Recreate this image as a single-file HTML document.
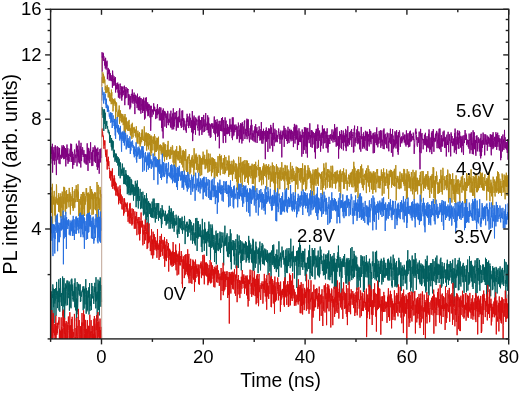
<!DOCTYPE html>
<html><head><meta charset="utf-8"><style>
html,body{margin:0;padding:0;background:#fff;width:520px;height:393px;overflow:hidden}
svg{display:block}
text{font-family:"Liberation Sans",Arial,sans-serif;font-size:18.5px;fill:#000}
.t{font-size:19.3px}
.yl{font-size:19.7px}
</style></head><body>
<svg width="520" height="393" viewBox="0 0 520 393">
<defs><filter id="b" x="0" y="0" width="1" height="1"><feGaussianBlur stdDeviation="0.5"/></filter><clipPath id="c"><rect x="50.6" y="9.3" width="458.1" height="329.6"/></clipPath></defs>
<g clip-path="url(#c)"><g filter="url(#b)" fill="none" stroke-width="1" stroke-linejoin="round">
<polyline points="50.6,146.3 50.8,163.5 51.0,149.2 51.2,152.8 51.4,154.0 51.6,149.9 51.8,146.6 52.0,158.9 52.2,156.9 52.4,143.8 52.6,172.6 52.8,161.3 53.0,149.8 53.2,160.8 53.4,151.6 53.6,154.1 53.8,159.9 54.0,147.1 54.2,158.4 54.4,164.6 54.6,164.0 54.8,152.6 55.0,160.8 55.2,145.3 55.4,153.5 55.6,157.5 55.8,146.7 56.0,154.0 56.2,167.2 56.4,175.1 56.6,159.8 56.8,160.2 57.0,148.7 57.2,147.4 57.4,146.3 57.6,158.2 57.8,159.7 58.0,150.4 58.2,147.3 58.4,156.2 58.6,156.6 58.8,153.6 59.0,163.6 59.2,153.9 59.4,154.1 59.6,147.9 59.8,155.4 60.0,164.2 60.2,154.9 60.4,154.9 60.6,157.4 60.8,156.3 61.0,158.1 61.2,158.1 61.4,158.7 61.6,149.6 61.8,156.5 62.0,145.4 62.2,156.3 62.4,147.1 62.6,154.0 62.8,157.7 63.0,151.9 63.2,155.1 63.4,145.2 63.6,149.3 63.8,159.2 64.0,147.7 64.2,158.9 64.4,146.5 64.6,149.0 64.8,148.0 65.0,154.5 65.2,158.1 65.4,148.1 65.6,153.3 65.8,166.4 66.0,152.5 66.2,149.5 66.4,157.1 66.6,153.1 66.8,150.2 67.0,144.5 67.2,160.1 67.4,150.9 67.6,154.5 67.8,148.2 68.0,163.8 68.2,159.6 68.4,161.4 68.6,153.8 68.8,157.6 69.0,160.7 69.2,161.7 69.4,156.6 69.6,154.1 69.8,152.2 70.0,149.9 70.2,148.7 70.4,156.9 70.6,152.9 70.8,143.6 71.0,153.5 71.2,162.0 71.4,152.7 71.6,144.2 71.8,153.7 72.0,159.9 72.2,155.8 72.4,151.8 72.6,168.3 72.8,168.7 73.0,153.8 73.2,160.1 73.4,157.1 73.6,159.9 73.8,165.0 74.0,160.2 74.2,155.1 74.4,150.5 74.6,149.5 74.8,154.3 75.0,162.7 75.2,156.5 75.4,154.8 75.6,156.2 75.8,154.7 76.0,158.2 76.2,147.8 76.4,143.7 76.6,151.8 76.8,147.7 77.0,166.3 77.2,153.5 77.4,152.9 77.6,145.7 77.8,156.4 78.0,150.6 78.2,162.4 78.4,160.3 78.6,149.7 78.8,157.2 79.0,140.6 79.2,150.3 79.4,163.4 79.6,159.9 79.8,155.6 80.0,154.3 80.2,146.3 80.4,146.6 80.6,156.0 80.8,167.5 81.0,142.8 81.2,158.8 81.4,158.6 81.6,161.1 81.8,149.2 82.0,151.2 82.2,154.8 82.4,148.3 82.6,147.3 82.8,149.1 83.0,154.0 83.2,157.0 83.4,154.3 83.6,155.0 83.8,150.3 84.0,150.1 84.2,162.4 84.4,154.1 84.6,153.9 84.8,161.0 85.0,163.3 85.2,163.6 85.4,157.2 85.6,154.2 85.8,156.4 86.0,155.7 86.2,164.6 86.4,156.4 86.6,158.8 86.8,154.3 87.0,164.4 87.2,143.3 87.4,157.0 87.6,159.7 87.8,147.6 88.0,170.9 88.2,153.5 88.4,153.4 88.6,148.1 88.8,160.6 89.0,156.0 89.2,150.8 89.4,156.0 89.6,159.2 89.8,163.1 90.0,155.9 90.2,148.7 90.4,151.0 90.6,142.3 90.8,150.0 91.0,159.5 91.2,157.6 91.4,153.8 91.6,152.3 91.8,166.1 92.0,156.4 92.2,160.8 92.4,157.1 92.6,150.4 92.8,165.8 93.0,147.2 93.2,147.4 93.4,151.8 93.6,150.0 93.8,151.0 94.0,150.8 94.2,161.4 94.4,154.8 94.6,156.8 94.8,145.5 95.0,149.3 95.2,162.1 95.4,147.4 95.6,162.9 95.8,148.3 96.0,156.5 96.2,149.4 96.4,155.8 96.6,149.1 96.8,152.8 97.0,166.8 97.2,152.1 97.4,169.9 97.6,151.6 97.8,147.6 98.0,155.0 98.2,151.9 98.4,167.5 98.6,160.5 98.8,162.9 99.0,158.8 99.2,173.7 99.4,160.0 99.6,158.1 99.8,149.4 100.0,149.0 100.2,155.7 100.4,161.5 100.6,162.4 100.8,148.8 101.0,158.1 101.2,155.8 101.4,147.9 101.6,157.9" stroke="#800080" />
<polyline points="101.8,52.2 102.0,60.8 102.2,71.6 102.4,55.9 102.6,59.7 102.8,52.5 103.0,55.5 103.2,61.0 103.4,53.4 103.6,56.7 103.8,56.1 104.0,56.6 104.2,59.5 104.4,61.4 104.6,65.5 104.8,64.3 105.0,59.2 105.2,68.5 105.4,68.3 105.6,57.8 105.8,66.9 106.0,68.3 106.2,69.6 106.4,68.4 106.6,61.8 106.8,66.2 107.0,60.7 107.2,67.9 107.4,79.2 107.6,73.0 107.8,74.4 108.0,69.1 108.2,67.9 108.4,68.3 108.6,73.7 108.8,70.6 109.0,71.9 109.2,80.6 109.4,69.6 109.6,71.3 109.8,75.0 110.0,77.4 110.2,77.9 110.4,73.3 110.6,79.9 110.8,78.7 111.0,81.1 111.2,75.2 111.4,81.0 111.6,81.1 111.8,77.5 112.0,79.5 112.2,78.3 112.4,87.7 112.6,70.6 112.8,75.6 113.0,74.9 113.2,80.1 113.4,79.1 113.6,80.4 113.8,85.8 114.0,76.2 114.2,79.3 114.4,82.1 114.6,78.3 114.8,85.2 115.0,85.2 115.2,80.8 115.4,77.2 115.6,92.5 115.8,86.7 116.0,86.7 116.2,85.2 116.4,85.0 116.6,89.3 116.8,85.4 117.0,82.9 117.2,89.3 117.4,86.4 117.6,82.9 117.8,82.6 118.0,92.6 118.2,89.9 118.4,97.6 118.6,84.9 118.8,84.2 119.0,89.6 119.2,95.0 119.4,91.0 119.6,90.4 119.8,98.6 120.0,85.4 120.2,83.6 120.4,85.8 120.6,87.8 120.8,91.2 121.0,94.8 121.2,91.7 121.4,97.9 121.6,86.5 121.8,100.6 122.0,86.8 122.2,96.6 122.4,86.7 122.6,92.6 122.8,91.3 123.0,93.8 123.2,95.2 123.4,90.6 123.6,91.4 123.8,93.1 124.0,86.5 124.2,89.0 124.4,85.7 124.6,92.6 124.8,105.2 125.0,96.6 125.2,89.2 125.4,90.1 125.6,98.4 125.8,91.4 126.0,87.0 126.2,89.4 126.4,89.5 126.6,89.7 126.8,97.8 127.1,94.9 127.3,88.4 127.5,92.4 127.7,90.1 127.9,90.0 128.1,89.0 128.3,105.2 128.5,94.3 128.7,98.8 128.9,100.6 129.1,94.4 129.3,99.1 129.5,99.3 129.7,97.8 129.9,109.3 130.1,98.5 130.3,96.1 130.5,100.7 130.7,107.5 130.9,102.9 131.1,95.6 131.3,94.0 131.5,93.8 131.7,95.1 131.9,100.2 132.1,102.8 132.3,89.4 132.5,98.5 132.7,93.8 132.9,102.3 133.1,103.7 133.3,95.5 133.5,97.0 133.7,94.9 133.9,101.4 134.1,92.6 134.3,94.6 134.5,96.5 134.7,106.5 134.9,114.1 135.1,100.1 135.3,94.7 135.5,100.6 135.7,96.4 135.9,102.8 136.1,95.6 136.3,98.9 136.5,100.8 136.7,103.6 136.9,100.7 137.1,108.1 137.3,101.9 137.5,93.7 137.7,106.4 137.9,100.2 138.1,98.6 138.3,110.2 138.5,97.4 138.7,102.4 138.9,98.8 139.1,109.8 139.3,100.6 139.5,103.7 139.7,96.4 139.9,110.7 140.1,97.9 140.3,107.8 140.5,109.1 140.7,110.0 140.9,113.7 141.1,98.1 141.3,105.6 141.5,104.3 141.7,105.9 141.9,109.9 142.1,104.5 142.3,100.2 142.5,103.7 142.7,113.0 142.9,99.0 143.1,104.9 143.3,100.1 143.5,110.8 143.7,97.6 143.9,103.3 144.1,104.4 144.3,105.8 144.5,119.5 144.7,114.3 144.9,100.7 145.1,118.5 145.3,100.3 145.5,97.9 145.7,99.4 145.9,107.3 146.1,109.3 146.3,97.3 146.5,109.1 146.7,105.6 146.9,110.9 147.1,105.3 147.3,112.3 147.5,110.6 147.7,102.3 147.9,116.2 148.1,109.2 148.3,112.2 148.5,115.5 148.7,103.9 148.9,108.2 149.1,104.9 149.3,104.5 149.5,110.6 149.7,111.1 149.9,117.1 150.1,117.6 150.3,109.6 150.5,105.8 150.7,130.8 150.9,123.1 151.1,109.6 151.3,105.8 151.5,108.3 151.7,112.0 151.9,117.1 152.1,116.2 152.3,113.2 152.5,109.7 152.7,112.0 152.9,109.6 153.1,111.7 153.3,110.9 153.5,114.4 153.7,103.3 153.9,110.0 154.1,110.4 154.3,106.6 154.5,111.2 154.7,107.1 154.9,109.0 155.1,110.9 155.3,111.2 155.5,109.8 155.7,119.1 155.9,113.9 156.1,114.7 156.3,114.3 156.5,109.9 156.7,109.0 156.9,118.2 157.1,111.7 157.3,105.6 157.5,104.2 157.7,115.1 157.9,110.3 158.1,113.7 158.3,111.4 158.5,112.2 158.7,113.5 158.9,108.6 159.1,114.6 159.3,120.4 159.5,118.8 159.7,107.0 159.9,108.7 160.1,108.9 160.3,114.0 160.5,120.3 160.7,117.3 160.9,107.6 161.1,116.1 161.3,120.5 161.5,113.7 161.7,127.9 161.9,112.9 162.1,123.2 162.3,131.4 162.5,110.4 162.7,114.9 162.9,119.9 163.1,138.4 163.3,108.5 163.5,120.0 163.7,118.4 163.9,114.7 164.1,112.7 164.3,114.3 164.5,115.4 164.7,110.9 164.9,126.6 165.1,111.7 165.3,115.0 165.5,113.9 165.7,115.1 165.9,117.8 166.1,113.5 166.3,116.2 166.5,128.0 166.7,123.7 166.9,116.0 167.1,122.8 167.3,113.7 167.5,118.9 167.7,110.9 167.9,112.2 168.1,113.5 168.3,125.2 168.5,119.2 168.7,121.0 168.9,118.8 169.1,120.1 169.3,120.4 169.5,122.5 169.7,119.0 169.9,113.6 170.1,114.2 170.3,125.5 170.5,126.8 170.7,121.5 170.9,110.7 171.1,128.1 171.3,120.3 171.5,118.2 171.7,118.7 171.9,116.7 172.1,129.6 172.3,129.1 172.5,113.5 172.7,117.8 172.9,120.6 173.1,126.6 173.3,108.3 173.5,124.4 173.7,129.3 173.9,117.3 174.1,118.9 174.3,126.6 174.5,121.3 174.7,112.7 174.9,113.5 175.1,114.1 175.3,112.5 175.5,119.3 175.7,116.7 175.9,119.7 176.1,123.6 176.3,130.7 176.5,120.8 176.7,111.0 176.9,128.1 177.1,119.1 177.3,126.7 177.5,117.4 177.7,121.5 177.9,119.2 178.1,119.8 178.3,127.7 178.5,116.6 178.7,121.0 178.9,121.3 179.1,118.1 179.3,110.3 179.5,122.2 179.7,108.3 179.9,113.1 180.1,118.0 180.3,122.8 180.5,125.5 180.7,125.3 180.9,124.0 181.1,118.7 181.3,127.9 181.5,119.3 181.7,127.4 181.9,110.7 182.1,116.0 182.3,117.9 182.5,120.9 182.7,110.4 182.9,125.8 183.1,126.9 183.3,125.7 183.5,118.4 183.7,130.1 183.9,118.4 184.1,126.6 184.3,121.0 184.5,121.3 184.7,120.6 184.9,121.3 185.1,128.1 185.3,130.3 185.5,130.3 185.7,126.9 185.9,125.5 186.1,124.2 186.3,132.7 186.5,119.3 186.7,118.4 186.9,122.0 187.1,113.8 187.3,120.5 187.5,121.5 187.7,116.6 187.9,118.8 188.1,125.9 188.3,120.7 188.5,122.4 188.7,128.1 188.9,118.8 189.1,116.3 189.3,121.8 189.5,124.5 189.7,113.6 189.9,125.9 190.1,120.5 190.3,120.0 190.5,117.8 190.7,121.2 190.9,128.0 191.1,125.3 191.3,127.1 191.5,120.4 191.7,132.3 191.9,130.2 192.1,122.3 192.3,111.0 192.5,122.9 192.7,141.1 192.9,122.3 193.1,117.4 193.3,133.4 193.5,119.4 193.7,125.5 193.9,127.2 194.1,115.6 194.3,123.5 194.5,130.0 194.7,121.1 194.9,126.7 195.1,122.8 195.3,129.1 195.5,134.7 195.7,117.4 195.9,121.5 196.1,125.3 196.3,119.7 196.5,118.8 196.7,121.2 196.9,121.7 197.1,119.7 197.3,125.1 197.5,128.0 197.7,127.6 197.9,127.3 198.1,130.6 198.3,116.6 198.5,122.7 198.7,124.5 198.9,126.5 199.1,115.6 199.3,135.5 199.5,118.9 199.7,125.0 199.9,127.9 200.1,130.2 200.3,120.0 200.5,120.8 200.7,125.8 200.9,127.1 201.1,129.2 201.3,123.4 201.5,120.1 201.7,117.2 201.9,134.9 202.1,117.1 202.3,128.0 202.5,125.5 202.7,128.5 202.9,129.7 203.1,132.3 203.3,123.7 203.5,126.3 203.7,114.9 203.9,124.4 204.1,119.4 204.3,123.3 204.5,131.8 204.7,124.8 204.9,130.9 205.1,123.2 205.3,126.6 205.5,122.1 205.7,113.0 205.9,120.6 206.1,123.0 206.3,125.3 206.5,124.5 206.7,123.8 206.9,130.2 207.1,128.2 207.3,122.4 207.5,129.8 207.7,115.3 207.9,123.1 208.1,123.9 208.3,132.8 208.5,121.9 208.7,117.5 208.9,125.8 209.1,135.6 209.3,123.7 209.5,124.4 209.7,123.8 209.9,125.3 210.1,133.1 210.3,137.8 210.5,127.8 210.7,124.5 210.9,137.1 211.1,125.7 211.3,125.6 211.5,123.3 211.7,123.5 211.9,126.7 212.1,123.8 212.3,127.8 212.5,125.9 212.7,128.7 212.9,123.4 213.1,124.4 213.3,127.0 213.5,126.0 213.7,126.2 213.9,132.9 214.1,120.2 214.3,116.5 214.5,130.1 214.7,124.5 214.9,134.3 215.1,125.4 215.3,119.9 215.5,140.5 215.7,128.3 215.9,123.6 216.1,122.1 216.3,129.4 216.5,122.5 216.7,128.4 216.9,133.4 217.1,119.3 217.3,124.3 217.5,129.1 217.7,137.0 217.9,132.0 218.1,123.9 218.3,135.7 218.5,124.5 218.7,125.6 218.9,128.7 219.1,120.9 219.3,148.3 219.5,134.1 219.7,127.9 219.9,123.6 220.1,120.8 220.3,128.9 220.5,131.0 220.7,124.7 220.9,125.8 221.1,130.2 221.3,126.6 221.5,118.0 221.7,131.0 221.9,128.5 222.1,131.5 222.3,123.1 222.5,117.2 222.7,120.8 222.9,129.0 223.1,141.0 223.3,143.1 223.5,129.1 223.7,120.1 223.9,125.6 224.1,130.1 224.3,130.0 224.5,128.1 224.7,136.0 224.9,122.8 225.1,117.4 225.3,123.0 225.5,121.7 225.7,142.7 225.9,126.7 226.1,120.6 226.3,131.5 226.5,134.0 226.7,128.2 226.9,129.0 227.1,134.3 227.3,131.1 227.5,124.3 227.7,131.6 227.9,133.8 228.1,130.2 228.3,133.5 228.5,131.7 228.7,126.9 228.9,127.5 229.1,132.0 229.3,125.3 229.5,135.6 229.7,136.1 229.9,118.8 230.1,128.1 230.3,124.5 230.5,125.1 230.7,129.4 230.9,127.7 231.1,132.0 231.3,130.6 231.5,130.9 231.7,124.6 231.9,126.9 232.1,138.2 232.3,117.5 232.5,140.1 232.7,125.9 232.9,136.4 233.1,117.3 233.3,126.8 233.5,134.3 233.7,130.0 233.9,135.5 234.1,124.6 234.3,126.2 234.5,125.7 234.7,132.3 234.9,132.1 235.1,128.7 235.3,127.9 235.5,127.8 235.7,130.0 235.9,124.5 236.1,129.2 236.3,128.8 236.5,126.7 236.7,126.5 236.9,139.2 237.1,126.4 237.3,132.2 237.5,138.5 237.7,134.3 237.9,129.9 238.1,136.1 238.3,122.6 238.5,123.5 238.7,127.7 238.9,128.7 239.1,129.5 239.3,142.5 239.5,141.1 239.7,129.9 239.9,131.6 240.1,125.3 240.3,132.1 240.5,123.3 240.7,139.2 240.9,127.4 241.1,133.6 241.3,123.6 241.5,139.2 241.7,134.1 241.9,143.5 242.1,130.8 242.3,122.3 242.5,126.3 242.7,124.0 242.9,140.8 243.1,127.2 243.3,126.5 243.5,134.2 243.7,132.2 243.9,133.7 244.1,127.9 244.3,121.1 244.5,123.8 244.7,120.4 244.9,139.0 245.1,136.5 245.3,128.8 245.5,134.7 245.7,135.1 245.9,134.8 246.1,134.2 246.3,136.5 246.5,131.6 246.7,120.6 246.9,118.7 247.1,139.2 247.3,134.8 247.5,119.6 247.7,132.3 247.9,126.6 248.1,128.3 248.3,119.4 248.5,136.1 248.7,130.9 248.9,136.5 249.1,138.3 249.3,139.7 249.5,142.3 249.7,133.3 249.9,132.9 250.1,128.1 250.3,134.8 250.5,130.3 250.7,125.5 250.9,139.4 251.1,136.1 251.3,119.6 251.5,122.6 251.7,130.6 251.9,124.9 252.1,139.8 252.3,133.0 252.5,135.5 252.7,137.9 252.9,140.7 253.1,130.5 253.3,136.0 253.5,133.7 253.7,137.2 253.9,135.6 254.1,141.6 254.3,135.6 254.5,129.6 254.7,133.1 254.9,126.3 255.1,134.3 255.3,142.4 255.5,129.1 255.7,124.1 255.9,132.1 256.1,129.7 256.3,132.6 256.5,129.3 256.7,133.1 256.9,127.2 257.1,143.0 257.3,131.4 257.5,135.9 257.7,137.6 257.9,132.0 258.1,135.6 258.3,131.5 258.5,130.4 258.7,131.7 258.9,136.0 259.1,126.3 259.3,128.1 259.5,128.7 259.7,129.9 259.9,140.6 260.1,133.0 260.3,131.4 260.5,134.0 260.7,140.0 260.9,129.1 261.1,139.7 261.3,122.1 261.5,128.4 261.7,143.0 261.9,143.6 262.1,134.5 262.3,130.9 262.5,138.5 262.7,131.0 262.9,143.7 263.1,141.1 263.3,138.3 263.5,128.8 263.7,139.7 263.9,132.1 264.1,132.2 264.3,131.1 264.5,132.9 264.7,136.6 264.9,138.9 265.1,139.0 265.3,159.2 265.5,131.7 265.7,141.2 265.9,130.0 266.1,132.6 266.3,127.5 266.5,141.6 266.7,135.4 266.9,134.6 267.1,133.1 267.3,139.7 267.5,131.0 267.7,136.3 267.9,151.9 268.1,133.1 268.3,130.4 268.5,128.4 268.7,139.1 268.9,134.4 269.1,129.8 269.3,129.4 269.5,134.2 269.7,128.6 269.9,148.6 270.1,133.0 270.3,133.1 270.5,133.6 270.7,124.9 270.9,126.5 271.1,132.1 271.3,134.0 271.5,127.5 271.7,145.6 271.9,137.0 272.1,142.7 272.3,141.9 272.5,132.9 272.7,151.6 272.9,135.0 273.1,124.7 273.3,122.9 273.5,134.3 273.7,139.9 273.9,134.7 274.1,146.1 274.3,132.6 274.5,137.9 274.7,139.0 274.9,128.7 275.1,136.3 275.3,136.6 275.5,141.5 275.7,142.3 275.9,140.8 276.1,130.2 276.3,139.1 276.5,141.4 276.7,134.7 276.9,139.2 277.1,139.4 277.3,142.2 277.5,135.0 277.7,137.5 277.9,135.7 278.1,134.9 278.3,131.1 278.5,132.6 278.7,128.5 278.9,133.4 279.1,138.9 279.3,138.4 279.5,139.3 279.8,133.9 280.0,143.8 280.2,132.0 280.4,139.4 280.6,137.2 280.8,130.5 281.0,130.7 281.2,139.4 281.4,134.9 281.6,136.3 281.8,157.4 282.0,138.2 282.2,135.4 282.4,139.4 282.6,131.4 282.8,133.7 283.0,137.5 283.2,130.3 283.4,134.6 283.6,133.7 283.8,135.5 284.0,125.8 284.2,146.9 284.4,134.4 284.6,138.3 284.8,129.3 285.0,128.0 285.2,135.1 285.4,133.1 285.6,139.0 285.8,129.9 286.0,129.6 286.2,137.0 286.4,139.4 286.6,140.9 286.8,134.8 287.0,136.6 287.2,130.6 287.4,143.7 287.6,142.5 287.8,142.2 288.0,126.8 288.2,140.7 288.4,131.0 288.6,138.2 288.8,137.8 289.0,143.1 289.2,134.0 289.4,133.2 289.6,129.6 289.8,128.8 290.0,138.8 290.2,130.2 290.4,139.4 290.6,133.0 290.8,132.0 291.0,141.3 291.2,140.6 291.4,129.8 291.6,134.2 291.8,135.2 292.0,139.4 292.2,131.1 292.4,132.8 292.6,134.6 292.8,139.6 293.0,140.9 293.2,132.2 293.4,147.1 293.6,137.9 293.8,130.9 294.0,127.2 294.2,132.5 294.4,123.9 294.6,136.4 294.8,138.8 295.0,143.6 295.2,138.4 295.4,126.6 295.6,133.7 295.8,139.7 296.0,124.7 296.2,130.8 296.4,139.3 296.6,135.7 296.8,125.4 297.0,132.6 297.2,135.6 297.4,149.8 297.6,133.0 297.8,130.5 298.0,137.0 298.2,137.5 298.4,139.1 298.6,145.1 298.8,135.2 299.0,128.3 299.2,135.8 299.4,135.7 299.6,141.8 299.8,140.9 300.0,131.5 300.2,140.5 300.4,142.1 300.6,134.6 300.8,141.7 301.0,136.7 301.2,136.8 301.4,134.9 301.6,140.8 301.8,156.7 302.0,137.1 302.2,129.5 302.4,134.4 302.6,132.5 302.8,137.8 303.0,135.0 303.2,154.0 303.4,140.5 303.6,148.5 303.8,131.9 304.0,134.6 304.2,150.1 304.4,127.3 304.6,136.8 304.8,127.8 305.0,146.2 305.2,128.5 305.4,134.2 305.6,134.9 305.8,127.3 306.0,153.6 306.2,135.0 306.4,147.1 306.6,132.1 306.8,128.3 307.0,137.3 307.2,137.2 307.4,157.5 307.6,130.3 307.8,127.9 308.0,132.1 308.2,137.9 308.4,139.6 308.6,131.9 308.8,134.1 309.0,139.5 309.2,143.2 309.4,132.7 309.6,136.9 309.8,123.3 310.0,130.8 310.2,138.8 310.4,136.1 310.6,135.1 310.8,147.0 311.0,134.5 311.2,130.2 311.4,137.5 311.6,137.5 311.8,130.0 312.0,142.7 312.2,147.8 312.4,132.9 312.6,131.4 312.8,135.8 313.0,144.5 313.2,133.1 313.4,132.2 313.6,133.0 313.8,137.8 314.0,137.7 314.2,135.4 314.4,144.2 314.6,152.2 314.8,133.1 315.0,143.1 315.2,138.1 315.4,158.6 315.6,131.6 315.8,134.5 316.0,137.1 316.2,128.9 316.4,135.3 316.6,141.0 316.8,128.9 317.0,137.3 317.2,148.7 317.4,133.2 317.6,131.6 317.8,124.5 318.0,135.9 318.2,128.1 318.4,140.1 318.6,147.7 318.8,140.1 319.0,132.2 319.2,140.8 319.4,134.0 319.6,130.5 319.8,133.8 320.0,138.1 320.2,134.6 320.4,140.0 320.6,151.7 320.8,140.6 321.0,141.5 321.2,133.0 321.4,145.6 321.6,138.9 321.8,143.3 322.0,132.4 322.2,138.2 322.4,125.4 322.6,134.7 322.8,132.1 323.0,131.3 323.2,148.6 323.4,128.8 323.6,135.9 323.8,136.0 324.0,140.1 324.2,143.3 324.4,128.5 324.6,133.7 324.8,132.9 325.0,141.2 325.2,142.8 325.4,134.5 325.6,133.8 325.8,131.3 326.0,139.1 326.2,148.1 326.4,139.2 326.6,132.9 326.8,132.2 327.0,132.9 327.2,128.3 327.4,148.7 327.6,137.3 327.8,135.0 328.0,152.6 328.2,138.3 328.4,146.8 328.6,138.6 328.8,144.1 329.0,137.4 329.2,134.8 329.4,139.5 329.6,141.5 329.8,144.0 330.0,138.2 330.2,135.5 330.4,134.8 330.6,138.9 330.8,134.2 331.0,135.1 331.2,140.4 331.4,140.7 331.6,140.2 331.8,132.9 332.0,129.4 332.2,138.7 332.4,137.8 332.6,134.9 332.8,138.3 333.0,142.5 333.2,135.9 333.4,139.6 333.6,131.7 333.8,135.8 334.0,132.5 334.2,129.5 334.4,139.8 334.6,124.1 334.8,136.8 335.0,142.1 335.2,139.6 335.4,129.1 335.6,138.6 335.8,127.9 336.0,132.3 336.2,146.7 336.4,138.2 336.6,144.9 336.8,131.2 337.0,126.9 337.2,133.0 337.4,145.7 337.6,143.1 337.8,144.2 338.0,136.4 338.2,136.7 338.4,136.1 338.6,158.6 338.8,137.8 339.0,149.3 339.2,136.3 339.4,146.5 339.6,131.4 339.8,134.5 340.0,139.6 340.2,134.1 340.4,135.0 340.6,136.5 340.8,134.3 341.0,147.9 341.2,144.8 341.4,130.0 341.6,149.1 341.8,137.3 342.0,137.3 342.2,136.5 342.4,143.1 342.6,142.0 342.8,134.6 343.0,137.9 343.2,130.6 343.4,150.4 343.6,132.8 343.8,132.7 344.0,133.6 344.2,138.5 344.4,142.4 344.6,135.6 344.8,137.8 345.0,135.7 345.2,146.2 345.4,139.1 345.6,128.9 345.8,147.6 346.0,139.8 346.2,151.1 346.4,134.3 346.6,134.9 346.8,136.8 347.0,130.3 347.2,135.7 347.4,146.1 347.6,142.3 347.8,126.2 348.0,146.4 348.2,140.1 348.4,143.1 348.6,138.1 348.8,139.1 349.0,138.3 349.2,138.2 349.4,132.2 349.6,144.7 349.8,139.3 350.0,140.3 350.2,140.1 350.4,136.2 350.6,137.6 350.8,130.8 351.0,139.6 351.2,139.7 351.4,136.6 351.6,129.1 351.8,146.9 352.0,137.0 352.2,137.9 352.4,136.2 352.6,134.6 352.8,135.7 353.0,132.0 353.2,134.7 353.4,152.5 353.6,145.9 353.8,152.1 354.0,134.6 354.2,128.5 354.4,130.8 354.6,125.6 354.8,145.3 355.0,146.3 355.2,138.8 355.4,140.5 355.6,140.5 355.8,137.5 356.0,142.9 356.2,132.6 356.4,135.7 356.6,137.4 356.8,129.4 357.0,132.7 357.2,141.0 357.4,140.4 357.6,126.3 357.8,144.2 358.0,140.5 358.2,143.2 358.4,137.9 358.6,142.0 358.8,131.3 359.0,137.1 359.2,132.5 359.4,135.4 359.6,146.1 359.8,149.4 360.0,138.6 360.2,135.8 360.4,143.4 360.6,141.3 360.8,151.7 361.0,142.4 361.2,126.9 361.4,138.8 361.6,136.5 361.8,133.9 362.0,139.3 362.2,138.8 362.4,136.4 362.6,148.6 362.8,140.8 363.0,141.0 363.2,139.5 363.4,146.6 363.6,132.4 363.8,146.5 364.0,137.1 364.2,148.6 364.4,148.1 364.6,141.7 364.8,135.9 365.0,140.3 365.2,140.8 365.4,130.8 365.6,136.7 365.8,134.6 366.0,147.8 366.2,150.3 366.4,134.5 366.6,135.6 366.8,131.6 367.0,140.3 367.2,143.9 367.4,151.0 367.6,131.8 367.8,144.7 368.0,137.8 368.2,134.6 368.4,136.7 368.6,134.4 368.8,141.5 369.0,138.7 369.2,146.5 369.4,135.7 369.6,129.2 369.8,133.3 370.0,140.9 370.2,130.9 370.4,134.5 370.6,142.1 370.8,131.4 371.0,144.2 371.2,140.9 371.4,135.5 371.6,138.5 371.8,135.9 372.0,136.5 372.2,136.9 372.4,138.9 372.6,138.3 372.8,134.6 373.0,133.4 373.2,153.3 373.4,132.8 373.6,138.0 373.8,146.8 374.0,145.3 374.2,134.8 374.4,152.9 374.6,151.0 374.8,137.1 375.0,132.2 375.2,142.9 375.4,137.9 375.6,137.2 375.8,134.4 376.0,135.5 376.2,140.0 376.4,144.8 376.6,128.6 376.8,127.4 377.0,145.3 377.2,134.3 377.4,143.4 377.6,139.7 377.8,147.3 378.0,144.9 378.2,137.4 378.4,138.1 378.6,141.0 378.8,143.8 379.0,135.5 379.2,131.1 379.4,139.7 379.6,138.9 379.8,138.2 380.0,133.6 380.2,143.0 380.4,130.2 380.6,136.4 380.8,147.8 381.0,133.1 381.2,141.8 381.4,142.0 381.6,141.9 381.8,130.5 382.0,145.8 382.2,140.1 382.4,142.3 382.6,141.2 382.8,139.6 383.0,147.4 383.2,149.0 383.4,129.8 383.6,134.9 383.8,138.3 384.0,128.5 384.2,149.2 384.4,135.0 384.6,142.9 384.8,140.7 385.0,138.1 385.2,133.8 385.4,137.3 385.6,139.9 385.8,144.4 386.0,138.2 386.2,137.1 386.4,137.9 386.6,148.1 386.8,141.2 387.0,135.6 387.2,132.6 387.4,137.1 387.6,134.3 387.8,137.0 388.0,148.5 388.2,143.9 388.4,140.9 388.6,142.0 388.8,151.3 389.0,133.2 389.2,142.3 389.4,138.3 389.6,140.4 389.8,140.0 390.0,137.7 390.2,142.9 390.4,128.7 390.6,141.3 390.8,143.9 391.0,134.2 391.2,134.1 391.4,152.8 391.6,134.5 391.8,137.4 392.0,135.2 392.2,136.1 392.4,135.8 392.6,129.0 392.8,156.7 393.0,135.5 393.2,142.0 393.4,139.1 393.6,148.6 393.8,144.0 394.0,147.0 394.2,147.3 394.4,145.0 394.6,139.8 394.8,145.5 395.0,131.3 395.2,145.4 395.4,144.1 395.6,141.5 395.8,132.5 396.0,148.5 396.2,135.8 396.4,143.6 396.6,130.2 396.8,138.6 397.0,136.0 397.2,135.3 397.4,135.9 397.6,151.9 397.8,139.5 398.0,141.8 398.2,154.7 398.4,132.1 398.6,150.0 398.8,137.6 399.0,136.1 399.2,137.3 399.4,130.4 399.6,131.6 399.8,133.5 400.0,136.5 400.2,144.3 400.4,146.8 400.6,137.6 400.8,142.1 401.0,142.5 401.2,138.4 401.4,141.2 401.6,136.4 401.8,143.3 402.0,138.4 402.2,140.0 402.4,141.3 402.6,140.7 402.8,135.7 403.0,132.5 403.2,139.4 403.4,136.5 403.6,136.7 403.8,139.2 404.0,135.8 404.2,142.6 404.4,142.3 404.6,134.8 404.8,142.1 405.0,134.5 405.2,144.4 405.4,143.7 405.6,139.8 405.8,145.6 406.0,146.5 406.2,142.6 406.4,130.4 406.6,140.7 406.8,141.1 407.0,145.0 407.2,134.4 407.4,144.3 407.6,142.0 407.8,142.4 408.0,133.1 408.2,135.0 408.4,147.3 408.6,145.2 408.8,139.4 409.0,147.0 409.2,141.5 409.4,137.5 409.6,131.6 409.8,146.5 410.0,139.1 410.2,141.3 410.4,130.7 410.6,136.8 410.8,141.7 411.0,138.5 411.2,135.7 411.4,133.8 411.6,141.2 411.8,137.8 412.0,137.9 412.2,138.2 412.4,136.2 412.6,138.0 412.8,136.4 413.0,140.1 413.2,132.6 413.4,133.9 413.6,140.1 413.8,139.0 414.0,140.9 414.2,153.9 414.4,144.7 414.6,147.3 414.8,142.5 415.0,139.3 415.2,135.5 415.4,130.5 415.6,132.5 415.8,128.6 416.0,133.9 416.2,131.7 416.4,134.6 416.6,139.9 416.8,137.6 417.0,145.7 417.2,145.8 417.4,146.6 417.6,145.5 417.8,141.7 418.0,137.1 418.2,142.8 418.4,138.6 418.6,138.9 418.8,142.6 419.0,134.1 419.2,131.6 419.4,142.1 419.6,152.2 419.8,147.4 420.0,169.3 420.2,132.6 420.4,136.4 420.6,128.9 420.8,135.3 421.0,153.2 421.2,151.0 421.4,134.5 421.6,138.3 421.8,135.5 422.0,133.0 422.2,138.7 422.4,138.3 422.6,140.7 422.8,141.8 423.0,144.6 423.2,149.3 423.4,139.7 423.6,139.0 423.8,140.3 424.0,143.0 424.2,139.4 424.4,134.8 424.6,137.2 424.8,144.9 425.0,134.6 425.2,145.4 425.4,132.8 425.6,144.1 425.8,144.0 426.0,139.0 426.2,140.1 426.4,138.9 426.6,151.7 426.8,137.8 427.0,136.2 427.2,142.6 427.4,147.5 427.6,142.4 427.8,139.5 428.0,147.0 428.2,136.1 428.4,136.0 428.6,133.7 428.8,148.3 429.0,129.4 429.2,133.4 429.4,141.9 429.6,142.9 429.8,152.2 430.0,143.0 430.2,137.5 430.4,149.6 430.6,147.3 430.8,148.0 431.0,147.3 431.2,143.6 431.4,132.7 431.6,134.6 431.8,154.1 432.0,140.7 432.2,131.0 432.5,140.8 432.7,146.6 432.9,142.9 433.1,140.5 433.3,129.1 433.5,140.8 433.7,139.7 433.9,151.8 434.1,140.5 434.3,140.2 434.5,137.9 434.7,139.8 434.9,142.1 435.1,137.6 435.3,135.6 435.5,133.8 435.7,141.2 435.9,138.4 436.1,138.6 436.3,132.5 436.5,136.0 436.7,130.9 436.9,146.6 437.1,148.2 437.3,143.0 437.5,139.8 437.7,143.4 437.9,132.7 438.1,133.4 438.3,148.2 438.5,134.8 438.7,140.2 438.9,136.7 439.1,128.8 439.3,136.7 439.5,145.8 439.7,149.2 439.9,128.5 440.1,132.3 440.3,137.3 440.5,147.0 440.7,148.6 440.9,151.3 441.1,152.0 441.3,138.2 441.5,135.2 441.7,146.6 441.9,139.1 442.1,140.8 442.3,138.6 442.5,138.4 442.7,146.5 442.9,135.1 443.1,131.6 443.3,136.7 443.5,141.3 443.7,138.9 443.9,139.8 444.1,130.6 444.3,135.8 444.5,147.6 444.7,139.6 444.9,136.8 445.1,148.0 445.3,137.4 445.5,145.4 445.7,141.9 445.9,143.1 446.1,147.3 446.3,156.5 446.5,149.0 446.7,135.9 446.9,134.6 447.1,138.7 447.3,139.6 447.5,145.0 447.7,140.8 447.9,141.8 448.1,131.8 448.3,140.3 448.5,143.9 448.7,152.2 448.9,145.6 449.1,141.2 449.3,134.2 449.5,140.6 449.7,140.7 449.9,139.8 450.1,141.6 450.3,143.8 450.5,143.4 450.7,156.4 450.9,135.3 451.1,132.4 451.3,143.1 451.5,134.0 451.7,139.4 451.9,140.2 452.1,136.1 452.3,145.7 452.5,144.7 452.7,141.5 452.9,144.5 453.1,146.2 453.3,138.9 453.5,144.4 453.7,141.5 453.9,140.7 454.1,138.0 454.3,152.6 454.5,142.7 454.7,133.2 454.9,143.8 455.1,128.6 455.3,142.3 455.5,145.6 455.7,150.2 455.9,142.0 456.1,136.7 456.3,154.1 456.5,147.4 456.7,149.3 456.9,139.2 457.1,144.7 457.3,131.7 457.5,143.7 457.7,130.3 457.9,135.1 458.1,133.0 458.3,148.2 458.5,146.7 458.7,137.4 458.9,148.9 459.1,141.2 459.3,130.8 459.5,138.5 459.7,131.9 459.9,141.2 460.1,143.0 460.3,136.6 460.5,146.0 460.7,147.6 460.9,135.8 461.1,144.4 461.3,140.2 461.5,139.2 461.7,152.3 461.9,136.8 462.1,138.8 462.3,140.5 462.5,144.4 462.7,145.8 462.9,135.7 463.1,150.0 463.3,153.5 463.5,155.0 463.7,141.9 463.9,138.0 464.1,135.1 464.3,143.1 464.5,140.5 464.7,140.6 464.9,137.4 465.1,130.0 465.3,139.3 465.5,140.0 465.7,138.8 465.9,133.4 466.1,139.4 466.3,140.1 466.5,134.8 466.7,145.1 466.9,140.8 467.1,141.9 467.3,143.5 467.5,139.6 467.7,140.6 467.9,144.4 468.1,146.0 468.3,146.9 468.5,140.0 468.7,146.0 468.9,148.7 469.1,133.6 469.3,138.8 469.5,141.0 469.7,141.2 469.9,153.6 470.1,149.0 470.3,140.4 470.5,140.5 470.7,133.7 470.9,135.8 471.1,150.2 471.3,132.3 471.5,145.2 471.7,137.3 471.9,139.5 472.1,140.7 472.3,154.0 472.5,143.4 472.7,144.5 472.9,148.0 473.1,130.3 473.3,154.4 473.5,132.6 473.7,137.3 473.9,145.8 474.1,134.7 474.3,132.3 474.5,149.2 474.7,139.6 474.9,147.6 475.1,144.6 475.3,140.3 475.5,153.2 475.7,140.0 475.9,155.8 476.1,136.5 476.3,136.0 476.5,137.6 476.7,143.0 476.9,135.3 477.1,137.6 477.3,151.4 477.5,142.8 477.7,149.3 477.9,144.0 478.1,138.3 478.3,137.3 478.5,142.8 478.7,142.1 478.9,138.7 479.1,138.5 479.3,151.6 479.5,148.6 479.7,143.6 479.9,139.7 480.1,139.3 480.3,155.9 480.5,138.3 480.7,158.4 480.9,138.0 481.1,133.8 481.3,156.1 481.5,141.1 481.7,152.2 481.9,144.6 482.1,140.4 482.3,148.0 482.5,140.1 482.7,144.6 482.9,141.0 483.1,132.6 483.3,144.3 483.5,138.7 483.7,141.0 483.9,144.4 484.1,134.2 484.3,145.3 484.5,145.5 484.7,155.3 484.9,147.2 485.1,144.0 485.3,138.1 485.5,141.7 485.7,134.3 485.9,144.4 486.1,140.7 486.3,139.7 486.5,141.9 486.7,144.7 486.9,143.5 487.1,135.4 487.3,150.7 487.5,142.0 487.7,143.9 487.9,141.9 488.1,136.6 488.3,143.5 488.5,139.5 488.7,137.0 488.9,142.6 489.1,146.7 489.3,145.7 489.5,143.0 489.7,138.3 489.9,139.9 490.1,141.1 490.3,134.2 490.5,147.0 490.7,142.4 490.9,135.0 491.1,152.0 491.3,155.3 491.5,134.9 491.7,140.8 491.9,137.2 492.1,146.8 492.3,134.5 492.5,145.0 492.7,144.3 492.9,149.2 493.1,132.2 493.3,137.6 493.5,140.7 493.7,148.1 493.9,142.5 494.1,146.7 494.3,144.8 494.5,136.9 494.7,141.2 494.9,139.6 495.1,140.1 495.3,136.8 495.5,146.8 495.7,143.8 495.9,132.2 496.1,146.6 496.3,138.7 496.5,134.1 496.7,149.9 496.9,141.8 497.1,144.1 497.3,141.2 497.5,141.7 497.7,132.7 497.9,146.8 498.1,137.8 498.3,142.1 498.5,141.5 498.7,136.6 498.9,135.2 499.1,141.1 499.3,150.4 499.5,138.3 499.7,138.6 499.9,142.6 500.1,138.7 500.3,150.8 500.5,144.9 500.7,160.2 500.9,143.4 501.1,157.9 501.3,138.7 501.5,143.5 501.7,136.3 501.9,139.9 502.1,140.3 502.3,146.1 502.5,151.4 502.7,140.7 502.9,134.5 503.1,142.3 503.3,141.3 503.5,139.5 503.7,147.9 503.9,149.9 504.1,138.4 504.3,138.3 504.5,129.9 504.7,138.8 504.9,147.9 505.1,137.3 505.3,148.4 505.5,146.8 505.7,146.5 505.9,146.6 506.1,142.1 506.3,149.3 506.5,149.6 506.7,144.8 506.9,142.4 507.1,151.5 507.3,153.0 507.5,139.0 507.7,148.2 507.9,143.1 508.1,159.7 508.3,140.8 508.5,139.1 508.7,137.6" stroke="#800080" />
<polyline points="50.6,207.1 50.8,192.5 51.0,204.8 51.2,196.0 51.4,210.9 51.6,213.0 51.8,209.1 52.0,187.3 52.2,190.1 52.4,183.8 52.6,223.7 52.8,195.5 53.0,196.8 53.2,200.1 53.4,204.5 53.6,197.3 53.8,200.2 54.0,199.7 54.2,190.9 54.4,215.4 54.6,214.6 54.8,200.0 55.0,198.8 55.2,216.1 55.4,221.8 55.6,200.2 55.8,204.6 56.0,196.8 56.2,202.4 56.4,184.4 56.6,185.9 56.8,203.4 57.0,198.4 57.2,203.0 57.4,200.5 57.6,204.7 57.8,201.9 58.0,198.6 58.2,203.2 58.4,195.2 58.6,211.8 58.8,193.1 59.0,197.0 59.2,207.3 59.4,197.3 59.6,207.8 59.8,212.4 60.0,206.4 60.2,196.8 60.4,216.7 60.6,203.7 60.8,193.3 61.0,217.8 61.2,201.5 61.4,205.0 61.6,207.5 61.8,196.4 62.0,207.5 62.2,191.6 62.4,193.2 62.6,197.2 62.8,219.6 63.0,204.9 63.2,209.8 63.4,197.0 63.6,204.4 63.8,186.8 64.0,198.3 64.2,203.6 64.4,196.1 64.6,187.4 64.8,189.3 65.0,205.3 65.2,211.6 65.4,197.4 65.6,213.9 65.8,191.3 66.0,205.1 66.2,202.5 66.4,208.8 66.6,190.0 66.8,208.4 67.0,201.0 67.2,194.0 67.4,196.7 67.6,198.4 67.8,202.2 68.0,194.0 68.2,193.9 68.4,200.6 68.6,199.7 68.8,203.9 69.0,207.3 69.2,187.9 69.4,199.1 69.6,201.6 69.8,200.1 70.0,192.3 70.2,205.4 70.4,214.5 70.6,198.4 70.8,194.1 71.0,205.9 71.2,199.8 71.4,200.5 71.6,201.3 71.8,196.3 72.0,199.5 72.2,194.4 72.4,187.0 72.6,208.1 72.8,201.8 73.0,199.0 73.2,210.8 73.4,198.4 73.6,208.8 73.8,206.2 74.0,197.4 74.2,191.0 74.4,203.2 74.6,201.3 74.8,207.8 75.0,189.3 75.2,198.6 75.4,201.3 75.6,202.2 75.8,200.4 76.0,201.9 76.2,185.2 76.4,197.2 76.6,194.7 76.8,189.2 77.0,200.3 77.2,196.6 77.4,191.5 77.6,190.1 77.8,202.0 78.0,184.2 78.2,198.8 78.4,191.7 78.6,200.5 78.8,216.2 79.0,207.8 79.2,199.0 79.4,212.3 79.6,215.9 79.8,207.6 80.0,215.6 80.2,201.2 80.4,204.6 80.6,198.9 80.8,196.7 81.0,199.7 81.2,194.0 81.4,198.8 81.6,219.4 81.8,205.3 82.0,198.1 82.2,214.5 82.4,211.9 82.6,192.2 82.8,194.6 83.0,214.6 83.2,200.3 83.4,201.0 83.6,195.8 83.8,191.9 84.0,209.2 84.2,193.8 84.4,203.9 84.6,215.9 84.8,203.9 85.0,198.0 85.2,204.7 85.4,204.1 85.6,196.3 85.8,201.7 86.0,191.3 86.2,188.1 86.4,195.6 86.6,188.1 86.8,195.0 87.0,198.6 87.2,200.9 87.4,215.8 87.6,193.0 87.8,196.1 88.0,196.1 88.2,192.4 88.4,217.4 88.6,193.9 88.8,197.7 89.0,198.1 89.2,221.6 89.4,197.1 89.6,193.9 89.8,209.8 90.0,194.6 90.2,186.1 90.4,208.8 90.6,207.0 90.8,189.7 91.0,190.9 91.2,199.1 91.4,192.5 91.6,189.1 91.8,191.0 92.0,214.9 92.2,208.2 92.4,191.8 92.6,198.0 92.8,200.0 93.0,196.7 93.2,198.9 93.4,214.4 93.6,194.5 93.8,193.6 94.0,198.7 94.2,194.2 94.4,195.8 94.6,195.8 94.8,192.1 95.0,209.2 95.2,194.2 95.4,210.2 95.6,193.0 95.8,192.6 96.0,200.9 96.2,197.0 96.4,205.9 96.6,204.4 96.8,220.0 97.0,182.0 97.2,191.7 97.4,198.6 97.6,197.4 97.8,198.6 98.0,222.9 98.2,184.9 98.4,204.4 98.6,197.2 98.8,199.0 99.0,208.0 99.2,198.5 99.4,205.4 99.6,209.9 99.8,209.0 100.0,186.9 100.2,194.2 100.4,190.1 100.6,193.3 100.8,197.5 101.0,217.6 101.2,194.2 101.4,196.7 101.6,197.6" stroke="#b48a14" />
<polyline points="101.8,86.4 102.0,77.2 102.2,81.3 102.4,83.0 102.6,81.9 102.8,72.3 103.0,74.6 103.2,82.9 103.4,74.0 103.6,79.8 103.8,75.7 104.0,83.4 104.2,81.9 104.4,76.8 104.6,82.0 104.8,79.4 105.0,81.7 105.2,90.2 105.4,86.0 105.6,86.8 105.8,93.2 106.0,86.7 106.2,92.9 106.4,88.9 106.6,88.8 106.8,86.5 107.0,85.2 107.2,84.9 107.4,85.7 107.6,92.3 107.8,92.2 108.0,87.5 108.2,97.3 108.4,89.1 108.6,90.6 108.8,87.4 109.0,89.8 109.2,97.8 109.4,96.1 109.6,91.9 109.8,101.1 110.0,95.2 110.2,96.3 110.4,101.5 110.6,98.9 110.8,95.6 111.0,93.1 111.2,104.2 111.4,89.6 111.6,95.8 111.8,92.1 112.0,96.7 112.2,103.7 112.4,98.4 112.6,98.4 112.8,100.4 113.0,111.4 113.2,108.3 113.4,102.7 113.6,99.2 113.8,100.6 114.0,104.3 114.2,102.0 114.4,102.9 114.6,99.4 114.8,98.5 115.0,99.9 115.2,106.0 115.4,101.2 115.6,119.9 115.8,108.7 116.0,109.6 116.2,111.8 116.4,102.6 116.6,102.4 116.8,106.7 117.0,111.1 117.2,111.3 117.4,117.9 117.6,116.8 117.8,115.2 118.0,116.1 118.2,111.8 118.4,115.4 118.6,110.0 118.8,109.7 119.0,117.0 119.2,105.5 119.4,120.5 119.6,123.8 119.8,111.3 120.0,118.0 120.2,115.3 120.4,110.3 120.6,117.0 120.8,118.2 121.0,121.2 121.2,114.4 121.4,117.1 121.6,113.7 121.8,122.5 122.0,116.8 122.2,122.2 122.4,114.6 122.6,118.8 122.8,114.2 123.0,115.2 123.2,125.2 123.4,118.4 123.6,119.2 123.8,123.9 124.0,116.3 124.2,132.0 124.4,117.1 124.6,119.1 124.8,134.6 125.0,114.0 125.2,132.4 125.4,124.4 125.6,125.3 125.8,117.9 126.0,124.0 126.2,117.5 126.4,129.3 126.6,122.7 126.8,121.1 127.1,122.1 127.3,124.0 127.5,130.6 127.7,127.4 127.9,121.9 128.1,121.7 128.3,121.3 128.5,131.0 128.7,129.5 128.9,121.8 129.1,119.9 129.3,127.4 129.5,125.0 129.7,131.1 129.9,127.9 130.1,130.8 130.3,133.7 130.5,135.4 130.7,128.5 130.9,133.9 131.1,127.0 131.3,124.3 131.5,131.4 131.7,137.3 131.9,138.9 132.1,130.2 132.3,122.8 132.5,132.6 132.7,129.8 132.9,134.6 133.1,137.4 133.3,129.1 133.5,127.9 133.7,129.5 133.9,128.2 134.1,126.9 134.3,133.1 134.5,128.4 134.7,130.7 134.9,130.6 135.1,129.3 135.3,136.0 135.5,130.3 135.7,132.4 135.9,137.5 136.1,132.3 136.3,126.3 136.5,130.9 136.7,131.0 136.9,137.1 137.1,143.8 137.3,134.9 137.5,133.2 137.7,142.8 137.9,130.7 138.1,136.0 138.3,137.1 138.5,134.3 138.7,133.7 138.9,135.8 139.1,144.1 139.3,138.3 139.5,132.2 139.7,137.0 139.9,141.1 140.1,146.6 140.3,140.4 140.5,137.0 140.7,144.3 140.9,141.3 141.1,137.1 141.3,133.0 141.5,137.0 141.7,142.2 141.9,131.5 142.1,129.4 142.3,140.0 142.5,129.9 142.7,131.0 142.9,136.4 143.1,136.3 143.3,138.0 143.5,138.7 143.7,140.9 143.9,137.5 144.1,134.0 144.3,126.4 144.5,145.9 144.7,143.1 144.9,142.2 145.1,138.7 145.3,134.4 145.5,141.7 145.7,138.7 145.9,132.6 146.1,145.4 146.3,132.6 146.5,137.3 146.7,150.6 146.9,135.6 147.1,140.9 147.3,146.3 147.5,140.1 147.7,133.4 147.9,137.7 148.1,140.1 148.3,133.3 148.5,149.4 148.7,142.5 148.9,145.0 149.1,142.4 149.3,143.2 149.5,139.3 149.7,134.1 149.9,145.3 150.1,141.7 150.3,151.3 150.5,135.9 150.7,142.7 150.9,156.0 151.1,135.5 151.3,136.2 151.5,143.5 151.7,153.0 151.9,136.5 152.1,142.9 152.3,141.7 152.5,139.8 152.7,141.5 152.9,150.4 153.1,143.9 153.3,136.7 153.5,140.1 153.7,144.0 153.9,136.6 154.1,140.0 154.3,141.6 154.5,134.2 154.7,155.8 154.9,136.2 155.1,144.5 155.3,143.3 155.5,141.2 155.7,151.9 155.9,144.9 156.1,140.4 156.3,152.0 156.5,148.1 156.7,139.7 156.9,137.7 157.1,150.6 157.3,144.6 157.5,138.3 157.7,148.8 157.9,138.6 158.1,142.2 158.3,141.6 158.5,136.7 158.7,150.3 158.9,171.7 159.1,150.2 159.3,148.9 159.5,145.2 159.7,146.4 159.9,148.5 160.1,150.7 160.3,144.4 160.5,147.5 160.7,146.2 160.9,150.8 161.1,153.4 161.3,154.6 161.5,145.5 161.7,145.4 161.9,152.4 162.1,146.9 162.3,147.3 162.5,151.4 162.7,151.0 162.9,157.3 163.1,142.6 163.3,156.1 163.5,146.5 163.7,153.4 163.9,142.6 164.1,148.7 164.3,146.1 164.5,161.4 164.7,144.6 164.9,157.0 165.1,145.5 165.3,144.1 165.5,151.9 165.7,156.9 165.9,149.9 166.1,154.0 166.3,151.9 166.5,150.2 166.7,159.7 166.9,150.8 167.1,156.3 167.3,144.8 167.5,149.9 167.7,157.1 167.9,148.6 168.1,140.9 168.3,156.1 168.5,155.1 168.7,149.9 168.9,152.3 169.1,149.8 169.3,154.2 169.5,159.1 169.7,153.9 169.9,151.6 170.1,149.5 170.3,151.4 170.5,149.6 170.7,158.7 170.9,146.9 171.1,149.4 171.3,154.9 171.5,154.9 171.7,154.5 171.9,150.6 172.1,154.4 172.3,145.7 172.5,145.3 172.7,146.5 172.9,155.8 173.1,162.6 173.3,151.2 173.5,150.6 173.7,152.2 173.9,166.4 174.1,155.4 174.3,154.8 174.5,151.0 174.7,157.5 174.9,163.1 175.1,155.7 175.3,150.1 175.5,163.5 175.7,154.7 175.9,167.2 176.1,149.2 176.3,154.2 176.5,156.8 176.7,146.2 176.9,155.9 177.1,159.3 177.3,154.8 177.5,158.3 177.7,156.8 177.9,151.0 178.1,160.4 178.3,151.6 178.5,154.2 178.7,151.8 178.9,160.2 179.1,153.5 179.3,153.5 179.5,145.6 179.7,154.8 179.9,163.0 180.1,146.1 180.3,158.9 180.5,156.5 180.7,147.8 180.9,154.4 181.1,163.1 181.3,157.0 181.5,159.3 181.7,164.5 181.9,155.4 182.1,163.0 182.3,150.7 182.5,152.7 182.7,167.4 182.9,166.8 183.1,163.9 183.3,149.9 183.5,156.7 183.7,153.1 183.9,171.6 184.1,151.0 184.3,151.4 184.5,155.0 184.7,160.6 184.9,155.3 185.1,157.0 185.3,160.6 185.5,159.0 185.7,149.2 185.9,152.1 186.1,170.3 186.3,159.4 186.5,171.8 186.7,169.1 186.9,166.6 187.1,159.7 187.3,169.9 187.5,156.7 187.7,175.6 187.9,163.3 188.1,163.5 188.3,157.4 188.5,156.4 188.7,158.4 188.9,156.9 189.1,155.0 189.3,154.0 189.5,161.4 189.7,168.3 189.9,174.2 190.1,165.4 190.3,159.8 190.5,164.5 190.7,172.5 190.9,161.5 191.1,167.4 191.3,163.2 191.5,161.6 191.7,157.5 191.9,165.6 192.1,156.2 192.3,155.3 192.5,163.3 192.7,167.6 192.9,167.3 193.1,166.8 193.3,159.4 193.5,160.5 193.7,168.9 193.9,176.3 194.1,148.2 194.3,169.7 194.5,162.9 194.7,161.2 194.9,157.2 195.1,157.9 195.3,154.8 195.5,163.4 195.7,156.1 195.9,160.6 196.1,153.5 196.3,169.9 196.5,166.3 196.7,155.3 196.9,164.9 197.1,159.6 197.3,156.9 197.5,162.5 197.7,167.7 197.9,172.6 198.1,163.9 198.3,170.2 198.5,166.7 198.7,166.7 198.9,168.9 199.1,154.8 199.3,160.0 199.5,172.9 199.7,155.0 199.9,157.6 200.1,176.1 200.3,156.7 200.5,163.4 200.7,164.4 200.9,160.9 201.1,169.0 201.3,168.5 201.5,158.7 201.7,175.2 201.9,158.1 202.1,160.2 202.3,162.0 202.5,164.2 202.7,156.6 202.9,164.5 203.1,151.6 203.3,160.0 203.5,157.8 203.7,158.8 203.9,162.4 204.1,164.5 204.3,158.6 204.5,163.1 204.7,154.8 204.9,160.8 205.1,169.2 205.3,159.1 205.5,161.2 205.7,163.0 205.9,168.4 206.1,165.5 206.3,162.2 206.5,157.6 206.7,164.8 206.9,149.7 207.1,166.0 207.3,159.1 207.5,167.6 207.7,163.1 207.9,172.7 208.1,159.8 208.3,153.4 208.5,163.8 208.7,160.8 208.9,163.1 209.1,171.7 209.3,158.7 209.5,168.2 209.7,169.7 209.9,171.1 210.1,153.7 210.3,165.0 210.5,160.1 210.7,162.7 210.9,159.5 211.1,162.3 211.3,170.4 211.5,176.2 211.7,168.8 211.9,157.5 212.1,172.8 212.3,157.6 212.5,162.2 212.7,172.0 212.9,161.1 213.1,169.2 213.3,163.0 213.5,158.2 213.7,166.0 213.9,161.5 214.1,177.0 214.3,177.7 214.5,175.6 214.7,159.1 214.9,178.3 215.1,166.9 215.3,168.2 215.5,166.2 215.7,161.8 215.9,165.9 216.1,170.9 216.3,175.9 216.5,168.8 216.7,165.3 216.9,162.4 217.1,163.3 217.3,176.6 217.5,169.8 217.7,166.8 217.9,156.5 218.1,156.0 218.3,169.9 218.5,169.6 218.7,173.0 218.9,166.8 219.1,161.7 219.3,156.4 219.5,160.3 219.7,153.9 219.9,167.6 220.1,168.8 220.3,175.2 220.5,156.1 220.7,158.0 220.9,169.8 221.1,168.0 221.3,155.4 221.5,161.7 221.7,166.5 221.9,163.6 222.1,168.4 222.3,166.2 222.5,162.7 222.7,168.5 222.9,165.6 223.1,174.0 223.3,158.2 223.5,164.8 223.7,162.2 223.9,164.7 224.1,168.9 224.3,170.5 224.5,155.2 224.7,174.3 224.9,169.9 225.1,169.8 225.3,166.9 225.5,172.9 225.7,169.2 225.9,156.9 226.1,162.6 226.3,165.1 226.5,164.4 226.7,164.0 226.9,170.7 227.1,160.3 227.3,162.3 227.5,161.1 227.7,166.6 227.9,169.7 228.1,161.6 228.3,169.4 228.5,163.7 228.7,176.8 228.9,155.5 229.1,166.9 229.3,175.0 229.5,164.9 229.7,160.8 229.9,162.1 230.1,170.9 230.3,164.0 230.5,174.5 230.7,167.6 230.9,164.0 231.1,164.7 231.3,170.6 231.5,174.5 231.7,162.8 231.9,160.8 232.1,160.9 232.3,170.8 232.5,180.9 232.7,164.6 232.9,172.3 233.1,165.4 233.3,174.2 233.5,159.6 233.7,171.9 233.9,160.5 234.1,163.0 234.3,170.2 234.5,166.6 234.7,167.7 234.9,171.6 235.1,169.5 235.3,178.9 235.5,173.4 235.7,163.2 235.9,167.9 236.1,165.0 236.3,165.9 236.5,181.5 236.7,163.8 236.9,177.5 237.1,179.3 237.3,189.9 237.5,168.7 237.7,170.4 237.9,170.7 238.1,166.5 238.3,181.8 238.5,183.4 238.7,156.8 238.9,166.9 239.1,177.3 239.3,162.9 239.5,164.8 239.7,169.2 239.9,168.9 240.1,167.9 240.3,168.2 240.5,182.5 240.7,157.0 240.9,166.0 241.1,162.5 241.3,170.8 241.5,166.5 241.7,172.5 241.9,169.4 242.1,187.0 242.3,161.8 242.5,166.4 242.7,175.5 242.9,167.1 243.1,170.5 243.3,160.8 243.5,174.4 243.7,168.8 243.9,173.4 244.1,164.1 244.3,166.3 244.5,164.5 244.7,181.9 244.9,160.0 245.1,172.6 245.3,171.5 245.5,178.9 245.7,171.7 245.9,163.7 246.1,173.4 246.3,160.3 246.5,177.4 246.7,169.3 246.9,165.5 247.1,166.9 247.3,174.0 247.5,160.7 247.7,182.8 247.9,165.8 248.1,181.3 248.3,171.3 248.5,184.7 248.7,163.2 248.9,176.5 249.1,170.0 249.3,166.5 249.5,176.3 249.7,168.9 249.9,166.0 250.1,169.1 250.3,165.8 250.5,169.1 250.7,170.3 250.9,178.3 251.1,170.1 251.3,166.0 251.5,176.0 251.7,168.4 251.9,164.9 252.1,163.7 252.3,184.0 252.5,170.1 252.7,182.8 252.9,165.0 253.1,164.6 253.3,183.8 253.5,169.4 253.7,169.8 253.9,169.6 254.1,164.9 254.3,178.4 254.5,164.0 254.7,176.5 254.9,164.8 255.1,192.1 255.3,176.3 255.5,179.3 255.7,161.8 255.9,173.8 256.1,167.5 256.3,166.1 256.5,166.3 256.7,177.3 256.9,171.8 257.1,168.4 257.3,167.8 257.5,167.6 257.7,168.3 257.9,169.9 258.1,164.9 258.3,166.2 258.5,159.9 258.7,171.6 258.9,175.8 259.1,168.8 259.3,182.1 259.5,167.2 259.7,172.2 259.9,180.4 260.1,173.7 260.3,167.2 260.5,174.5 260.7,169.6 260.9,180.2 261.1,177.5 261.3,170.7 261.5,175.8 261.7,185.3 261.9,180.4 262.1,178.3 262.3,171.1 262.5,168.6 262.7,167.7 262.9,179.7 263.1,165.9 263.3,175.1 263.5,184.3 263.7,163.3 263.9,174.8 264.1,166.4 264.3,171.6 264.5,176.0 264.7,166.5 264.9,164.7 265.1,169.9 265.3,173.9 265.5,170.0 265.7,166.8 265.9,177.3 266.1,165.9 266.3,164.2 266.5,173.3 266.7,189.3 266.9,169.5 267.1,172.1 267.3,166.5 267.5,168.9 267.7,165.9 267.9,174.6 268.1,168.5 268.3,167.9 268.5,179.4 268.7,164.3 268.9,179.4 269.1,171.6 269.3,167.2 269.5,172.7 269.7,171.1 269.9,175.0 270.1,171.5 270.3,187.2 270.5,180.5 270.7,181.0 270.9,165.8 271.1,170.8 271.3,181.6 271.5,177.2 271.7,173.2 271.9,172.5 272.1,180.6 272.3,162.5 272.5,167.8 272.7,165.0 272.9,181.5 273.1,165.1 273.3,171.5 273.5,183.2 273.7,171.3 273.9,175.2 274.1,173.5 274.3,178.1 274.5,190.5 274.7,166.3 274.9,173.0 275.1,185.9 275.3,192.2 275.5,172.0 275.7,183.7 275.9,178.2 276.1,177.9 276.3,165.2 276.5,164.2 276.7,174.5 276.9,172.8 277.1,172.9 277.3,166.5 277.5,184.3 277.7,172.4 277.9,195.7 278.1,172.2 278.3,176.2 278.5,179.0 278.7,171.5 278.9,167.6 279.1,170.2 279.3,173.9 279.5,170.6 279.8,189.2 280.0,170.5 280.2,179.3 280.4,179.7 280.6,175.2 280.8,167.4 281.0,177.5 281.2,180.8 281.4,175.2 281.6,174.2 281.8,162.1 282.0,167.4 282.2,172.8 282.4,175.4 282.6,179.4 282.8,172.1 283.0,175.3 283.2,167.8 283.4,178.5 283.6,179.3 283.8,173.4 284.0,181.2 284.2,172.3 284.4,171.1 284.6,172.3 284.8,189.7 285.0,164.9 285.2,175.6 285.4,172.0 285.6,175.1 285.8,165.7 286.0,179.5 286.2,179.0 286.4,172.7 286.6,171.7 286.8,174.9 287.0,181.3 287.2,165.5 287.4,184.9 287.6,172.5 287.8,180.5 288.0,169.4 288.2,189.8 288.4,176.5 288.6,188.2 288.8,170.8 289.0,170.7 289.2,183.1 289.4,179.9 289.6,177.2 289.8,184.0 290.0,177.9 290.2,172.7 290.4,164.2 290.6,162.4 290.8,179.6 291.0,179.0 291.2,169.4 291.4,178.9 291.6,173.7 291.8,175.4 292.0,182.2 292.2,165.9 292.4,177.6 292.6,178.9 292.8,174.0 293.0,176.4 293.2,168.3 293.4,176.3 293.6,179.8 293.8,180.9 294.0,170.9 294.2,181.1 294.4,177.5 294.6,180.1 294.8,175.1 295.0,179.9 295.2,176.8 295.4,195.0 295.6,173.4 295.8,183.8 296.0,175.3 296.2,166.6 296.4,178.8 296.6,184.5 296.8,180.9 297.0,181.1 297.2,170.4 297.4,177.6 297.6,167.2 297.8,189.2 298.0,187.3 298.2,169.1 298.4,173.0 298.6,168.1 298.8,170.9 299.0,172.7 299.2,168.5 299.4,172.6 299.6,180.2 299.8,173.8 300.0,180.8 300.2,174.6 300.4,176.4 300.6,168.0 300.8,182.5 301.0,168.7 301.2,173.4 301.4,168.0 301.6,179.3 301.8,169.3 302.0,179.8 302.2,190.9 302.4,178.2 302.6,163.4 302.8,183.1 303.0,177.1 303.2,180.3 303.4,178.8 303.6,184.6 303.8,183.4 304.0,175.6 304.2,168.5 304.4,175.5 304.6,181.6 304.8,165.3 305.0,177.2 305.2,165.7 305.4,184.5 305.6,190.7 305.8,182.6 306.0,173.5 306.2,182.0 306.4,186.4 306.6,189.3 306.8,187.1 307.0,184.5 307.2,170.2 307.4,175.7 307.6,179.8 307.8,176.7 308.0,165.2 308.2,175.3 308.4,171.9 308.6,177.9 308.8,178.9 309.0,167.8 309.2,171.6 309.4,177.6 309.6,170.0 309.8,176.3 310.0,171.2 310.2,172.0 310.4,182.9 310.6,175.6 310.8,172.9 311.0,188.3 311.2,174.5 311.4,176.3 311.6,176.7 311.8,202.2 312.0,181.1 312.2,182.9 312.4,174.2 312.6,182.8 312.8,185.0 313.0,169.5 313.2,179.8 313.4,189.4 313.6,191.0 313.8,178.5 314.0,195.4 314.2,172.4 314.4,184.6 314.6,180.7 314.8,170.3 315.0,184.4 315.2,169.1 315.4,172.8 315.6,176.4 315.8,169.6 316.0,185.8 316.2,174.1 316.4,169.4 316.6,178.9 316.8,177.0 317.0,170.3 317.2,173.6 317.4,183.7 317.6,183.2 317.8,167.7 318.0,184.4 318.2,184.5 318.4,185.9 318.6,174.2 318.8,172.4 319.0,176.7 319.2,173.1 319.4,175.7 319.6,173.5 319.8,175.5 320.0,174.2 320.2,177.7 320.4,178.6 320.6,175.7 320.8,173.9 321.0,189.9 321.2,184.4 321.4,181.0 321.6,171.9 321.8,182.1 322.0,176.5 322.2,181.8 322.4,179.2 322.6,198.4 322.8,177.7 323.0,171.2 323.2,185.7 323.4,186.2 323.6,187.8 323.8,163.4 324.0,171.6 324.2,172.3 324.4,167.8 324.6,178.4 324.8,182.3 325.0,185.5 325.2,184.2 325.4,177.7 325.6,189.4 325.8,179.2 326.0,162.6 326.2,175.3 326.4,172.6 326.6,179.8 326.8,174.6 327.0,175.2 327.2,187.8 327.4,172.5 327.6,169.0 327.8,179.0 328.0,181.9 328.2,176.5 328.4,177.2 328.6,173.4 328.8,169.2 329.0,172.4 329.2,170.6 329.4,186.4 329.6,175.5 329.8,187.9 330.0,176.3 330.2,171.5 330.4,178.5 330.6,178.6 330.8,187.2 331.0,165.8 331.2,174.5 331.4,180.1 331.6,172.5 331.8,178.1 332.0,175.4 332.2,188.2 332.4,186.7 332.6,165.7 332.8,168.2 333.0,172.3 333.2,176.9 333.4,176.3 333.6,174.0 333.8,181.7 334.0,183.8 334.2,178.1 334.4,175.5 334.6,177.7 334.8,172.2 335.0,183.5 335.2,183.6 335.4,171.7 335.6,188.6 335.8,177.2 336.0,183.6 336.2,177.6 336.4,176.4 336.6,182.7 336.8,171.5 337.0,176.0 337.2,170.3 337.4,181.2 337.6,176.1 337.8,175.6 338.0,174.2 338.2,182.3 338.4,179.6 338.6,176.3 338.8,174.7 339.0,191.7 339.2,189.2 339.4,170.8 339.6,186.8 339.8,181.6 340.0,180.0 340.2,180.8 340.4,169.6 340.6,198.1 340.8,194.2 341.0,178.2 341.2,178.0 341.4,179.0 341.6,173.6 341.8,181.8 342.0,177.7 342.2,171.2 342.4,174.7 342.6,173.7 342.8,174.0 343.0,175.6 343.2,182.3 343.4,175.1 343.6,168.3 343.8,188.8 344.0,174.1 344.2,188.8 344.4,179.6 344.6,181.8 344.8,172.6 345.0,178.6 345.2,175.4 345.4,177.5 345.6,181.3 345.8,175.4 346.0,184.0 346.2,169.5 346.4,171.3 346.6,181.0 346.8,181.7 347.0,185.9 347.2,190.5 347.4,181.2 347.6,183.5 347.8,179.9 348.0,179.2 348.2,177.5 348.4,179.0 348.6,174.6 348.8,177.2 349.0,184.0 349.2,181.8 349.4,186.8 349.6,175.2 349.8,175.9 350.0,181.3 350.2,172.9 350.4,172.7 350.6,182.7 350.8,176.3 351.0,184.5 351.2,178.9 351.4,175.4 351.6,171.8 351.8,187.1 352.0,177.7 352.2,172.7 352.4,169.3 352.6,170.6 352.8,175.5 353.0,187.4 353.2,172.4 353.4,180.2 353.6,179.7 353.8,161.8 354.0,170.4 354.2,183.9 354.4,166.6 354.6,186.3 354.8,178.1 355.0,168.3 355.2,192.4 355.4,177.2 355.6,190.0 355.8,179.4 356.0,173.3 356.2,186.2 356.4,191.8 356.6,187.5 356.8,170.8 357.0,182.4 357.2,170.9 357.4,174.2 357.6,188.1 357.8,169.6 358.0,198.3 358.2,169.0 358.4,170.2 358.6,183.4 358.8,176.7 359.0,177.1 359.2,172.3 359.4,183.3 359.6,179.6 359.8,177.5 360.0,173.0 360.2,169.3 360.4,178.0 360.6,166.1 360.8,173.9 361.0,182.6 361.2,183.0 361.4,175.5 361.6,164.5 361.8,182.1 362.0,184.6 362.2,178.6 362.4,187.8 362.6,185.8 362.8,168.5 363.0,176.8 363.2,175.1 363.4,190.3 363.6,186.2 363.8,179.1 364.0,182.4 364.2,184.8 364.4,173.8 364.6,177.2 364.8,177.7 365.0,175.6 365.2,176.2 365.4,180.0 365.6,170.6 365.8,171.4 366.0,184.1 366.2,190.1 366.4,193.1 366.6,168.3 366.8,181.1 367.0,173.2 367.2,175.0 367.4,177.0 367.6,181.2 367.8,182.5 368.0,165.4 368.2,174.6 368.4,186.5 368.6,179.3 368.8,169.0 369.0,172.4 369.2,173.4 369.4,185.9 369.6,192.1 369.8,171.7 370.0,182.1 370.2,176.6 370.4,182.6 370.6,177.0 370.8,171.6 371.0,174.3 371.2,174.3 371.4,189.5 371.6,173.7 371.8,182.4 372.0,173.2 372.2,174.2 372.4,180.1 372.6,174.8 372.8,193.9 373.0,188.4 373.2,171.6 373.4,182.2 373.6,190.0 373.8,171.2 374.0,175.9 374.2,189.8 374.4,173.4 374.6,183.1 374.8,178.1 375.0,179.8 375.2,172.2 375.4,178.2 375.6,175.8 375.8,192.3 376.0,183.2 376.2,179.4 376.4,178.6 376.6,183.6 376.8,169.3 377.0,172.5 377.2,173.0 377.4,173.6 377.6,169.1 377.8,182.3 378.0,175.6 378.2,188.1 378.4,177.9 378.6,176.3 378.8,181.8 379.0,181.8 379.2,176.9 379.4,182.9 379.6,188.1 379.8,175.9 380.0,188.5 380.2,177.5 380.4,185.1 380.6,178.5 380.8,176.3 381.0,180.9 381.2,172.0 381.4,169.5 381.6,178.6 381.8,177.3 382.0,172.0 382.2,195.7 382.4,181.8 382.6,174.3 382.8,182.5 383.0,182.7 383.2,176.4 383.4,177.4 383.6,168.4 383.8,180.5 384.0,193.7 384.2,187.5 384.4,186.6 384.6,175.3 384.8,172.4 385.0,185.4 385.2,181.1 385.4,177.7 385.6,177.0 385.8,185.9 386.0,183.5 386.2,176.1 386.4,178.3 386.6,169.4 386.8,172.0 387.0,183.1 387.2,176.2 387.4,173.7 387.6,181.0 387.8,188.6 388.0,173.9 388.2,177.1 388.4,177.5 388.6,199.0 388.8,186.7 389.0,181.1 389.2,170.8 389.4,184.7 389.6,183.3 389.8,178.0 390.0,174.5 390.2,176.4 390.4,169.7 390.6,176.8 390.8,176.3 391.0,173.7 391.2,177.2 391.4,170.1 391.6,187.6 391.8,178.3 392.0,172.2 392.2,184.8 392.4,183.3 392.6,176.1 392.8,171.5 393.0,178.9 393.2,182.6 393.4,183.9 393.6,186.0 393.8,185.5 394.0,170.7 394.2,180.2 394.4,168.8 394.6,186.4 394.8,182.2 395.0,186.3 395.2,179.7 395.4,179.4 395.6,176.0 395.8,165.1 396.0,178.1 396.2,200.4 396.4,189.0 396.6,178.1 396.8,181.8 397.0,182.7 397.2,175.9 397.4,179.6 397.6,182.0 397.8,176.4 398.0,182.8 398.2,188.7 398.4,185.6 398.6,181.6 398.8,178.6 399.0,184.9 399.2,176.3 399.4,175.7 399.6,189.2 399.8,177.4 400.0,171.7 400.2,185.9 400.4,185.0 400.6,188.1 400.8,179.2 401.0,188.3 401.2,179.0 401.4,173.7 401.6,178.8 401.8,181.7 402.0,173.3 402.2,178.8 402.4,181.7 402.6,177.3 402.8,180.6 403.0,179.9 403.2,175.0 403.4,182.4 403.6,184.2 403.8,168.9 404.0,175.9 404.2,186.1 404.4,183.4 404.6,169.5 404.8,181.9 405.0,190.8 405.2,186.7 405.4,185.9 405.6,179.7 405.8,181.0 406.0,173.4 406.2,180.6 406.4,199.0 406.6,180.4 406.8,174.8 407.0,184.3 407.2,169.1 407.4,198.8 407.6,185.0 407.8,178.9 408.0,178.3 408.2,175.0 408.4,181.5 408.6,181.0 408.8,171.5 409.0,188.1 409.2,178.4 409.4,174.1 409.6,187.7 409.8,186.2 410.0,177.2 410.2,176.7 410.4,189.0 410.6,178.3 410.8,182.3 411.0,191.3 411.2,173.5 411.4,172.0 411.6,175.6 411.8,177.3 412.0,181.3 412.2,188.3 412.4,178.3 412.6,194.3 412.8,182.7 413.0,169.8 413.2,181.0 413.4,186.4 413.6,189.4 413.8,176.7 414.0,180.6 414.2,199.3 414.4,182.4 414.6,175.5 414.8,172.2 415.0,178.5 415.2,184.0 415.4,174.5 415.6,191.7 415.8,176.6 416.0,170.4 416.2,186.1 416.4,181.7 416.6,180.0 416.8,191.2 417.0,177.6 417.2,186.7 417.4,178.1 417.6,194.3 417.8,181.7 418.0,181.8 418.2,185.9 418.4,181.1 418.6,184.9 418.8,180.1 419.0,186.2 419.2,182.2 419.4,178.2 419.6,185.8 419.8,185.1 420.0,175.1 420.2,179.8 420.4,171.8 420.6,182.6 420.8,188.0 421.0,201.7 421.2,183.9 421.4,189.7 421.6,193.2 421.8,187.2 422.0,171.0 422.2,178.8 422.4,184.3 422.6,184.0 422.8,182.8 423.0,176.2 423.2,171.1 423.4,184.6 423.6,190.7 423.8,178.8 424.0,186.0 424.2,178.5 424.4,181.1 424.6,178.3 424.8,188.1 425.0,176.2 425.2,183.1 425.4,188.8 425.6,182.0 425.8,174.5 426.0,184.9 426.2,180.9 426.4,174.2 426.6,180.9 426.8,180.2 427.0,186.6 427.2,179.0 427.4,182.8 427.6,186.5 427.8,171.1 428.0,189.4 428.2,182.3 428.4,175.9 428.6,183.1 428.8,189.9 429.0,177.8 429.2,178.6 429.4,192.6 429.6,194.3 429.8,198.0 430.0,182.6 430.2,176.3 430.4,176.2 430.6,180.1 430.8,176.0 431.0,185.4 431.2,191.9 431.4,175.7 431.6,193.6 431.8,176.6 432.0,177.9 432.2,174.0 432.5,187.7 432.7,181.8 432.9,182.6 433.1,167.1 433.3,178.6 433.5,184.6 433.7,167.7 433.9,197.9 434.1,184.7 434.3,190.6 434.5,180.5 434.7,189.3 434.9,192.3 435.1,203.8 435.3,176.1 435.5,199.4 435.7,176.0 435.9,183.9 436.1,180.2 436.3,181.7 436.5,171.6 436.7,181.0 436.9,175.4 437.1,181.6 437.3,184.8 437.5,183.5 437.7,182.3 437.9,193.8 438.1,185.5 438.3,187.5 438.5,193.4 438.7,182.7 438.9,183.9 439.1,188.1 439.3,181.4 439.5,192.8 439.7,179.1 439.9,181.8 440.1,182.3 440.3,181.1 440.5,183.2 440.7,180.1 440.9,169.8 441.1,192.0 441.3,180.3 441.5,188.6 441.7,176.4 441.9,187.5 442.1,175.2 442.3,194.5 442.5,182.3 442.7,180.2 442.9,167.8 443.1,170.3 443.3,179.8 443.5,178.9 443.7,178.9 443.9,179.6 444.1,190.1 444.3,180.3 444.5,180.3 444.7,178.1 444.9,176.2 445.1,185.6 445.3,180.1 445.5,180.5 445.7,185.0 445.9,183.4 446.1,188.8 446.3,188.4 446.5,175.1 446.7,177.9 446.9,190.2 447.1,180.5 447.3,187.6 447.5,177.4 447.7,169.6 447.9,170.6 448.1,178.6 448.3,180.3 448.5,202.4 448.7,188.7 448.9,188.3 449.1,190.0 449.3,173.6 449.5,183.7 449.7,182.6 449.9,199.1 450.1,178.8 450.3,174.4 450.5,183.9 450.7,182.1 450.9,184.1 451.1,185.1 451.3,184.6 451.5,179.3 451.7,180.6 451.9,202.6 452.1,179.5 452.3,187.3 452.5,177.2 452.7,173.3 452.9,190.4 453.1,185.1 453.3,194.0 453.5,191.9 453.7,185.8 453.9,179.1 454.1,199.7 454.3,184.7 454.5,201.9 454.7,189.6 454.9,191.4 455.1,189.1 455.3,188.0 455.5,183.2 455.7,204.4 455.9,178.9 456.1,175.3 456.3,187.0 456.5,180.4 456.7,192.3 456.9,183.6 457.1,194.0 457.3,185.6 457.5,179.7 457.7,182.6 457.9,190.1 458.1,180.7 458.3,179.3 458.5,183.6 458.7,187.1 458.9,194.4 459.1,188.0 459.3,191.3 459.5,183.5 459.7,199.8 459.9,203.0 460.1,180.4 460.3,186.6 460.5,184.0 460.7,187.2 460.9,182.7 461.1,180.1 461.3,176.6 461.5,181.4 461.7,184.9 461.9,192.7 462.1,189.0 462.3,182.0 462.5,180.4 462.7,175.4 462.9,189.9 463.1,185.5 463.3,189.3 463.5,190.4 463.7,188.8 463.9,184.1 464.1,182.8 464.3,178.3 464.5,180.5 464.7,187.8 464.9,203.4 465.1,181.9 465.3,186.4 465.5,212.8 465.7,185.4 465.9,182.3 466.1,184.7 466.3,182.9 466.5,173.0 466.7,190.8 466.9,173.8 467.1,180.7 467.3,181.5 467.5,187.6 467.7,182.8 467.9,181.0 468.1,178.6 468.3,185.8 468.5,181.7 468.7,179.3 468.9,175.7 469.1,178.3 469.3,184.9 469.5,174.3 469.7,184.7 469.9,184.4 470.1,192.4 470.3,179.2 470.5,177.5 470.7,182.9 470.9,181.0 471.1,169.4 471.3,192.5 471.5,185.2 471.7,184.5 471.9,178.3 472.1,186.1 472.3,181.6 472.5,195.8 472.7,188.6 472.9,194.4 473.1,176.0 473.3,178.0 473.5,180.8 473.7,179.5 473.9,196.0 474.1,186.1 474.3,176.9 474.5,181.8 474.7,198.0 474.9,181.6 475.1,188.0 475.3,173.5 475.5,180.0 475.7,182.6 475.9,181.9 476.1,183.6 476.3,186.1 476.5,192.2 476.7,173.4 476.9,184.1 477.1,188.8 477.3,185.3 477.5,192.2 477.7,182.8 477.9,180.8 478.1,178.4 478.3,190.4 478.5,175.8 478.7,180.9 478.9,183.4 479.1,188.1 479.3,181.7 479.5,177.7 479.7,187.9 479.9,176.6 480.1,179.0 480.3,172.1 480.5,184.8 480.7,184.5 480.9,173.4 481.1,182.0 481.3,187.5 481.5,179.2 481.7,173.7 481.9,182.8 482.1,187.8 482.3,172.7 482.5,189.7 482.7,183.0 482.9,190.2 483.1,177.0 483.3,190.3 483.5,185.7 483.7,189.1 483.9,184.0 484.1,190.7 484.3,182.4 484.5,180.7 484.7,177.1 484.9,174.3 485.1,184.0 485.3,181.3 485.5,182.9 485.7,181.7 485.9,186.0 486.1,183.9 486.3,179.8 486.5,189.0 486.7,200.4 486.9,178.1 487.1,180.8 487.3,187.6 487.5,179.1 487.7,191.3 487.9,179.4 488.1,176.4 488.3,177.9 488.5,191.6 488.7,172.3 488.9,184.8 489.1,171.8 489.3,189.3 489.5,186.8 489.7,188.8 489.9,201.3 490.1,183.8 490.3,193.1 490.5,188.7 490.7,192.4 490.9,179.7 491.1,193.1 491.3,182.6 491.5,196.3 491.7,192.0 491.9,185.5 492.1,189.4 492.3,189.1 492.5,186.9 492.7,208.1 492.9,179.8 493.1,176.7 493.3,177.0 493.5,183.7 493.7,185.1 493.9,190.6 494.1,193.0 494.3,187.3 494.5,186.7 494.7,179.5 494.9,193.3 495.1,196.5 495.3,184.9 495.5,191.1 495.7,181.5 495.9,185.6 496.1,186.5 496.3,192.4 496.5,176.6 496.7,186.3 496.9,192.6 497.1,188.3 497.3,190.8 497.5,171.4 497.7,180.0 497.9,182.8 498.1,180.6 498.3,172.0 498.5,193.7 498.7,187.3 498.9,173.8 499.1,182.1 499.3,185.7 499.5,192.7 499.7,190.3 499.9,178.7 500.1,180.9 500.3,186.9 500.5,192.8 500.7,182.2 500.9,181.0 501.1,189.5 501.3,186.2 501.5,195.9 501.7,188.7 501.9,192.8 502.1,173.5 502.3,176.6 502.5,175.7 502.7,180.6 502.9,187.6 503.1,183.2 503.3,188.7 503.5,180.0 503.7,192.4 503.9,191.4 504.1,174.5 504.3,178.1 504.5,180.8 504.7,191.0 504.9,190.7 505.1,199.3 505.3,175.6 505.5,186.4 505.7,184.7 505.9,182.9 506.1,183.8 506.3,172.7 506.5,186.9 506.7,181.9 506.9,176.8 507.1,195.8 507.3,180.2 507.5,186.4 507.7,180.2 507.9,175.2 508.1,181.6 508.3,187.0 508.5,178.3 508.7,188.4" stroke="#b48a14" />
<polyline points="50.6,240.3 50.8,235.6 51.0,223.5 51.2,220.2 51.4,233.3 51.6,216.5 51.8,218.6 52.0,240.8 52.2,228.9 52.4,229.9 52.6,223.9 52.8,252.7 53.0,256.1 53.2,225.1 53.4,233.1 53.6,224.2 53.8,230.1 54.0,237.8 54.2,237.4 54.4,224.7 54.6,229.8 54.8,253.5 55.0,234.7 55.2,239.1 55.4,231.4 55.6,225.9 55.8,219.0 56.0,219.7 56.2,215.5 56.4,219.0 56.6,220.3 56.8,232.7 57.0,215.5 57.2,230.0 57.4,213.8 57.6,251.2 57.8,222.4 58.0,227.9 58.2,242.2 58.4,225.2 58.6,227.4 58.8,227.8 59.0,231.2 59.2,222.9 59.4,242.2 59.6,236.4 59.8,227.8 60.0,237.2 60.2,225.9 60.4,222.7 60.6,225.9 60.8,230.5 61.0,216.1 61.2,224.2 61.4,230.3 61.6,218.8 61.8,229.3 62.0,218.8 62.2,228.2 62.4,226.0 62.6,229.3 62.8,221.2 63.0,213.6 63.2,210.6 63.4,264.3 63.6,216.4 63.8,220.2 64.0,215.3 64.2,238.4 64.4,232.4 64.6,233.5 64.8,218.4 65.0,235.0 65.2,220.8 65.4,237.0 65.6,225.7 65.8,211.8 66.0,225.5 66.2,220.0 66.4,248.9 66.6,217.1 66.8,224.0 67.0,224.1 67.2,220.1 67.4,220.9 67.6,225.8 67.8,229.0 68.0,223.0 68.2,224.1 68.4,226.1 68.6,219.3 68.8,224.3 69.0,226.4 69.2,234.7 69.4,231.7 69.6,230.1 69.8,233.7 70.0,220.4 70.2,235.6 70.4,223.3 70.6,224.9 70.8,223.0 71.0,231.4 71.2,221.3 71.4,230.7 71.6,223.3 71.8,222.2 72.0,229.1 72.2,219.8 72.4,236.0 72.6,220.7 72.8,222.3 73.0,235.9 73.2,215.9 73.4,233.2 73.6,226.3 73.8,226.5 74.0,227.3 74.2,219.3 74.4,240.0 74.6,230.0 74.8,231.0 75.0,232.3 75.2,233.7 75.4,228.1 75.6,219.1 75.8,216.9 76.0,216.5 76.2,222.3 76.4,233.8 76.6,216.7 76.8,223.0 77.0,230.3 77.2,223.0 77.4,223.5 77.6,218.1 77.8,226.7 78.0,221.2 78.2,220.4 78.4,222.5 78.6,228.3 78.8,233.3 79.0,217.5 79.2,229.2 79.4,217.8 79.6,213.5 79.8,220.6 80.0,225.8 80.2,224.9 80.4,228.3 80.6,212.7 80.8,237.1 81.0,232.0 81.2,230.7 81.4,214.9 81.6,229.0 81.8,221.8 82.0,221.9 82.2,225.5 82.4,215.0 82.6,234.3 82.8,233.8 83.0,231.9 83.2,237.3 83.4,214.5 83.6,223.3 83.8,223.0 84.0,217.1 84.2,232.1 84.4,248.8 84.6,218.3 84.8,230.2 85.0,226.2 85.2,226.8 85.4,226.4 85.6,231.1 85.8,221.2 86.0,222.8 86.2,239.9 86.4,225.8 86.6,225.6 86.8,214.4 87.0,229.4 87.2,230.5 87.4,227.8 87.6,239.0 87.8,213.1 88.0,232.8 88.2,215.0 88.4,218.4 88.6,213.0 88.8,232.1 89.0,224.5 89.2,222.3 89.4,225.7 89.6,212.4 89.8,221.0 90.0,226.8 90.2,221.0 90.4,224.8 90.6,215.0 90.8,226.5 91.0,223.0 91.2,226.8 91.4,238.2 91.6,225.7 91.8,220.9 92.0,228.1 92.2,217.6 92.4,238.9 92.6,225.1 92.8,225.1 93.0,228.8 93.2,216.6 93.4,224.8 93.6,223.3 93.8,243.6 94.0,236.8 94.2,240.4 94.4,225.2 94.6,226.0 94.8,233.4 95.0,220.1 95.2,218.6 95.4,237.9 95.6,228.5 95.8,228.5 96.0,214.0 96.2,221.8 96.4,221.5 96.6,219.9 96.8,227.3 97.0,218.5 97.2,217.0 97.4,241.5 97.6,228.5 97.8,217.9 98.0,243.3 98.2,229.3 98.4,227.7 98.6,209.5 98.8,237.5 99.0,226.5 99.2,235.3 99.4,239.9 99.6,216.8 99.8,241.5 100.0,232.1 100.2,226.4 100.4,211.6 100.6,242.7 100.8,228.1 101.0,230.5 101.2,217.6 101.4,230.5 101.6,230.2" stroke="#2870e0" />
<polyline points="101.8,100.6 102.0,90.8 102.2,87.2 102.4,91.8 102.6,90.5 102.8,95.1 103.0,93.5 103.2,95.6 103.4,100.9 103.6,103.5 103.8,96.9 104.0,91.9 104.2,97.9 104.4,97.7 104.6,98.8 104.8,99.2 105.0,100.3 105.2,93.8 105.4,103.9 105.6,104.3 105.8,104.2 106.0,103.0 106.2,107.9 106.4,98.7 106.6,104.8 106.8,108.2 107.0,104.6 107.2,106.7 107.4,112.0 107.6,107.4 107.8,105.4 108.0,107.4 108.2,111.5 108.4,106.6 108.6,111.2 108.8,110.1 109.0,112.6 109.2,116.2 109.4,116.8 109.6,114.4 109.8,115.7 110.0,118.8 110.2,112.9 110.4,117.0 110.6,112.3 110.8,122.8 111.0,117.8 111.2,112.8 111.4,116.1 111.6,121.8 111.8,120.0 112.0,113.0 112.2,128.0 112.4,120.8 112.6,121.8 112.8,119.2 113.0,117.5 113.2,115.4 113.4,122.2 113.6,121.7 113.8,121.1 114.0,126.0 114.2,124.3 114.4,119.1 114.6,121.8 114.8,129.2 115.0,118.8 115.2,135.5 115.4,122.6 115.6,138.9 115.8,127.6 116.0,119.7 116.2,128.3 116.4,127.0 116.6,125.1 116.8,127.5 117.0,127.9 117.2,117.1 117.4,131.8 117.6,127.3 117.8,129.0 118.0,132.7 118.2,129.6 118.4,124.9 118.6,134.3 118.8,129.2 119.0,132.1 119.2,128.2 119.4,130.9 119.6,127.8 119.8,140.5 120.0,128.2 120.2,137.8 120.4,125.9 120.6,134.8 120.8,132.5 121.0,139.0 121.2,135.4 121.4,147.1 121.6,151.7 121.8,132.6 122.0,138.8 122.2,131.5 122.4,131.6 122.6,135.8 122.8,140.8 123.0,139.8 123.2,136.0 123.4,142.9 123.6,132.3 123.8,133.6 124.0,137.5 124.2,130.7 124.4,145.5 124.6,138.0 124.8,137.3 125.0,141.3 125.2,133.6 125.4,139.1 125.6,132.8 125.8,139.4 126.0,141.0 126.2,149.4 126.4,140.9 126.6,148.4 126.8,141.3 127.1,134.8 127.3,145.8 127.5,142.5 127.7,139.7 127.9,147.5 128.1,138.1 128.3,141.3 128.5,147.0 128.7,148.0 128.9,140.8 129.1,145.6 129.3,144.7 129.5,147.8 129.7,143.7 129.9,136.3 130.1,143.5 130.3,154.0 130.5,141.9 130.7,145.0 130.9,150.6 131.1,145.2 131.3,141.6 131.5,146.5 131.7,145.8 131.9,142.9 132.1,146.3 132.3,141.1 132.5,140.5 132.7,142.4 132.9,146.8 133.1,147.9 133.3,145.2 133.5,154.2 133.7,151.5 133.9,148.8 134.1,155.0 134.3,157.3 134.5,152.8 134.7,146.5 134.9,154.0 135.1,156.1 135.3,151.9 135.5,149.3 135.7,151.5 135.9,152.0 136.1,142.3 136.3,159.6 136.5,150.9 136.7,162.6 136.9,151.3 137.1,147.3 137.3,155.8 137.5,151.9 137.7,156.5 137.9,149.6 138.1,149.7 138.3,148.7 138.5,148.9 138.7,154.6 138.9,146.6 139.1,153.6 139.3,158.9 139.5,148.4 139.7,152.0 139.9,149.5 140.1,151.4 140.3,154.3 140.5,157.5 140.7,158.7 140.9,150.7 141.1,157.8 141.3,151.2 141.5,148.9 141.7,149.9 141.9,146.1 142.1,154.9 142.3,146.7 142.5,156.0 142.7,171.8 142.9,150.8 143.1,146.3 143.3,157.5 143.5,150.7 143.7,155.6 143.9,155.9 144.1,157.3 144.3,170.5 144.5,158.1 144.7,158.0 144.9,156.2 145.1,153.3 145.3,153.9 145.5,152.1 145.7,162.2 145.9,156.7 146.1,161.4 146.3,159.6 146.5,172.0 146.7,157.7 146.9,161.8 147.1,155.4 147.3,165.4 147.5,157.8 147.7,159.2 147.9,152.6 148.1,162.4 148.3,169.6 148.5,167.7 148.7,154.4 148.9,165.1 149.1,156.5 149.3,152.4 149.5,154.3 149.7,168.0 149.9,159.0 150.1,154.8 150.3,162.9 150.5,162.9 150.7,159.6 150.9,164.1 151.1,159.5 151.3,169.0 151.5,166.2 151.7,161.4 151.9,163.9 152.1,167.3 152.3,161.5 152.5,165.2 152.7,161.6 152.9,160.6 153.1,153.5 153.3,156.3 153.5,157.5 153.7,162.9 153.9,180.1 154.1,158.0 154.3,160.5 154.5,156.6 154.7,160.9 154.9,161.9 155.1,167.2 155.3,156.5 155.5,166.2 155.7,164.8 155.9,162.0 156.1,157.5 156.3,158.5 156.5,162.8 156.7,167.2 156.9,163.5 157.1,160.2 157.3,165.8 157.5,159.1 157.7,169.1 157.9,184.6 158.1,161.7 158.3,171.0 158.5,160.0 158.7,165.5 158.9,168.3 159.1,172.6 159.3,165.6 159.5,173.9 159.7,159.3 159.9,164.6 160.1,165.8 160.3,166.4 160.5,165.4 160.7,178.0 160.9,164.2 161.1,172.5 161.3,169.0 161.5,180.0 161.7,165.6 161.9,171.2 162.1,170.4 162.3,153.7 162.5,169.6 162.7,173.7 162.9,177.2 163.1,162.1 163.3,166.7 163.5,175.6 163.7,162.2 163.9,163.9 164.1,171.8 164.3,172.5 164.5,177.0 164.7,175.6 164.9,170.0 165.1,163.4 165.3,165.5 165.5,169.1 165.7,171.5 165.9,169.7 166.1,174.4 166.3,165.5 166.5,167.4 166.7,163.2 166.9,183.4 167.1,169.2 167.3,176.3 167.5,178.4 167.7,172.6 167.9,169.6 168.1,168.0 168.3,169.4 168.5,162.3 168.7,168.1 168.9,175.9 169.1,173.0 169.3,176.6 169.5,176.5 169.7,176.0 169.9,172.4 170.1,173.0 170.3,177.8 170.5,170.0 170.7,165.1 170.9,177.5 171.1,172.6 171.3,179.4 171.5,169.0 171.7,164.3 171.9,171.8 172.1,169.4 172.3,167.8 172.5,183.2 172.7,174.9 172.9,167.1 173.1,165.2 173.3,172.9 173.5,177.3 173.7,175.5 173.9,181.4 174.1,176.0 174.3,177.0 174.5,164.7 174.7,182.7 174.9,171.4 175.1,180.5 175.3,166.7 175.5,169.9 175.7,182.5 175.9,168.4 176.1,176.2 176.3,173.0 176.5,187.1 176.7,177.9 176.9,184.1 177.1,175.5 177.3,167.1 177.5,190.0 177.7,172.8 177.9,176.5 178.1,176.1 178.3,168.2 178.5,181.0 178.7,174.4 178.9,167.7 179.1,169.0 179.3,165.8 179.5,172.6 179.7,175.9 179.9,171.8 180.1,177.0 180.3,175.2 180.5,180.5 180.7,177.4 180.9,176.5 181.1,173.1 181.3,171.3 181.5,172.8 181.7,180.2 181.9,175.3 182.1,187.9 182.3,183.4 182.5,171.1 182.7,181.2 182.9,186.7 183.1,175.0 183.3,186.9 183.5,174.8 183.7,189.7 183.9,182.5 184.1,177.9 184.3,170.7 184.5,178.8 184.7,175.3 184.9,181.9 185.1,174.8 185.3,182.8 185.5,177.1 185.7,183.6 185.9,185.3 186.1,181.2 186.3,183.3 186.5,187.5 186.7,175.0 186.9,184.2 187.1,182.0 187.3,191.5 187.5,179.5 187.7,187.1 187.9,171.9 188.1,189.2 188.3,183.6 188.5,183.4 188.7,186.9 188.9,174.2 189.1,179.8 189.3,181.7 189.5,179.5 189.7,178.4 189.9,187.7 190.1,181.7 190.3,180.1 190.5,181.9 190.7,190.6 190.9,194.8 191.1,189.1 191.3,185.1 191.5,174.7 191.7,178.8 191.9,176.9 192.1,176.9 192.3,190.2 192.5,178.8 192.7,191.7 192.9,183.2 193.1,181.7 193.3,181.4 193.5,175.0 193.7,180.3 193.9,188.4 194.1,187.3 194.3,183.9 194.5,187.4 194.7,184.1 194.9,185.7 195.1,200.8 195.3,184.2 195.5,174.2 195.7,172.7 195.9,179.3 196.1,184.9 196.3,190.2 196.5,183.6 196.7,184.6 196.9,187.8 197.1,178.4 197.3,183.7 197.5,186.2 197.7,181.8 197.9,179.5 198.1,187.7 198.3,191.7 198.5,184.9 198.7,172.8 198.9,180.0 199.1,182.1 199.3,187.4 199.5,181.9 199.7,182.2 199.9,191.3 200.1,193.4 200.3,185.4 200.5,178.8 200.7,178.3 200.9,189.2 201.1,180.6 201.3,185.0 201.5,184.1 201.7,186.2 201.9,187.5 202.1,179.6 202.3,181.7 202.5,186.7 202.7,185.8 202.9,178.2 203.1,199.3 203.3,178.2 203.5,192.8 203.7,177.2 203.9,192.4 204.1,176.7 204.3,192.1 204.5,187.2 204.7,191.4 204.9,181.9 205.1,188.0 205.3,187.9 205.5,187.5 205.7,183.2 205.9,195.9 206.1,177.1 206.3,178.4 206.5,178.8 206.7,196.6 206.9,181.8 207.1,182.7 207.3,182.8 207.5,185.2 207.7,185.6 207.9,184.3 208.1,179.1 208.3,190.0 208.5,187.5 208.7,198.0 208.9,190.3 209.1,187.2 209.3,179.9 209.5,188.4 209.7,191.8 209.9,199.7 210.1,190.6 210.3,193.4 210.5,192.1 210.7,199.8 210.9,196.2 211.1,188.8 211.3,180.5 211.5,200.1 211.7,189.1 211.9,183.9 212.1,180.7 212.3,179.2 212.5,190.4 212.7,187.7 212.9,190.8 213.1,197.2 213.3,185.2 213.5,190.8 213.7,185.8 213.9,183.9 214.1,177.6 214.3,184.5 214.5,196.5 214.7,186.0 214.9,191.1 215.1,190.0 215.3,204.1 215.5,199.6 215.7,185.5 215.9,186.8 216.1,197.4 216.3,191.1 216.5,190.3 216.7,197.8 216.9,193.5 217.1,190.8 217.3,213.8 217.5,192.6 217.7,182.4 217.9,192.2 218.1,191.8 218.3,202.3 218.5,192.3 218.7,186.4 218.9,192.7 219.1,183.3 219.3,188.1 219.5,192.7 219.7,185.3 219.9,179.7 220.1,184.3 220.3,185.6 220.5,194.2 220.7,187.6 220.9,190.0 221.1,184.9 221.3,190.9 221.5,186.7 221.7,194.2 221.9,192.0 222.1,200.7 222.3,194.4 222.5,188.6 222.7,185.5 222.9,192.0 223.1,195.5 223.3,201.7 223.5,187.4 223.7,183.3 223.9,181.0 224.1,185.0 224.3,189.5 224.5,189.1 224.7,188.9 224.9,190.5 225.1,192.9 225.3,181.8 225.5,191.1 225.7,189.8 225.9,189.8 226.1,188.3 226.3,181.0 226.5,194.0 226.7,188.1 226.9,190.3 227.1,193.0 227.3,191.3 227.5,193.8 227.7,193.9 227.9,185.9 228.1,184.8 228.3,196.7 228.5,186.8 228.7,207.2 228.9,185.1 229.1,192.4 229.3,191.0 229.5,193.2 229.7,186.1 229.9,193.6 230.1,206.0 230.3,188.4 230.5,180.4 230.7,195.9 230.9,194.4 231.1,196.1 231.3,187.1 231.5,194.5 231.7,197.8 231.9,189.0 232.1,192.3 232.3,195.3 232.5,197.0 232.7,190.6 232.9,193.4 233.1,206.6 233.3,206.9 233.5,186.3 233.7,208.3 233.9,190.0 234.1,199.5 234.3,185.5 234.5,191.2 234.7,188.6 234.9,197.9 235.1,193.8 235.3,195.4 235.5,195.1 235.7,193.9 235.9,198.8 236.1,193.4 236.3,192.2 236.5,189.0 236.7,187.6 236.9,189.6 237.1,195.2 237.3,199.7 237.5,192.1 237.7,207.3 237.9,201.5 238.1,193.2 238.3,195.3 238.5,192.9 238.7,183.4 238.9,198.6 239.1,194.5 239.3,184.2 239.5,199.1 239.7,189.9 239.9,191.8 240.1,184.1 240.3,193.1 240.5,196.1 240.7,190.9 240.9,193.4 241.1,183.5 241.3,196.9 241.5,193.2 241.7,193.3 241.9,198.0 242.1,200.6 242.3,193.2 242.5,199.7 242.7,206.9 242.9,187.6 243.1,194.3 243.3,185.0 243.5,196.0 243.7,203.4 243.9,193.0 244.1,187.4 244.3,190.7 244.5,196.6 244.7,185.8 244.9,186.3 245.1,197.1 245.3,186.6 245.5,194.6 245.7,188.1 245.9,185.5 246.1,199.7 246.3,202.0 246.5,189.8 246.7,211.6 246.9,195.5 247.1,198.0 247.3,195.8 247.5,188.5 247.7,201.8 247.9,195.7 248.1,198.2 248.3,195.9 248.5,192.6 248.7,212.8 248.9,198.0 249.1,193.7 249.3,199.7 249.5,188.3 249.7,197.7 249.9,216.4 250.1,191.3 250.3,198.7 250.5,188.7 250.7,195.7 250.9,203.3 251.1,189.6 251.3,190.1 251.5,203.8 251.7,197.4 251.9,200.2 252.1,199.3 252.3,188.4 252.5,186.5 252.7,185.7 252.9,199.2 253.1,187.9 253.3,186.3 253.5,192.6 253.7,195.1 253.9,197.8 254.1,186.2 254.3,205.5 254.5,190.6 254.7,197.1 254.9,195.9 255.1,190.4 255.3,198.9 255.5,198.6 255.7,204.3 255.9,210.7 256.1,212.7 256.3,203.1 256.5,201.2 256.7,194.4 256.9,188.2 257.1,199.6 257.3,193.2 257.5,195.1 257.7,193.9 257.9,199.7 258.1,194.4 258.3,215.5 258.5,203.1 258.7,194.0 258.9,199.6 259.1,207.4 259.3,190.3 259.5,198.7 259.7,194.1 259.9,197.8 260.1,194.4 260.3,198.6 260.5,200.6 260.7,201.8 260.9,189.0 261.1,202.4 261.3,197.8 261.5,193.7 261.7,197.2 261.9,209.6 262.1,196.7 262.3,192.4 262.5,202.6 262.7,196.5 262.9,202.7 263.1,199.7 263.3,207.9 263.5,194.1 263.7,195.5 263.9,205.8 264.1,210.8 264.3,199.5 264.5,206.9 264.7,201.4 264.9,198.2 265.1,188.7 265.3,214.4 265.5,206.6 265.7,186.0 265.9,203.8 266.1,194.5 266.3,192.1 266.5,194.7 266.7,203.4 266.9,197.9 267.1,196.9 267.3,197.2 267.5,195.9 267.7,202.0 267.9,187.1 268.1,190.5 268.3,197.3 268.5,191.4 268.7,199.4 268.9,196.0 269.1,201.1 269.3,197.4 269.5,202.6 269.7,198.5 269.9,203.7 270.1,196.4 270.3,188.7 270.5,198.8 270.7,198.9 270.9,195.7 271.1,206.1 271.3,202.6 271.5,210.5 271.7,196.6 271.9,196.6 272.1,202.7 272.3,210.3 272.5,194.9 272.7,202.7 272.9,199.1 273.1,197.4 273.3,205.9 273.5,205.7 273.7,204.5 273.9,195.4 274.1,199.5 274.3,189.9 274.5,203.3 274.7,191.9 274.9,197.8 275.1,205.7 275.3,198.1 275.5,200.7 275.7,195.5 275.9,220.9 276.1,192.4 276.3,196.1 276.5,199.0 276.7,221.3 276.9,196.4 277.1,200.5 277.3,205.9 277.5,188.3 277.7,206.7 277.9,202.8 278.1,211.9 278.3,212.1 278.5,204.1 278.7,208.8 278.9,196.5 279.1,193.6 279.3,199.2 279.5,202.2 279.8,198.8 280.0,203.9 280.2,205.5 280.4,214.6 280.6,200.0 280.8,198.0 281.0,204.5 281.2,202.7 281.4,205.4 281.6,214.5 281.8,196.0 282.0,206.7 282.2,211.7 282.4,211.1 282.6,192.4 282.8,199.3 283.0,211.1 283.2,201.5 283.4,204.6 283.6,200.7 283.8,211.3 284.0,203.2 284.2,199.6 284.4,202.2 284.6,212.2 284.8,204.4 285.0,191.8 285.2,189.5 285.4,206.3 285.6,191.4 285.8,202.2 286.0,196.6 286.2,202.6 286.4,196.4 286.6,188.0 286.8,211.4 287.0,200.6 287.2,199.7 287.4,212.6 287.6,205.7 287.8,208.8 288.0,199.4 288.2,201.6 288.4,203.9 288.6,196.9 288.8,206.7 289.0,203.8 289.2,198.8 289.4,198.2 289.6,207.1 289.8,199.8 290.0,203.7 290.2,202.9 290.4,199.6 290.6,185.0 290.8,203.3 291.0,206.7 291.2,197.0 291.4,196.8 291.6,207.3 291.8,193.8 292.0,210.2 292.2,205.1 292.4,211.4 292.6,200.9 292.8,202.0 293.0,203.2 293.2,192.3 293.4,195.8 293.6,209.4 293.8,197.1 294.0,195.5 294.2,203.6 294.4,211.6 294.6,201.1 294.8,199.7 295.0,201.3 295.2,204.4 295.4,192.3 295.6,204.0 295.8,204.4 296.0,209.2 296.2,209.5 296.4,206.2 296.6,217.3 296.8,201.8 297.0,201.1 297.2,214.2 297.4,202.7 297.6,198.2 297.8,198.4 298.0,201.8 298.2,193.8 298.4,209.1 298.6,204.1 298.8,211.4 299.0,195.7 299.2,199.8 299.4,197.9 299.6,205.8 299.8,204.8 300.0,207.4 300.2,207.1 300.4,195.5 300.6,204.1 300.8,202.8 301.0,202.1 301.2,205.7 301.4,191.4 301.6,197.8 301.8,200.4 302.0,196.9 302.2,195.2 302.4,208.8 302.6,208.4 302.8,215.0 303.0,196.4 303.2,189.5 303.4,206.7 303.6,199.8 303.8,195.5 304.0,205.5 304.2,201.4 304.4,192.1 304.6,202.5 304.8,192.5 305.0,205.5 305.2,194.4 305.4,193.0 305.6,206.8 305.8,208.4 306.0,200.2 306.2,195.0 306.4,205.9 306.6,202.7 306.8,203.4 307.0,199.4 307.2,193.2 307.4,198.9 307.6,212.3 307.8,197.8 308.0,201.2 308.2,201.6 308.4,208.6 308.6,203.8 308.8,199.3 309.0,216.2 309.2,203.2 309.4,204.1 309.6,198.0 309.8,193.4 310.0,205.2 310.2,199.9 310.4,204.3 310.6,190.2 310.8,214.7 311.0,202.5 311.2,207.9 311.4,195.8 311.6,202.9 311.8,203.3 312.0,210.3 312.2,207.8 312.4,191.2 312.6,203.8 312.8,203.3 313.0,200.4 313.2,203.9 313.4,206.5 313.6,209.3 313.8,195.7 314.0,197.4 314.2,202.9 314.4,207.2 314.6,196.8 314.8,202.7 315.0,195.2 315.2,202.9 315.4,201.6 315.6,206.2 315.8,212.8 316.0,198.0 316.2,205.7 316.4,193.8 316.6,204.9 316.8,216.1 317.0,194.0 317.2,199.7 317.4,187.3 317.6,205.9 317.8,219.9 318.0,197.3 318.2,205.3 318.4,213.2 318.6,198.3 318.8,204.5 319.0,198.4 319.2,200.2 319.4,203.4 319.6,209.5 319.8,204.8 320.0,203.1 320.2,202.2 320.4,211.2 320.6,206.9 320.8,206.3 321.0,193.0 321.2,202.1 321.4,197.0 321.6,216.8 321.8,208.2 322.0,214.4 322.2,198.4 322.4,194.7 322.6,198.6 322.8,208.2 323.0,199.4 323.2,208.9 323.4,213.8 323.6,201.7 323.8,211.0 324.0,191.7 324.2,196.4 324.4,200.0 324.6,201.8 324.8,195.5 325.0,201.6 325.2,211.6 325.4,210.1 325.6,207.0 325.8,198.4 326.0,214.7 326.2,208.8 326.4,197.9 326.6,211.3 326.8,202.0 327.0,208.1 327.2,206.9 327.4,208.5 327.6,215.7 327.8,224.8 328.0,207.3 328.2,205.4 328.4,204.4 328.6,207.9 328.8,209.0 329.0,196.8 329.2,205.5 329.4,223.3 329.6,210.5 329.8,213.0 330.0,204.7 330.2,222.3 330.4,209.3 330.6,203.0 330.8,200.3 331.0,208.5 331.2,218.9 331.4,200.9 331.6,199.0 331.8,192.3 332.0,210.3 332.2,198.5 332.4,200.5 332.6,198.5 332.8,199.6 333.0,210.8 333.2,200.2 333.4,206.3 333.6,200.5 333.8,202.7 334.0,209.8 334.2,209.8 334.4,198.0 334.6,205.3 334.8,199.2 335.0,210.2 335.2,201.2 335.4,199.3 335.6,211.2 335.8,201.5 336.0,206.1 336.2,210.3 336.4,201.7 336.6,203.1 336.8,209.5 337.0,223.4 337.2,209.5 337.4,210.6 337.6,205.5 337.8,205.1 338.0,216.7 338.2,200.6 338.4,200.9 338.6,216.7 338.8,200.5 339.0,197.8 339.2,208.9 339.4,212.8 339.6,219.1 339.8,223.2 340.0,193.0 340.2,204.3 340.4,203.5 340.6,208.3 340.8,200.3 341.0,206.0 341.2,207.7 341.4,207.1 341.6,200.4 341.8,207.5 342.0,200.3 342.2,200.4 342.4,204.1 342.6,211.7 342.8,194.4 343.0,205.5 343.2,216.4 343.4,207.0 343.6,202.4 343.8,207.7 344.0,218.2 344.2,204.9 344.4,201.5 344.6,211.6 344.8,204.3 345.0,201.5 345.2,212.1 345.4,200.7 345.6,204.1 345.8,216.2 346.0,207.2 346.2,215.7 346.4,195.7 346.6,197.1 346.8,201.1 347.0,205.3 347.2,195.1 347.4,207.7 347.6,202.6 347.8,202.8 348.0,206.4 348.2,204.5 348.4,198.8 348.6,204.7 348.8,198.9 349.0,216.2 349.2,203.2 349.4,204.5 349.6,202.0 349.8,206.5 350.0,208.0 350.2,205.5 350.4,199.8 350.6,214.7 350.8,206.3 351.0,195.5 351.2,193.9 351.4,199.4 351.6,199.2 351.8,196.6 352.0,200.4 352.2,208.8 352.4,215.9 352.6,208.1 352.8,208.9 353.0,215.1 353.2,224.2 353.4,215.2 353.6,211.0 353.8,205.7 354.0,200.3 354.2,209.7 354.4,215.7 354.6,208.9 354.8,203.2 355.0,211.0 355.2,206.2 355.4,202.9 355.6,195.4 355.8,210.7 356.0,202.6 356.2,215.6 356.4,202.8 356.6,207.5 356.8,203.3 357.0,220.8 357.2,217.4 357.4,207.0 357.6,218.0 357.8,199.4 358.0,211.9 358.2,203.5 358.4,206.2 358.6,204.2 358.8,211.5 359.0,196.7 359.2,204.2 359.4,217.8 359.6,194.6 359.8,205.9 360.0,199.2 360.2,193.0 360.4,210.3 360.6,204.2 360.8,217.2 361.0,196.6 361.2,210.2 361.4,219.9 361.6,196.7 361.8,212.3 362.0,212.7 362.2,209.1 362.4,218.5 362.6,212.7 362.8,203.1 363.0,202.8 363.2,206.9 363.4,220.8 363.6,207.0 363.8,214.6 364.0,207.0 364.2,212.6 364.4,212.0 364.6,217.5 364.8,222.8 365.0,204.8 365.2,200.9 365.4,207.7 365.6,208.0 365.8,210.2 366.0,215.9 366.2,205.5 366.4,208.4 366.6,208.5 366.8,216.9 367.0,205.6 367.2,217.8 367.4,224.3 367.6,207.1 367.8,219.8 368.0,212.7 368.2,208.3 368.4,225.3 368.6,218.5 368.8,206.8 369.0,213.1 369.2,204.5 369.4,200.3 369.6,217.2 369.8,209.1 370.0,222.4 370.2,210.3 370.4,211.2 370.6,208.5 370.8,210.5 371.0,204.0 371.2,207.7 371.4,198.7 371.6,198.3 371.8,200.7 372.0,205.1 372.2,208.7 372.4,208.1 372.6,218.5 372.8,230.3 373.0,195.5 373.2,220.8 373.4,216.5 373.6,205.5 373.8,210.5 374.0,197.7 374.2,207.8 374.4,222.0 374.6,201.8 374.8,205.4 375.0,210.1 375.2,214.4 375.4,209.7 375.6,205.9 375.8,214.3 376.0,205.5 376.2,229.7 376.4,219.2 376.6,210.3 376.8,204.2 377.0,205.7 377.2,204.7 377.4,207.3 377.6,212.7 377.8,201.4 378.0,210.8 378.2,209.7 378.4,203.4 378.6,219.6 378.8,213.2 379.0,212.0 379.2,205.8 379.4,204.8 379.6,210.0 379.8,200.6 380.0,212.3 380.2,202.5 380.4,209.5 380.6,214.6 380.8,207.9 381.0,205.4 381.2,204.7 381.4,210.7 381.6,202.5 381.8,209.3 382.0,217.0 382.2,198.4 382.4,204.4 382.6,211.5 382.8,202.5 383.0,202.9 383.2,201.8 383.4,215.9 383.6,197.2 383.8,208.6 384.0,208.1 384.2,209.5 384.4,204.3 384.6,209.9 384.8,205.9 385.0,203.8 385.2,231.0 385.4,216.9 385.6,202.5 385.8,204.7 386.0,212.5 386.2,220.4 386.4,208.0 386.6,214.6 386.8,210.8 387.0,218.3 387.2,205.8 387.4,204.4 387.6,211.4 387.8,211.4 388.0,209.8 388.2,218.8 388.4,214.6 388.6,210.3 388.8,202.2 389.0,214.6 389.2,215.9 389.4,205.4 389.6,209.0 389.8,202.7 390.0,210.5 390.2,208.1 390.4,199.1 390.6,209.7 390.8,207.5 391.0,207.4 391.2,217.5 391.4,213.2 391.6,216.2 391.8,207.6 392.0,220.1 392.2,204.8 392.4,215.2 392.6,200.7 392.8,211.4 393.0,203.4 393.2,201.0 393.4,214.8 393.6,211.2 393.8,213.5 394.0,210.2 394.2,211.8 394.4,209.7 394.6,208.8 394.8,210.8 395.0,228.9 395.2,203.6 395.4,200.9 395.6,204.1 395.8,205.7 396.0,214.0 396.2,218.5 396.4,218.9 396.6,208.7 396.8,215.6 397.0,225.2 397.2,215.1 397.4,220.5 397.6,204.2 397.8,217.1 398.0,216.5 398.2,202.8 398.4,210.8 398.6,215.1 398.8,204.7 399.0,217.3 399.2,217.9 399.4,212.7 399.6,209.8 399.8,209.2 400.0,213.3 400.2,219.1 400.4,202.0 400.6,211.9 400.8,212.3 401.0,204.8 401.2,202.4 401.4,209.0 401.6,200.3 401.8,212.0 402.0,208.5 402.2,203.4 402.4,210.5 402.6,204.9 402.8,205.6 403.0,219.4 403.2,205.3 403.4,196.2 403.6,212.5 403.8,203.7 404.0,204.5 404.2,222.4 404.4,209.8 404.6,216.4 404.8,201.7 405.0,203.7 405.2,204.9 405.4,215.6 405.6,205.9 405.8,198.9 406.0,215.8 406.2,206.8 406.4,210.9 406.6,215.9 406.8,228.0 407.0,210.0 407.2,222.7 407.4,201.8 407.6,211.5 407.8,212.4 408.0,197.6 408.2,204.0 408.4,205.5 408.6,213.9 408.8,207.0 409.0,207.5 409.2,205.9 409.4,213.7 409.6,209.9 409.8,209.8 410.0,208.8 410.2,215.4 410.4,205.8 410.6,210.3 410.8,210.6 411.0,213.3 411.2,218.2 411.4,213.1 411.6,202.3 411.8,218.3 412.0,220.1 412.2,220.6 412.4,217.4 412.6,201.4 412.8,210.1 413.0,217.0 413.2,217.2 413.4,210.5 413.6,212.1 413.8,204.1 414.0,214.1 414.2,199.0 414.4,209.7 414.6,218.5 414.8,203.6 415.0,221.2 415.2,227.3 415.4,215.2 415.6,207.9 415.8,208.1 416.0,203.7 416.2,216.9 416.4,204.3 416.6,212.8 416.8,204.4 417.0,215.4 417.2,202.8 417.4,210.6 417.6,206.7 417.8,219.3 418.0,208.8 418.2,210.4 418.4,220.2 418.6,204.3 418.8,203.6 419.0,211.0 419.2,204.8 419.4,224.8 419.6,212.4 419.8,213.2 420.0,209.1 420.2,194.8 420.4,221.3 420.6,210.6 420.8,199.4 421.0,204.4 421.2,211.2 421.4,220.9 421.6,213.8 421.8,214.0 422.0,213.7 422.2,205.5 422.4,207.0 422.6,211.5 422.8,203.0 423.0,211.6 423.2,216.3 423.4,197.9 423.6,209.8 423.8,209.5 424.0,212.1 424.2,225.4 424.4,202.8 424.6,227.1 424.8,216.5 425.0,232.3 425.2,208.9 425.4,214.1 425.6,210.6 425.8,215.2 426.0,205.6 426.2,206.3 426.4,210.3 426.6,216.2 426.8,203.2 427.0,209.2 427.2,207.3 427.4,213.6 427.6,217.7 427.8,202.2 428.0,204.9 428.2,209.0 428.4,204.9 428.6,222.5 428.8,224.9 429.0,217.0 429.2,215.2 429.4,204.4 429.6,205.2 429.8,214.5 430.0,223.1 430.2,209.0 430.4,213.5 430.6,224.2 430.8,225.3 431.0,205.0 431.2,213.4 431.4,217.0 431.6,201.4 431.8,208.2 432.0,212.8 432.2,207.9 432.5,215.2 432.7,208.8 432.9,201.0 433.1,203.4 433.3,198.9 433.5,203.0 433.7,215.5 433.9,213.2 434.1,214.9 434.3,221.2 434.5,204.0 434.7,207.9 434.9,212.1 435.1,224.4 435.3,213.2 435.5,210.3 435.7,213.4 435.9,205.4 436.1,199.7 436.3,214.7 436.5,208.4 436.7,214.5 436.9,203.8 437.1,205.4 437.3,216.9 437.5,212.7 437.7,218.4 437.9,206.8 438.1,211.8 438.3,216.4 438.5,218.0 438.7,211.0 438.9,213.4 439.1,210.7 439.3,210.3 439.5,210.9 439.7,214.6 439.9,203.0 440.1,211.0 440.3,204.8 440.5,211.4 440.7,209.5 440.9,212.4 441.1,209.4 441.3,210.1 441.5,202.6 441.7,221.8 441.9,202.7 442.1,200.0 442.3,213.5 442.5,215.2 442.7,210.4 442.9,208.8 443.1,203.9 443.3,225.7 443.5,200.9 443.7,230.0 443.9,201.5 444.1,204.5 444.3,209.3 444.5,208.0 444.7,214.5 444.9,205.6 445.1,208.7 445.3,201.5 445.5,220.0 445.7,209.0 445.9,206.2 446.1,211.3 446.3,217.9 446.5,213.8 446.7,206.6 446.9,212.4 447.1,213.8 447.3,214.4 447.5,209.4 447.7,216.4 447.9,204.5 448.1,212.4 448.3,206.3 448.5,212.0 448.7,207.8 448.9,216.7 449.1,209.0 449.3,220.8 449.5,205.7 449.7,219.5 449.9,206.3 450.1,198.0 450.3,205.4 450.5,218.3 450.7,213.3 450.9,215.4 451.1,209.2 451.3,214.3 451.5,205.5 451.7,225.6 451.9,224.5 452.1,215.3 452.3,208.2 452.5,207.7 452.7,216.7 452.9,214.7 453.1,206.3 453.3,217.7 453.5,218.8 453.7,216.4 453.9,215.2 454.1,214.1 454.3,212.5 454.5,210.4 454.7,208.4 454.9,222.1 455.1,203.0 455.3,213.4 455.5,219.1 455.7,231.8 455.9,210.3 456.1,223.4 456.3,222.6 456.5,220.0 456.7,227.8 456.9,202.7 457.1,220.5 457.3,212.3 457.5,216.3 457.7,212.1 457.9,207.5 458.1,201.8 458.3,216.2 458.5,211.5 458.7,204.6 458.9,212.2 459.1,205.9 459.3,207.3 459.5,214.3 459.7,218.9 459.9,201.3 460.1,212.3 460.3,217.4 460.5,204.8 460.7,210.7 460.9,215.2 461.1,219.9 461.3,205.4 461.5,202.8 461.7,208.6 461.9,209.3 462.1,212.5 462.3,213.0 462.5,201.1 462.7,218.0 462.9,202.5 463.1,215.2 463.3,216.3 463.5,215.7 463.7,214.9 463.9,215.3 464.1,207.5 464.3,207.2 464.5,230.2 464.7,225.3 464.9,223.3 465.1,219.0 465.3,203.0 465.5,228.0 465.7,211.3 465.9,212.6 466.1,218.5 466.3,208.3 466.5,223.0 466.7,199.0 466.9,222.3 467.1,216.6 467.3,207.2 467.5,219.2 467.7,221.8 467.9,218.8 468.1,219.9 468.3,211.1 468.5,220.9 468.7,220.9 468.9,222.8 469.1,217.7 469.3,202.6 469.5,216.7 469.7,204.5 469.9,207.6 470.1,211.8 470.3,213.8 470.5,210.6 470.7,214.9 470.9,216.3 471.1,213.8 471.3,213.0 471.5,215.0 471.7,217.5 471.9,206.4 472.1,203.2 472.3,220.4 472.5,213.2 472.7,199.2 472.9,220.8 473.1,221.0 473.3,201.4 473.5,204.8 473.7,208.8 473.9,204.6 474.1,208.0 474.3,211.8 474.5,219.7 474.7,198.5 474.9,212.9 475.1,220.6 475.3,198.7 475.5,214.6 475.7,211.9 475.9,208.6 476.1,218.1 476.3,222.8 476.5,220.9 476.7,229.3 476.9,207.8 477.1,200.5 477.3,209.0 477.5,213.8 477.7,221.7 477.9,216.6 478.1,208.6 478.3,223.4 478.5,216.0 478.7,214.4 478.9,211.4 479.1,215.8 479.3,217.1 479.5,213.0 479.7,199.2 479.9,207.1 480.1,216.1 480.3,225.5 480.5,222.1 480.7,221.5 480.9,227.1 481.1,218.1 481.3,223.5 481.5,221.0 481.7,214.9 481.9,207.3 482.1,203.1 482.3,216.5 482.5,205.4 482.7,212.6 482.9,218.9 483.1,208.6 483.3,220.4 483.5,213.9 483.7,207.5 483.9,217.8 484.1,219.0 484.3,210.1 484.5,217.3 484.7,206.2 484.9,214.5 485.1,215.8 485.3,206.8 485.5,214.4 485.7,225.3 485.9,209.3 486.1,206.3 486.3,204.6 486.5,208.5 486.7,206.5 486.9,203.4 487.1,214.5 487.3,216.3 487.5,207.3 487.7,214.3 487.9,221.2 488.1,216.6 488.3,215.3 488.5,219.2 488.7,209.5 488.9,221.0 489.1,229.7 489.3,209.6 489.5,202.5 489.7,209.1 489.9,207.4 490.1,215.8 490.3,223.9 490.5,218.6 490.7,228.5 490.9,217.7 491.1,214.9 491.3,202.4 491.5,217.3 491.7,210.0 491.9,210.6 492.1,212.5 492.3,227.7 492.5,221.2 492.7,214.6 492.9,205.2 493.1,211.4 493.3,212.6 493.5,221.3 493.7,218.6 493.9,218.5 494.1,208.1 494.3,221.9 494.5,238.4 494.7,205.4 494.9,207.5 495.1,214.9 495.3,222.1 495.5,216.3 495.7,215.2 495.9,226.4 496.1,207.2 496.3,201.9 496.5,204.6 496.7,220.5 496.9,221.7 497.1,211.5 497.3,205.0 497.5,208.3 497.7,217.0 497.9,221.6 498.1,209.8 498.3,208.5 498.5,207.9 498.7,209.8 498.9,219.0 499.1,215.3 499.3,216.6 499.5,214.7 499.7,215.3 499.9,205.5 500.1,207.0 500.3,216.5 500.5,216.9 500.7,222.4 500.9,213.4 501.1,208.2 501.3,212.6 501.5,212.3 501.7,218.1 501.9,212.9 502.1,218.0 502.3,218.3 502.5,218.3 502.7,218.8 502.9,207.8 503.1,223.5 503.3,228.2 503.5,221.1 503.7,228.0 503.9,218.1 504.1,211.2 504.3,219.2 504.5,214.9 504.7,214.3 504.9,228.5 505.1,209.2 505.3,224.3 505.5,211.4 505.7,204.4 505.9,221.2 506.1,216.3 506.3,217.2 506.5,217.5 506.7,224.4 506.9,218.6 507.1,214.0 507.3,215.3 507.5,219.5 507.7,212.1 507.9,219.1 508.1,203.4 508.3,215.2 508.5,216.0 508.7,221.7" stroke="#2870e0" />
<polyline points="50.6,286.3 50.8,294.5 51.0,301.5 51.2,332.6 51.4,298.6 51.6,303.3 51.8,291.3 52.0,322.8 52.2,294.3 52.4,294.2 52.6,298.1 52.8,284.4 53.0,286.8 53.2,292.9 53.4,288.5 53.6,307.2 53.8,291.3 54.0,323.1 54.2,299.0 54.4,289.0 54.6,297.7 54.8,303.5 55.0,296.0 55.2,300.6 55.4,293.6 55.6,288.3 55.8,294.8 56.0,315.9 56.2,291.7 56.4,294.9 56.6,281.9 56.8,289.2 57.0,298.8 57.2,292.0 57.4,308.1 57.6,305.9 57.8,290.9 58.0,294.2 58.2,302.2 58.4,299.0 58.6,292.2 58.8,279.3 59.0,310.5 59.2,295.4 59.4,296.9 59.6,288.4 59.8,311.8 60.0,294.1 60.2,296.9 60.4,278.1 60.6,290.6 60.8,294.5 61.0,299.0 61.2,302.3 61.4,293.0 61.6,306.0 61.8,293.7 62.0,293.2 62.2,294.8 62.4,280.3 62.6,276.5 62.8,315.6 63.0,279.7 63.2,288.8 63.4,300.6 63.6,288.2 63.8,306.6 64.0,278.0 64.2,295.8 64.4,300.8 64.6,319.8 64.8,310.7 65.0,287.6 65.2,303.5 65.4,297.2 65.6,283.5 65.8,289.4 66.0,305.6 66.2,291.4 66.4,285.5 66.6,288.3 66.8,283.0 67.0,280.5 67.2,297.9 67.4,298.8 67.6,305.2 67.8,280.7 68.0,283.9 68.2,298.2 68.4,295.4 68.6,292.2 68.8,283.3 69.0,290.9 69.2,281.5 69.4,310.7 69.6,301.1 69.8,284.9 70.0,307.1 70.2,284.5 70.4,299.7 70.6,295.3 70.8,289.9 71.0,308.3 71.2,279.6 71.4,290.5 71.6,290.5 71.8,278.6 72.0,280.6 72.2,294.8 72.4,296.1 72.6,284.6 72.8,299.2 73.0,298.3 73.2,301.6 73.4,291.3 73.6,292.7 73.8,299.8 74.0,288.4 74.2,286.0 74.4,283.0 74.6,298.8 74.8,307.3 75.0,278.4 75.2,291.2 75.4,301.5 75.6,310.4 75.8,296.9 76.0,286.8 76.2,301.8 76.4,321.4 76.6,298.5 76.8,302.1 77.0,314.3 77.2,282.0 77.4,303.6 77.6,311.5 77.8,305.9 78.0,297.2 78.2,291.9 78.4,290.2 78.6,283.8 78.8,290.6 79.0,284.7 79.2,294.5 79.4,293.3 79.6,289.8 79.8,291.4 80.0,295.9 80.2,284.3 80.4,301.8 80.6,297.1 80.8,301.3 81.0,292.1 81.2,293.4 81.4,296.8 81.6,296.5 81.8,291.6 82.0,292.2 82.2,290.4 82.4,291.8 82.6,288.5 82.8,288.0 83.0,286.4 83.2,310.3 83.4,289.1 83.6,294.4 83.8,286.4 84.0,296.8 84.2,308.5 84.4,288.7 84.6,296.9 84.8,294.7 85.0,304.4 85.2,294.7 85.4,294.4 85.6,293.2 85.8,279.2 86.0,305.9 86.2,313.7 86.4,287.9 86.6,304.5 86.8,295.6 87.0,311.4 87.2,290.7 87.4,300.2 87.6,310.1 87.8,301.5 88.0,298.0 88.2,295.5 88.4,290.3 88.6,297.4 88.8,287.3 89.0,314.5 89.2,302.0 89.4,294.8 89.6,283.1 89.8,307.6 90.0,310.9 90.2,301.0 90.4,305.8 90.6,305.8 90.8,296.2 91.0,294.1 91.2,297.8 91.4,310.1 91.6,291.3 91.8,283.0 92.0,297.8 92.2,297.7 92.4,295.8 92.6,298.4 92.8,286.1 93.0,288.7 93.2,292.8 93.4,295.8 93.6,301.6 93.8,303.9 94.0,298.4 94.2,295.0 94.4,287.5 94.6,291.9 94.8,282.8 95.0,289.6 95.2,300.4 95.4,301.8 95.6,287.0 95.8,308.4 96.0,277.2 96.2,301.3 96.4,295.9 96.6,294.4 96.8,299.9 97.0,292.0 97.2,321.2 97.4,291.6 97.6,292.7 97.8,298.9 98.0,279.6 98.2,294.5 98.4,283.6 98.6,310.1 98.8,291.1 99.0,294.5 99.2,280.8 99.4,315.4 99.6,281.1 99.8,283.0 100.0,288.8 100.2,277.4 100.4,283.9 100.6,291.5 100.8,306.3 101.0,306.8 101.2,285.1 101.4,290.0 101.6,302.0" stroke="#005e5e" />
<polyline points="101.8,114.9 102.0,107.1 102.2,109.1 102.4,110.0 102.6,110.6 102.8,109.1 103.0,117.9 103.2,110.3 103.4,116.9 103.6,115.0 103.8,131.0 104.0,121.0 104.2,109.1 104.4,119.0 104.6,110.4 104.8,124.0 105.0,117.8 105.2,112.7 105.4,117.0 105.6,120.2 105.8,128.9 106.0,123.7 106.2,126.1 106.4,122.2 106.6,123.7 106.8,120.9 107.0,125.5 107.2,126.7 107.4,128.3 107.6,126.1 107.8,129.2 108.0,129.1 108.2,132.7 108.4,129.8 108.6,130.7 108.8,130.4 109.0,131.9 109.2,134.3 109.4,132.2 109.6,142.9 109.8,142.6 110.0,140.2 110.2,142.7 110.4,135.0 110.6,137.9 110.8,139.2 111.0,142.9 111.2,146.2 111.4,147.2 111.6,138.0 111.8,144.2 112.0,150.5 112.2,144.6 112.4,148.6 112.6,140.4 112.8,147.9 113.0,147.1 113.2,141.2 113.4,153.5 113.6,157.3 113.8,155.0 114.0,150.0 114.2,151.5 114.4,149.8 114.6,156.2 114.8,156.1 115.0,161.8 115.2,154.9 115.4,160.2 115.6,154.9 115.8,153.4 116.0,157.1 116.2,153.8 116.4,154.3 116.6,162.5 116.8,162.8 117.0,156.2 117.2,156.3 117.4,159.9 117.6,158.0 117.8,165.6 118.0,160.9 118.2,157.1 118.4,159.3 118.6,165.8 118.8,175.8 119.0,167.0 119.2,158.7 119.4,161.0 119.6,166.4 119.8,165.1 120.0,167.1 120.2,178.3 120.4,162.4 120.6,163.0 120.8,167.7 121.0,168.5 121.2,169.8 121.4,173.6 121.6,169.5 121.8,175.8 122.0,171.3 122.2,172.8 122.4,163.6 122.6,167.4 122.8,170.1 123.0,175.9 123.2,169.6 123.4,168.6 123.6,169.9 123.8,184.1 124.0,167.5 124.2,176.0 124.4,175.4 124.6,183.9 124.8,179.7 125.0,174.6 125.2,181.5 125.4,184.6 125.6,175.6 125.8,170.1 126.0,172.4 126.2,178.8 126.4,173.9 126.6,180.0 126.8,186.3 127.1,181.2 127.3,194.2 127.5,180.1 127.7,175.2 127.9,182.6 128.1,187.7 128.3,175.6 128.5,185.3 128.7,193.2 128.9,184.7 129.1,195.2 129.3,176.9 129.5,187.8 129.7,176.9 129.9,176.9 130.1,178.4 130.3,192.3 130.5,188.1 130.7,195.2 130.9,182.4 131.1,178.9 131.3,192.5 131.5,183.9 131.7,180.3 131.9,192.6 132.1,194.6 132.3,184.5 132.5,189.7 132.7,192.3 132.9,184.4 133.1,185.2 133.3,191.4 133.5,200.6 133.7,185.2 133.9,195.5 134.1,194.4 134.3,192.3 134.5,190.3 134.7,187.2 134.9,196.0 135.1,191.5 135.3,180.8 135.5,194.7 135.7,188.6 135.9,192.4 136.1,207.2 136.3,195.8 136.5,183.7 136.7,191.7 136.9,188.3 137.1,201.1 137.3,180.4 137.5,198.7 137.7,195.7 137.9,193.6 138.1,198.5 138.3,208.5 138.5,186.9 138.7,193.7 138.9,196.8 139.1,197.4 139.3,196.0 139.5,200.7 139.7,198.9 139.9,195.8 140.1,188.8 140.3,203.2 140.5,209.1 140.7,207.3 140.9,202.4 141.1,208.0 141.3,192.0 141.5,205.6 141.7,202.7 141.9,200.3 142.1,208.7 142.3,200.0 142.5,198.9 142.7,195.5 142.9,191.7 143.1,198.9 143.3,214.3 143.5,215.4 143.7,198.5 143.9,203.3 144.1,213.3 144.3,196.6 144.5,200.0 144.7,195.0 144.9,214.5 145.1,199.4 145.3,201.1 145.5,203.3 145.7,198.5 145.9,223.4 146.1,212.0 146.3,219.9 146.5,193.3 146.7,209.7 146.9,203.6 147.1,198.3 147.3,205.6 147.5,217.0 147.7,213.7 147.9,202.4 148.1,234.4 148.3,214.1 148.5,201.2 148.7,201.2 148.9,202.5 149.1,206.2 149.3,203.6 149.5,203.0 149.7,214.1 149.9,203.4 150.1,208.5 150.3,203.9 150.5,206.4 150.7,216.8 150.9,208.6 151.1,214.1 151.3,208.3 151.5,217.1 151.7,208.9 151.9,217.6 152.1,201.6 152.3,217.7 152.5,212.9 152.7,204.1 152.9,205.7 153.1,198.7 153.3,208.4 153.5,211.5 153.7,207.0 153.9,218.2 154.1,198.6 154.3,209.3 154.5,203.3 154.7,207.6 154.9,217.2 155.1,211.1 155.3,222.5 155.5,209.1 155.7,207.4 155.9,209.9 156.1,203.1 156.3,206.5 156.5,211.6 156.7,218.9 156.9,206.1 157.1,206.7 157.3,203.1 157.5,204.2 157.7,212.2 157.9,213.0 158.1,215.0 158.3,211.2 158.5,220.7 158.7,203.1 158.9,213.1 159.1,218.0 159.3,211.4 159.5,216.8 159.7,212.4 159.9,211.6 160.1,215.3 160.3,210.3 160.5,214.4 160.7,219.0 160.9,208.1 161.1,219.9 161.3,223.9 161.5,228.0 161.7,213.5 161.9,224.2 162.1,205.2 162.3,207.8 162.5,216.7 162.7,209.4 162.9,210.5 163.1,210.1 163.3,214.4 163.5,212.4 163.7,210.7 163.9,216.4 164.1,213.4 164.3,216.9 164.5,219.1 164.7,221.0 164.9,215.7 165.1,214.5 165.3,214.6 165.5,210.8 165.7,220.8 165.9,217.3 166.1,225.4 166.3,219.9 166.5,214.7 166.7,224.1 166.9,216.2 167.1,217.7 167.3,221.5 167.5,220.0 167.7,213.6 167.9,223.5 168.1,221.4 168.3,218.6 168.5,217.5 168.7,220.6 168.9,210.1 169.1,228.8 169.3,205.8 169.5,213.0 169.7,213.3 169.9,222.2 170.1,219.8 170.3,222.1 170.5,212.3 170.7,228.6 170.9,226.3 171.1,208.2 171.3,221.3 171.5,209.1 171.7,216.6 171.9,224.1 172.1,220.5 172.3,212.5 172.5,216.5 172.7,228.4 172.9,221.8 173.1,225.9 173.3,211.0 173.5,224.6 173.7,222.4 173.9,215.3 174.1,231.8 174.3,221.1 174.5,227.8 174.7,218.3 174.9,224.5 175.1,225.6 175.3,221.2 175.5,222.8 175.7,224.3 175.9,221.6 176.1,214.7 176.3,224.8 176.5,221.8 176.7,224.4 176.9,217.6 177.1,234.4 177.3,229.6 177.5,233.5 177.7,237.8 177.9,230.6 178.1,221.5 178.3,215.8 178.5,232.1 178.7,225.7 178.9,230.0 179.1,234.0 179.3,223.0 179.5,218.4 179.7,227.2 179.9,221.5 180.1,219.2 180.3,227.3 180.5,223.0 180.7,228.4 180.9,218.1 181.1,224.2 181.3,223.4 181.5,225.0 181.7,221.4 181.9,230.1 182.1,216.7 182.3,228.7 182.5,233.7 182.7,225.7 182.9,226.4 183.1,221.0 183.3,227.8 183.5,229.2 183.7,227.5 183.9,229.0 184.1,230.3 184.3,228.1 184.5,215.9 184.7,219.7 184.9,226.1 185.1,244.1 185.3,235.0 185.5,227.0 185.7,225.9 185.9,224.4 186.1,231.6 186.3,225.5 186.5,228.0 186.7,222.1 186.9,224.9 187.1,221.6 187.3,222.9 187.5,225.7 187.7,236.9 187.9,230.7 188.1,236.1 188.3,225.3 188.5,230.4 188.7,224.6 188.9,227.4 189.1,227.7 189.3,219.1 189.5,229.3 189.7,221.6 189.9,232.6 190.1,225.1 190.3,219.9 190.5,222.0 190.7,223.8 190.9,240.4 191.1,221.8 191.3,227.1 191.5,230.9 191.7,228.6 191.9,229.5 192.1,235.0 192.3,225.5 192.5,243.7 192.7,240.6 192.9,231.8 193.1,240.8 193.3,231.4 193.5,227.9 193.7,223.3 193.9,226.5 194.1,235.1 194.3,233.4 194.5,243.4 194.7,243.2 194.9,237.9 195.1,232.3 195.3,245.4 195.5,231.3 195.7,218.2 195.9,230.0 196.1,235.2 196.3,236.1 196.5,236.2 196.7,237.9 196.9,217.9 197.1,251.0 197.3,236.5 197.5,233.1 197.7,221.2 197.9,238.8 198.1,226.2 198.3,221.1 198.5,237.2 198.7,236.9 198.9,232.1 199.1,227.2 199.3,236.3 199.5,233.7 199.7,235.8 199.9,236.4 200.1,224.3 200.3,236.8 200.5,225.7 200.7,237.1 200.9,231.2 201.1,230.5 201.3,246.8 201.5,235.6 201.7,235.5 201.9,240.0 202.1,252.1 202.3,218.8 202.5,238.3 202.7,235.1 202.9,243.5 203.1,235.1 203.3,234.7 203.5,239.6 203.7,235.0 203.9,229.6 204.1,235.7 204.3,250.8 204.5,240.2 204.7,222.3 204.9,235.0 205.1,229.6 205.3,243.3 205.5,228.8 205.7,235.6 205.9,240.1 206.1,242.8 206.3,232.3 206.5,238.7 206.7,255.9 206.9,232.3 207.1,237.2 207.3,231.2 207.5,235.8 207.7,241.0 207.9,237.8 208.1,242.5 208.3,229.2 208.5,238.8 208.7,235.5 208.9,221.6 209.1,246.7 209.3,238.9 209.5,234.0 209.7,246.8 209.9,242.5 210.1,224.4 210.3,242.1 210.5,259.8 210.7,241.1 210.9,245.5 211.1,228.2 211.3,228.9 211.5,229.7 211.7,247.9 211.9,246.7 212.1,224.4 212.3,246.6 212.5,226.5 212.7,230.3 212.9,238.9 213.1,234.8 213.3,239.4 213.5,241.5 213.7,249.5 213.9,236.6 214.1,235.4 214.3,235.2 214.5,262.0 214.7,250.1 214.9,250.5 215.1,245.2 215.3,242.8 215.5,253.0 215.7,240.5 215.9,231.0 216.1,230.6 216.3,264.3 216.5,234.1 216.7,236.5 216.9,240.3 217.1,250.3 217.3,233.9 217.5,240.1 217.7,244.8 217.9,233.0 218.1,242.5 218.3,251.1 218.5,244.0 218.7,242.9 218.9,246.2 219.1,241.8 219.3,239.1 219.5,238.5 219.7,249.4 219.9,231.6 220.1,234.3 220.3,249.2 220.5,252.8 220.7,243.6 220.9,236.8 221.1,232.2 221.3,247.8 221.5,244.5 221.7,245.8 221.9,246.5 222.1,235.9 222.3,237.7 222.5,242.4 222.7,241.9 222.9,232.5 223.1,234.8 223.3,241.9 223.5,255.4 223.7,265.4 223.9,245.6 224.1,241.3 224.3,246.1 224.5,244.4 224.7,237.8 224.9,225.7 225.1,245.5 225.3,239.7 225.5,243.8 225.7,237.4 225.9,241.9 226.1,245.8 226.3,235.4 226.5,239.6 226.7,249.9 226.9,251.4 227.1,233.3 227.3,251.9 227.5,256.6 227.7,249.0 227.9,249.4 228.1,246.9 228.3,249.1 228.5,242.4 228.7,257.2 228.9,246.0 229.1,236.2 229.3,250.7 229.5,254.0 229.7,249.8 229.9,239.4 230.1,251.8 230.3,229.3 230.5,261.9 230.7,251.4 230.9,234.8 231.1,233.5 231.3,269.3 231.5,249.0 231.7,241.9 231.9,250.0 232.1,245.7 232.3,245.9 232.5,250.0 232.7,250.0 232.9,240.1 233.1,250.2 233.3,249.6 233.5,240.8 233.7,256.2 233.9,252.6 234.1,240.8 234.3,264.6 234.5,253.0 234.7,260.7 234.9,243.1 235.1,245.1 235.3,249.9 235.5,244.7 235.7,247.4 235.9,239.1 236.1,268.2 236.3,253.6 236.5,260.9 236.7,265.2 236.9,249.0 237.1,267.9 237.3,234.4 237.5,246.6 237.7,245.4 237.9,249.2 238.1,241.3 238.3,257.1 238.5,267.9 238.7,251.6 238.9,254.8 239.1,235.5 239.3,244.3 239.5,253.2 239.7,244.8 239.9,252.5 240.1,247.0 240.3,253.1 240.5,240.3 240.7,254.5 240.9,263.1 241.1,256.3 241.3,270.4 241.5,249.8 241.7,258.2 241.9,241.3 242.1,259.1 242.3,255.1 242.5,248.9 242.7,261.0 242.9,242.7 243.1,249.1 243.3,253.7 243.5,243.8 243.7,244.0 243.9,260.0 244.1,248.6 244.3,243.7 244.5,247.7 244.7,247.0 244.9,245.7 245.1,254.4 245.3,243.8 245.5,241.1 245.7,252.1 245.9,251.1 246.1,262.5 246.3,242.3 246.5,247.4 246.7,260.7 246.9,254.8 247.1,247.5 247.3,245.8 247.5,257.7 247.7,251.6 247.9,245.8 248.1,248.6 248.3,248.9 248.5,260.1 248.7,235.9 248.9,247.7 249.1,262.8 249.3,240.6 249.5,250.0 249.7,259.4 249.9,242.9 250.1,248.1 250.3,245.9 250.5,253.7 250.7,247.4 250.9,244.7 251.1,253.2 251.3,254.2 251.5,262.4 251.7,249.6 251.9,251.3 252.1,248.3 252.3,262.9 252.5,263.3 252.7,246.9 252.9,238.8 253.1,270.8 253.3,240.4 253.5,241.1 253.7,248.9 253.9,270.6 254.1,262.9 254.3,251.2 254.5,259.1 254.7,251.9 254.9,263.0 255.1,250.0 255.3,267.8 255.5,258.4 255.7,249.2 255.9,241.7 256.1,263.7 256.3,258.0 256.5,246.6 256.7,247.0 256.9,250.0 257.1,251.1 257.3,252.4 257.5,253.7 257.7,253.9 257.9,249.6 258.1,273.1 258.3,251.9 258.5,249.1 258.7,258.7 258.9,247.7 259.1,257.9 259.3,255.4 259.5,263.3 259.7,247.3 259.9,241.6 260.1,264.8 260.3,253.1 260.5,270.4 260.7,260.8 260.9,251.1 261.1,257.5 261.3,246.2 261.5,247.5 261.7,254.9 261.9,255.9 262.1,243.2 262.3,261.5 262.5,259.3 262.7,264.1 262.9,244.7 263.1,260.0 263.3,250.4 263.5,251.5 263.7,264.3 263.9,255.8 264.1,260.1 264.3,263.1 264.5,265.3 264.7,248.6 264.9,248.5 265.1,258.5 265.3,260.3 265.5,250.2 265.7,259.1 265.9,249.4 266.1,253.8 266.3,255.1 266.5,257.9 266.7,261.9 266.9,253.7 267.1,257.8 267.3,250.3 267.5,263.1 267.7,261.7 267.9,252.8 268.1,275.1 268.3,256.7 268.5,255.2 268.7,254.2 268.9,260.9 269.1,259.0 269.3,252.8 269.5,262.0 269.7,267.3 269.9,271.5 270.1,263.0 270.3,255.9 270.5,252.6 270.7,263.4 270.9,270.2 271.1,280.5 271.3,256.3 271.5,250.6 271.7,251.4 271.9,262.0 272.1,264.7 272.3,253.2 272.5,249.9 272.7,245.1 272.9,265.1 273.1,247.3 273.3,263.3 273.5,256.9 273.7,244.5 273.9,249.5 274.1,266.8 274.3,258.1 274.5,256.2 274.7,269.0 274.9,257.7 275.1,258.8 275.3,259.0 275.5,258.7 275.7,267.7 275.9,253.9 276.1,267.9 276.3,272.1 276.5,254.1 276.7,262.2 276.9,249.5 277.1,258.9 277.3,269.2 277.5,266.5 277.7,255.1 277.9,263.2 278.1,262.6 278.3,259.3 278.5,259.7 278.7,276.9 278.9,241.3 279.1,253.8 279.3,266.2 279.5,257.5 279.8,261.4 280.0,261.0 280.2,256.7 280.4,258.7 280.6,252.7 280.8,258.5 281.0,265.2 281.2,267.5 281.4,263.1 281.6,256.6 281.8,255.6 282.0,246.6 282.2,257.2 282.4,251.5 282.6,253.3 282.8,255.9 283.0,259.2 283.2,259.8 283.4,258.8 283.6,250.4 283.8,255.2 284.0,264.6 284.2,257.9 284.4,262.2 284.6,259.3 284.8,272.5 285.0,274.2 285.2,284.1 285.4,256.2 285.6,266.2 285.8,249.7 286.0,265.5 286.2,263.2 286.4,256.3 286.6,272.7 286.8,260.8 287.0,248.3 287.2,273.1 287.4,260.4 287.6,266.7 287.8,254.6 288.0,253.8 288.2,250.7 288.4,251.7 288.6,266.0 288.8,264.5 289.0,248.0 289.2,259.8 289.4,260.0 289.6,253.8 289.8,262.1 290.0,253.6 290.2,268.1 290.4,257.3 290.6,260.9 290.8,238.7 291.0,255.6 291.2,259.3 291.4,254.2 291.6,257.3 291.8,251.9 292.0,266.3 292.2,251.3 292.4,256.4 292.6,271.5 292.8,268.9 293.0,258.5 293.2,249.6 293.4,245.8 293.6,262.2 293.8,260.6 294.0,256.5 294.2,256.5 294.4,278.5 294.6,266.5 294.8,259.1 295.0,257.4 295.2,256.4 295.4,261.9 295.6,257.1 295.8,260.0 296.0,255.9 296.2,265.7 296.4,261.3 296.6,251.0 296.8,288.0 297.0,261.8 297.2,255.9 297.4,250.6 297.6,260.3 297.8,255.0 298.0,275.3 298.2,264.2 298.4,255.2 298.6,247.5 298.8,266.8 299.0,248.0 299.2,264.0 299.4,261.0 299.6,242.4 299.8,257.9 300.0,275.1 300.2,253.2 300.4,244.9 300.6,247.9 300.8,259.3 301.0,262.4 301.2,267.2 301.4,262.3 301.6,252.9 301.8,256.6 302.0,258.2 302.2,258.8 302.4,250.9 302.6,265.6 302.8,269.9 303.0,259.1 303.2,261.5 303.4,251.0 303.6,262.1 303.8,254.2 304.0,253.6 304.2,267.4 304.4,261.6 304.6,256.7 304.8,248.7 305.0,260.7 305.2,275.8 305.4,263.4 305.6,262.7 305.8,271.8 306.0,281.2 306.2,266.0 306.4,270.3 306.6,262.9 306.8,265.5 307.0,265.2 307.2,271.4 307.4,257.7 307.6,264.2 307.8,264.2 308.0,260.9 308.2,256.9 308.4,268.9 308.6,258.7 308.8,250.4 309.0,268.2 309.2,251.2 309.4,268.8 309.6,244.9 309.8,262.1 310.0,279.3 310.2,260.4 310.4,272.9 310.6,258.9 310.8,256.1 311.0,259.9 311.2,270.9 311.4,274.3 311.6,275.7 311.8,270.4 312.0,262.2 312.2,248.1 312.4,256.4 312.6,276.7 312.8,250.5 313.0,266.6 313.2,266.2 313.4,250.0 313.6,265.4 313.8,259.1 314.0,264.1 314.2,261.5 314.4,260.6 314.6,255.1 314.8,248.1 315.0,279.4 315.2,255.6 315.4,260.2 315.6,259.3 315.8,260.0 316.0,256.5 316.2,267.4 316.4,262.5 316.6,258.6 316.8,257.8 317.0,267.1 317.2,255.5 317.4,267.4 317.6,275.3 317.8,272.7 318.0,267.9 318.2,250.6 318.4,269.6 318.6,265.5 318.8,276.2 319.0,258.7 319.2,259.6 319.4,277.4 319.6,257.0 319.8,274.3 320.0,266.6 320.2,246.5 320.4,259.8 320.6,259.7 320.8,253.2 321.0,249.7 321.2,264.1 321.4,255.4 321.6,258.0 321.8,256.0 322.0,261.5 322.2,268.0 322.4,270.9 322.6,268.2 322.8,260.6 323.0,262.2 323.2,268.8 323.4,275.4 323.6,262.9 323.8,253.7 324.0,266.3 324.2,269.4 324.4,259.9 324.6,275.0 324.8,259.8 325.0,263.8 325.2,267.1 325.4,279.4 325.6,254.6 325.8,268.7 326.0,271.1 326.2,262.9 326.4,273.5 326.6,258.6 326.8,254.8 327.0,254.3 327.2,258.4 327.4,255.5 327.6,268.6 327.8,264.1 328.0,253.0 328.2,279.5 328.4,266.3 328.6,251.7 328.8,250.5 329.0,264.7 329.2,277.2 329.4,261.6 329.6,273.2 329.8,280.2 330.0,270.9 330.2,261.6 330.4,254.1 330.6,258.9 330.8,277.1 331.0,264.6 331.2,256.5 331.4,261.0 331.6,262.7 331.8,275.2 332.0,259.7 332.2,283.3 332.4,266.6 332.6,267.8 332.8,255.7 333.0,268.3 333.2,267.0 333.4,271.4 333.6,258.9 333.8,266.7 334.0,253.0 334.2,256.7 334.4,288.9 334.6,260.8 334.8,258.4 335.0,273.1 335.2,263.2 335.4,292.6 335.6,265.4 335.8,271.3 336.0,262.6 336.2,275.8 336.4,265.2 336.6,294.1 336.8,259.0 337.0,269.1 337.2,271.7 337.4,255.9 337.6,260.5 337.8,258.5 338.0,252.2 338.2,267.7 338.4,245.6 338.6,254.7 338.8,255.8 339.0,267.4 339.2,263.6 339.4,274.8 339.6,276.5 339.8,266.4 340.0,257.1 340.2,271.6 340.4,259.0 340.6,262.3 340.8,265.3 341.0,279.7 341.2,293.6 341.4,277.2 341.6,261.4 341.8,274.3 342.0,277.9 342.2,258.5 342.4,266.9 342.6,260.0 342.8,260.5 343.0,266.5 343.2,267.0 343.4,259.4 343.6,266.0 343.8,256.0 344.0,264.4 344.2,267.1 344.4,261.9 344.6,254.0 344.8,259.5 345.0,269.4 345.2,275.0 345.4,274.9 345.6,275.6 345.8,283.4 346.0,262.3 346.2,277.0 346.4,259.4 346.6,283.4 346.8,275.3 347.0,257.9 347.2,272.5 347.4,275.6 347.6,259.5 347.8,269.2 348.0,274.4 348.2,284.9 348.4,261.6 348.6,281.5 348.8,258.1 349.0,259.5 349.2,279.4 349.4,273.3 349.6,260.1 349.8,281.5 350.0,271.0 350.2,268.2 350.4,264.0 350.6,248.4 350.8,266.6 351.0,275.5 351.2,266.1 351.4,273.3 351.6,265.7 351.8,280.1 352.0,247.0 352.2,271.0 352.4,259.1 352.6,268.5 352.8,272.8 353.0,277.8 353.2,274.3 353.4,278.3 353.6,258.6 353.8,268.0 354.0,250.9 354.2,269.8 354.4,254.1 354.6,277.0 354.8,268.6 355.0,264.4 355.2,261.4 355.4,268.4 355.6,261.8 355.8,255.7 356.0,270.4 356.2,259.8 356.4,271.1 356.6,259.1 356.8,257.2 357.0,289.9 357.2,272.4 357.4,278.5 357.6,264.6 357.8,266.5 358.0,266.8 358.2,286.9 358.4,273.2 358.6,267.8 358.8,266.6 359.0,267.6 359.2,277.1 359.4,267.5 359.6,267.7 359.8,280.5 360.0,276.6 360.2,274.9 360.4,287.5 360.6,266.6 360.8,258.4 361.0,255.1 361.2,266.9 361.4,269.7 361.6,276.8 361.8,256.4 362.0,257.0 362.2,265.6 362.4,265.1 362.6,256.5 362.8,266.0 363.0,274.0 363.2,265.4 363.4,291.9 363.6,274.2 363.8,260.8 364.0,265.6 364.2,256.3 364.4,289.7 364.6,265.0 364.8,264.8 365.0,274.2 365.2,264.6 365.4,261.9 365.6,266.8 365.8,277.1 366.0,277.2 366.2,256.7 366.4,255.0 366.6,271.5 366.8,264.7 367.0,263.5 367.2,277.5 367.4,271.6 367.6,263.2 367.8,273.3 368.0,261.5 368.2,263.3 368.4,286.6 368.6,265.6 368.8,272.8 369.0,265.5 369.2,265.1 369.4,258.9 369.6,258.7 369.8,280.2 370.0,290.9 370.2,274.4 370.4,273.5 370.6,263.5 370.8,267.7 371.0,283.3 371.2,296.3 371.4,274.9 371.6,272.1 371.8,279.2 372.0,269.8 372.2,262.2 372.4,261.3 372.6,266.2 372.8,265.1 373.0,251.5 373.2,254.9 373.4,276.3 373.6,277.9 373.8,276.5 374.0,266.7 374.2,263.0 374.4,268.3 374.6,271.7 374.8,264.6 375.0,279.4 375.2,263.0 375.4,251.9 375.6,275.3 375.8,277.5 376.0,267.4 376.2,279.0 376.4,280.7 376.6,250.8 376.8,272.9 377.0,259.3 377.2,275.6 377.4,271.5 377.6,277.2 377.8,266.9 378.0,264.1 378.2,271.8 378.4,295.4 378.6,273.4 378.8,260.8 379.0,269.1 379.2,267.2 379.4,282.1 379.6,270.7 379.8,266.8 380.0,271.2 380.2,263.6 380.4,274.0 380.6,260.7 380.8,265.7 381.0,271.6 381.2,258.7 381.4,258.9 381.6,263.1 381.8,284.5 382.0,277.9 382.2,270.4 382.4,279.6 382.6,278.2 382.8,264.7 383.0,260.8 383.2,281.9 383.4,264.3 383.6,276.1 383.8,257.7 384.0,269.3 384.2,259.9 384.4,276.4 384.6,277.4 384.8,273.8 385.0,277.7 385.2,265.4 385.4,273.9 385.6,275.8 385.8,262.8 386.0,276.0 386.2,272.8 386.4,274.6 386.6,268.0 386.8,269.7 387.0,274.7 387.2,271.3 387.4,275.7 387.6,259.4 387.8,279.5 388.0,263.5 388.2,280.6 388.4,258.7 388.6,264.9 388.8,272.6 389.0,274.0 389.2,266.3 389.4,262.7 389.6,276.1 389.8,280.5 390.0,262.8 390.2,260.4 390.4,265.1 390.6,269.2 390.8,256.6 391.0,261.8 391.2,276.6 391.4,263.6 391.6,263.4 391.8,285.8 392.0,281.0 392.2,287.5 392.4,270.4 392.6,269.2 392.8,266.8 393.0,258.8 393.2,254.7 393.4,269.7 393.6,263.9 393.8,276.6 394.0,280.1 394.2,258.5 394.4,259.5 394.6,272.7 394.8,284.9 395.0,286.8 395.2,264.9 395.4,271.4 395.6,285.4 395.8,264.4 396.0,262.6 396.2,284.5 396.4,264.8 396.6,261.1 396.8,287.3 397.0,267.3 397.2,267.5 397.4,276.7 397.6,286.5 397.8,278.9 398.0,273.6 398.2,275.3 398.4,275.4 398.6,274.1 398.8,257.8 399.0,274.3 399.2,260.4 399.4,265.1 399.6,272.7 399.8,270.4 400.0,274.9 400.2,271.3 400.4,276.1 400.6,290.7 400.8,262.3 401.0,282.4 401.2,290.9 401.4,267.8 401.6,268.4 401.8,270.6 402.0,276.0 402.2,265.5 402.4,268.4 402.6,271.3 402.8,272.2 403.0,286.1 403.2,267.3 403.4,279.8 403.6,279.4 403.8,273.5 404.0,273.1 404.2,264.8 404.4,265.7 404.6,275.3 404.8,274.2 405.0,269.5 405.2,283.5 405.4,273.2 405.6,272.6 405.8,270.5 406.0,282.6 406.2,277.3 406.4,275.0 406.6,261.6 406.8,289.6 407.0,260.7 407.2,275.8 407.4,262.2 407.6,259.5 407.8,250.2 408.0,272.9 408.2,274.2 408.4,268.2 408.6,267.3 408.8,260.3 409.0,270.8 409.2,268.7 409.4,259.3 409.6,267.0 409.8,268.1 410.0,261.9 410.2,281.8 410.4,260.5 410.6,291.2 410.8,282.3 411.0,267.0 411.2,287.6 411.4,282.1 411.6,283.4 411.8,272.9 412.0,263.1 412.2,255.5 412.4,273.8 412.6,270.2 412.8,266.2 413.0,292.9 413.2,276.0 413.4,259.5 413.6,270.2 413.8,276.2 414.0,261.3 414.2,273.4 414.4,268.4 414.6,259.7 414.8,275.3 415.0,277.9 415.2,253.0 415.4,275.6 415.6,266.6 415.8,268.6 416.0,258.6 416.2,263.4 416.4,289.7 416.6,278.3 416.8,270.2 417.0,272.4 417.2,264.7 417.4,270.6 417.6,264.5 417.8,274.0 418.0,262.5 418.2,273.5 418.4,279.2 418.6,268.9 418.8,273.5 419.0,274.3 419.2,267.2 419.4,260.5 419.6,282.3 419.8,272.6 420.0,269.2 420.2,284.3 420.4,265.0 420.6,267.5 420.8,265.9 421.0,263.4 421.2,270.7 421.4,266.5 421.6,286.0 421.8,266.4 422.0,284.3 422.2,264.5 422.4,269.2 422.6,272.4 422.8,264.8 423.0,278.5 423.2,267.1 423.4,266.5 423.6,278.7 423.8,265.9 424.0,278.1 424.2,282.6 424.4,279.8 424.6,286.3 424.8,268.7 425.0,284.6 425.2,267.7 425.4,259.4 425.6,270.7 425.8,292.5 426.0,264.0 426.2,290.5 426.4,261.0 426.6,281.0 426.8,276.9 427.0,268.4 427.2,255.7 427.4,278.7 427.6,278.4 427.8,277.0 428.0,281.8 428.2,265.6 428.4,293.2 428.6,281.1 428.8,265.9 429.0,295.4 429.2,272.6 429.4,276.8 429.6,280.6 429.8,265.3 430.0,265.1 430.2,271.1 430.4,263.2 430.6,270.7 430.8,286.3 431.0,263.3 431.2,273.3 431.4,267.7 431.6,280.6 431.8,263.0 432.0,263.5 432.2,271.0 432.5,293.4 432.7,264.5 432.9,259.1 433.1,264.1 433.3,278.9 433.5,281.1 433.7,271.7 433.9,274.5 434.1,261.2 434.3,275.8 434.5,270.8 434.7,266.9 434.9,281.8 435.1,282.3 435.3,268.1 435.5,274.2 435.7,257.7 435.9,263.6 436.1,285.0 436.3,263.1 436.5,264.5 436.7,283.0 436.9,255.5 437.1,266.4 437.3,279.2 437.5,268.3 437.7,264.9 437.9,263.7 438.1,274.0 438.3,264.4 438.5,274.9 438.7,270.9 438.9,272.3 439.1,283.0 439.3,268.3 439.5,264.6 439.7,272.3 439.9,274.8 440.1,270.8 440.3,259.4 440.5,278.8 440.7,259.1 440.9,257.7 441.1,281.6 441.3,287.7 441.5,270.1 441.7,265.8 441.9,286.4 442.1,262.1 442.3,272.5 442.5,267.9 442.7,278.4 442.9,275.7 443.1,266.4 443.3,283.7 443.5,280.0 443.7,273.0 443.9,270.5 444.1,272.4 444.3,262.9 444.5,271.0 444.7,270.9 444.9,278.3 445.1,271.4 445.3,269.6 445.5,275.5 445.7,282.5 445.9,278.6 446.1,272.2 446.3,269.5 446.5,286.8 446.7,273.4 446.9,263.5 447.1,275.3 447.3,259.7 447.5,268.8 447.7,279.5 447.9,271.9 448.1,270.5 448.3,280.4 448.5,284.9 448.7,265.5 448.9,264.2 449.1,267.4 449.3,264.2 449.5,277.9 449.7,280.5 449.9,272.6 450.1,264.8 450.3,261.1 450.5,272.0 450.7,266.8 450.9,277.6 451.1,263.2 451.3,268.7 451.5,270.0 451.7,283.4 451.9,280.9 452.1,277.9 452.3,275.4 452.5,279.9 452.7,259.7 452.9,282.2 453.1,271.4 453.3,288.5 453.5,282.4 453.7,285.6 453.9,268.0 454.1,305.9 454.3,279.3 454.5,276.6 454.7,269.0 454.9,277.3 455.1,258.2 455.3,287.5 455.5,278.7 455.7,273.7 455.9,287.8 456.1,279.2 456.3,278.5 456.5,269.8 456.7,277.4 456.9,264.7 457.1,265.1 457.3,275.7 457.5,269.1 457.7,263.5 457.9,272.7 458.1,260.1 458.3,290.3 458.5,266.8 458.7,266.9 458.9,290.1 459.1,262.4 459.3,257.8 459.5,274.3 459.7,271.9 459.9,284.2 460.1,273.7 460.3,261.5 460.5,275.3 460.7,272.0 460.9,286.6 461.1,277.1 461.3,266.5 461.5,268.5 461.7,274.5 461.9,270.7 462.1,276.3 462.3,276.9 462.5,264.8 462.7,276.5 462.9,282.3 463.1,264.6 463.3,262.9 463.5,281.8 463.7,279.7 463.9,283.6 464.1,292.8 464.3,273.5 464.5,265.9 464.7,276.7 464.9,268.9 465.1,278.2 465.3,281.8 465.5,275.7 465.7,280.1 465.9,274.9 466.1,277.3 466.3,265.3 466.5,292.2 466.7,269.0 466.9,271.1 467.1,268.7 467.3,272.5 467.5,270.9 467.7,259.5 467.9,290.6 468.1,278.3 468.3,272.3 468.5,274.5 468.7,284.9 468.9,282.9 469.1,277.6 469.3,283.5 469.5,256.2 469.7,283.0 469.9,272.7 470.1,268.2 470.3,266.1 470.5,275.3 470.7,261.1 470.9,277.6 471.1,268.0 471.3,281.5 471.5,260.8 471.7,278.1 471.9,270.6 472.1,264.8 472.3,286.7 472.5,285.2 472.7,266.6 472.9,271.7 473.1,289.0 473.3,275.2 473.5,268.9 473.7,266.4 473.9,267.7 474.1,279.7 474.3,283.1 474.5,270.9 474.7,265.6 474.9,267.4 475.1,260.3 475.3,278.2 475.5,273.8 475.7,284.4 475.9,297.8 476.1,287.2 476.3,270.4 476.5,271.0 476.7,263.4 476.9,258.4 477.1,293.1 477.3,276.1 477.5,261.8 477.7,280.2 477.9,258.1 478.1,271.7 478.3,274.5 478.5,268.0 478.7,269.0 478.9,280.9 479.1,269.0 479.3,284.6 479.5,259.9 479.7,269.9 479.9,290.8 480.1,265.1 480.3,265.2 480.5,273.6 480.7,269.5 480.9,275.6 481.1,283.1 481.3,278.7 481.5,275.3 481.7,270.1 481.9,275.4 482.1,282.3 482.3,266.2 482.5,269.9 482.7,264.5 482.9,273.5 483.1,275.0 483.3,269.0 483.5,264.7 483.7,267.3 483.9,279.9 484.1,268.9 484.3,281.8 484.5,268.6 484.7,267.5 484.9,281.3 485.1,267.2 485.3,285.0 485.5,257.8 485.7,274.0 485.9,269.4 486.1,270.6 486.3,276.4 486.5,259.1 486.7,296.5 486.9,270.2 487.1,300.7 487.3,282.1 487.5,276.1 487.7,262.0 487.9,292.0 488.1,280.5 488.3,286.2 488.5,262.0 488.7,260.6 488.9,270.9 489.1,279.3 489.3,282.0 489.5,286.5 489.7,266.9 489.9,263.5 490.1,281.5 490.3,266.0 490.5,273.9 490.7,296.3 490.9,270.7 491.1,278.0 491.3,276.9 491.5,274.5 491.7,278.1 491.9,279.3 492.1,275.1 492.3,290.2 492.5,283.9 492.7,266.2 492.9,289.5 493.1,276.0 493.3,273.3 493.5,268.1 493.7,282.3 493.9,274.4 494.1,268.0 494.3,267.7 494.5,286.2 494.7,271.9 494.9,271.3 495.1,302.6 495.3,278.1 495.5,281.2 495.7,276.2 495.9,274.7 496.1,266.9 496.3,281.9 496.5,277.7 496.7,268.1 496.9,274.2 497.1,293.5 497.3,277.8 497.5,275.6 497.7,269.7 497.9,270.2 498.1,280.3 498.3,283.6 498.5,277.1 498.7,284.2 498.9,268.2 499.1,271.7 499.3,278.5 499.5,286.8 499.7,271.2 499.9,284.6 500.1,266.4 500.3,286.3 500.5,288.3 500.7,272.5 500.9,278.6 501.1,282.6 501.3,269.6 501.5,271.9 501.7,271.7 501.9,280.7 502.1,284.5 502.3,267.9 502.5,269.3 502.7,281.7 502.9,270.1 503.1,273.9 503.3,283.6 503.5,276.1 503.7,286.0 503.9,276.6 504.1,274.7 504.3,269.5 504.5,259.2 504.7,272.4 504.9,261.6 505.1,283.5 505.3,283.1 505.5,280.1 505.7,287.0 505.9,298.4 506.1,262.2 506.3,274.6 506.5,283.8 506.7,273.8 506.9,274.9 507.1,286.7 507.3,280.9 507.5,264.8 507.7,290.8 507.9,269.0 508.1,278.0 508.3,281.4 508.5,262.8 508.7,293.7" stroke="#005e5e" />
<polyline points="50.6,337.6 50.8,334.2 51.0,339.0 51.2,327.4 51.4,338.0 51.6,337.3 51.8,310.0 52.0,317.9 52.2,341.0 52.4,319.3 52.6,336.1 52.8,327.9 53.0,338.2 53.2,313.1 53.4,331.2 53.6,329.9 53.8,333.0 54.0,332.4 54.2,330.7 54.4,334.0 54.6,335.3 54.8,323.9 55.0,347.4 55.2,330.0 55.4,323.4 55.6,337.5 55.8,315.7 56.0,342.5 56.2,326.0 56.4,330.3 56.6,330.0 56.8,335.0 57.0,322.9 57.2,324.5 57.4,333.3 57.6,322.9 57.8,328.7 58.0,327.7 58.2,325.3 58.4,321.9 58.6,320.6 58.8,324.5 59.0,317.1 59.2,317.8 59.4,364.2 59.6,329.3 59.8,339.7 60.0,332.2 60.2,337.4 60.4,330.6 60.6,340.8 60.8,331.4 61.0,332.4 61.2,317.4 61.4,340.6 61.6,327.2 61.8,329.0 62.0,333.9 62.2,332.1 62.4,329.2 62.6,344.2 62.8,320.8 63.0,311.3 63.2,326.1 63.4,309.7 63.6,327.5 63.8,344.4 64.0,348.0 64.2,318.9 64.4,333.8 64.6,317.8 64.8,333.2 65.0,345.9 65.2,323.3 65.4,348.1 65.6,332.7 65.8,364.1 66.0,323.7 66.2,321.0 66.4,345.7 66.6,340.6 66.8,336.9 67.0,322.3 67.2,331.9 67.4,324.9 67.6,349.2 67.8,337.6 68.0,323.6 68.2,322.1 68.4,316.5 68.6,324.4 68.8,330.4 69.0,335.4 69.2,343.5 69.4,325.7 69.6,345.9 69.8,312.2 70.0,329.8 70.2,338.3 70.4,325.5 70.6,333.6 70.8,340.5 71.0,325.1 71.2,333.2 71.4,344.2 71.6,319.1 71.8,344.4 72.0,329.7 72.2,316.8 72.4,335.3 72.6,338.9 72.8,329.2 73.0,335.1 73.2,336.8 73.4,332.0 73.6,332.8 73.8,341.2 74.0,340.4 74.2,331.3 74.4,313.9 74.6,318.6 74.8,327.3 75.0,345.2 75.2,337.2 75.4,353.8 75.6,336.8 75.8,336.3 76.0,328.0 76.2,346.3 76.4,318.0 76.6,335.4 76.8,329.9 77.0,325.9 77.2,342.8 77.4,339.4 77.6,336.1 77.8,328.1 78.0,317.2 78.2,318.2 78.4,308.9 78.6,318.1 78.8,334.9 79.0,348.6 79.2,320.1 79.4,346.4 79.6,355.5 79.8,344.7 80.0,352.9 80.2,331.2 80.4,326.2 80.6,334.7 80.8,343.2 81.0,337.0 81.2,333.8 81.4,341.3 81.6,322.6 81.8,341.1 82.0,313.0 82.2,349.7 82.4,349.3 82.6,363.0 82.8,322.5 83.0,325.8 83.2,321.2 83.4,317.4 83.6,310.4 83.8,341.2 84.0,329.4 84.2,330.3 84.4,314.5 84.6,333.5 84.8,358.2 85.0,333.6 85.2,341.9 85.4,319.9 85.6,345.0 85.8,331.5 86.0,333.2 86.2,336.1 86.4,329.1 86.6,340.0 86.8,330.7 87.0,327.2 87.2,320.7 87.4,320.0 87.6,342.3 87.8,345.2 88.0,330.8 88.2,329.8 88.4,325.8 88.6,334.1 88.8,349.5 89.0,335.1 89.2,326.2 89.4,345.0 89.6,341.2 89.8,314.7 90.0,327.0 90.2,347.6 90.4,336.7 90.6,331.5 90.8,337.1 91.0,320.1 91.2,320.2 91.4,330.9 91.6,333.6 91.8,353.0 92.0,331.1 92.2,335.8 92.4,352.0 92.6,325.9 92.8,329.3 93.0,332.7 93.2,335.5 93.4,334.2 93.6,340.7 93.8,319.9 94.0,318.8 94.2,331.2 94.4,316.0 94.6,352.4 94.8,323.7 95.0,325.9 95.2,339.1 95.4,335.7 95.6,338.7 95.8,331.6 96.0,318.5 96.2,330.0 96.4,324.7 96.6,315.2 96.8,328.4 97.0,343.2 97.2,321.9 97.4,323.7 97.6,323.5 97.8,340.4 98.0,312.1 98.2,336.8 98.4,332.5 98.6,330.2 98.8,321.6 99.0,328.4 99.2,356.2 99.4,333.7 99.6,326.9 99.8,341.1 100.0,318.6 100.2,344.9 100.4,330.0 100.6,365.0 100.8,360.5 101.0,338.2 101.2,336.3 101.4,326.9 101.6,338.0" stroke="#d80c0c" />
<polyline points="101.8,137.3 102.0,129.0 102.2,128.6 102.4,136.4 102.6,131.8 102.8,134.7 103.0,134.7 103.2,136.3 103.4,135.9 103.6,141.0 103.8,146.4 104.0,148.8 104.2,140.7 104.4,144.0 104.6,145.2 104.8,140.4 105.0,141.5 105.2,148.3 105.4,152.3 105.6,155.2 105.8,150.0 106.0,157.1 106.2,154.3 106.4,153.7 106.6,161.4 106.8,150.6 107.0,149.5 107.2,169.5 107.4,159.7 107.6,164.7 107.8,161.1 108.0,159.4 108.2,158.3 108.4,156.8 108.6,166.0 108.8,161.2 109.0,166.1 109.2,168.9 109.4,168.1 109.6,169.7 109.8,178.3 110.0,172.3 110.2,172.6 110.4,171.1 110.6,180.5 110.8,180.1 111.0,170.8 111.2,176.1 111.4,174.0 111.6,173.1 111.8,171.5 112.0,186.7 112.2,179.8 112.4,168.4 112.6,183.8 112.8,188.8 113.0,179.6 113.2,179.2 113.4,180.9 113.6,185.8 113.8,178.4 114.0,183.9 114.2,175.3 114.4,189.5 114.6,177.9 114.8,181.9 115.0,186.6 115.2,190.7 115.4,181.8 115.6,182.5 115.8,195.5 116.0,183.8 116.2,183.4 116.4,185.4 116.6,192.5 116.8,193.2 117.0,195.6 117.2,192.6 117.4,188.6 117.6,193.9 117.8,196.3 118.0,186.6 118.2,189.7 118.4,193.3 118.6,204.3 118.8,192.9 119.0,195.4 119.2,195.9 119.4,198.3 119.6,200.5 119.8,192.0 120.0,185.3 120.2,203.0 120.4,188.9 120.6,200.9 120.8,201.9 121.0,204.1 121.2,194.6 121.4,202.4 121.6,204.8 121.8,205.3 122.0,209.3 122.2,196.4 122.4,199.1 122.6,200.8 122.8,202.4 123.0,209.4 123.2,208.5 123.4,204.2 123.6,215.6 123.8,208.0 124.0,198.4 124.2,213.3 124.4,198.3 124.6,198.8 124.8,203.4 125.0,203.4 125.2,205.8 125.4,206.8 125.6,202.6 125.8,203.2 126.0,211.9 126.2,209.8 126.4,206.9 126.6,204.0 126.8,209.1 127.1,203.7 127.3,202.5 127.5,216.4 127.7,214.6 127.9,208.5 128.1,221.8 128.3,210.6 128.5,215.7 128.7,215.0 128.9,212.9 129.1,213.3 129.3,223.4 129.5,219.2 129.7,203.8 129.9,217.7 130.1,202.9 130.3,208.6 130.5,217.7 130.7,208.9 130.9,223.8 131.1,213.3 131.3,219.6 131.5,217.8 131.7,221.4 131.9,225.4 132.1,208.4 132.3,216.4 132.5,218.2 132.7,224.2 132.9,220.9 133.1,215.8 133.3,210.0 133.5,209.1 133.7,212.7 133.9,219.4 134.1,219.5 134.3,228.8 134.5,220.8 134.7,224.3 134.9,211.4 135.1,221.0 135.3,216.6 135.5,216.2 135.7,228.7 135.9,220.1 136.1,219.9 136.3,220.6 136.5,213.1 136.7,211.9 136.9,235.2 137.1,221.7 137.3,221.5 137.5,223.2 137.7,219.1 137.9,220.4 138.1,217.1 138.3,224.7 138.5,221.7 138.7,230.2 138.9,234.4 139.1,217.0 139.3,228.2 139.5,221.1 139.7,240.4 139.9,225.5 140.1,231.2 140.3,221.4 140.5,233.7 140.7,220.4 140.9,217.8 141.1,212.5 141.3,225.3 141.5,223.4 141.7,227.4 141.9,220.9 142.1,226.6 142.3,226.9 142.5,220.8 142.7,242.3 142.9,245.3 143.1,230.2 143.3,232.4 143.5,233.6 143.7,234.4 143.9,224.6 144.1,231.8 144.3,244.0 144.5,229.4 144.7,229.1 144.9,225.4 145.1,228.7 145.3,219.5 145.5,231.7 145.7,240.3 145.9,234.9 146.1,234.1 146.3,233.7 146.5,234.0 146.7,227.2 146.9,223.1 147.1,249.1 147.3,238.4 147.5,222.5 147.7,248.0 147.9,232.8 148.1,243.2 148.3,235.4 148.5,232.2 148.7,243.1 148.9,234.7 149.1,223.5 149.3,241.8 149.5,237.4 149.7,237.8 149.9,236.3 150.1,241.9 150.3,251.1 150.5,247.1 150.7,242.0 150.9,240.7 151.1,235.4 151.3,255.2 151.5,229.2 151.7,234.6 151.9,240.3 152.1,242.8 152.3,244.1 152.5,239.6 152.7,258.5 152.9,252.9 153.1,231.7 153.3,237.0 153.5,234.7 153.7,255.2 153.9,240.8 154.1,234.0 154.3,242.1 154.5,235.8 154.7,244.8 154.9,249.9 155.1,237.1 155.3,246.6 155.5,247.4 155.7,240.2 155.9,249.1 156.1,240.9 156.3,250.8 156.5,244.8 156.7,242.8 156.9,257.8 157.1,254.2 157.3,244.3 157.5,229.1 157.7,248.7 157.9,243.3 158.1,250.0 158.3,247.1 158.5,245.1 158.7,244.8 158.9,259.0 159.1,260.0 159.3,258.4 159.5,240.1 159.7,245.2 159.9,249.3 160.1,236.0 160.3,256.8 160.5,240.9 160.7,256.4 160.9,244.6 161.1,251.8 161.3,237.7 161.5,233.9 161.7,243.7 161.9,239.9 162.1,240.3 162.3,245.7 162.5,251.4 162.7,255.7 162.9,243.0 163.1,239.8 163.3,248.7 163.5,242.2 163.7,241.5 163.9,246.4 164.1,258.7 164.3,251.9 164.5,237.1 164.7,266.8 164.9,241.4 165.1,251.4 165.3,244.8 165.5,258.2 165.7,253.8 165.9,260.5 166.1,252.7 166.3,250.0 166.5,261.1 166.7,239.3 166.9,242.9 167.1,242.0 167.3,250.4 167.5,248.3 167.7,246.0 167.9,257.7 168.1,256.3 168.3,248.9 168.5,243.1 168.7,271.6 168.9,255.3 169.1,248.8 169.3,254.3 169.5,256.0 169.7,248.8 169.9,259.7 170.1,254.8 170.3,250.4 170.5,263.5 170.7,251.1 170.9,265.4 171.1,255.7 171.3,252.9 171.5,264.8 171.7,252.3 171.9,259.6 172.1,266.8 172.3,252.7 172.5,251.2 172.7,262.1 172.9,264.2 173.1,242.1 173.3,260.3 173.5,265.9 173.7,252.4 173.9,265.0 174.1,254.3 174.3,252.1 174.5,254.6 174.7,263.2 174.9,254.5 175.1,253.3 175.3,257.8 175.5,264.3 175.7,244.5 175.9,267.2 176.1,270.3 176.3,250.6 176.5,257.6 176.7,261.9 176.9,259.2 177.1,275.4 177.3,259.7 177.5,254.6 177.7,255.8 177.9,261.7 178.1,253.6 178.3,254.7 178.5,255.4 178.7,274.5 178.9,264.9 179.1,251.4 179.3,264.0 179.5,243.6 179.7,260.2 179.9,265.5 180.1,263.4 180.3,265.2 180.5,262.6 180.7,256.0 180.9,259.5 181.1,259.4 181.3,251.1 181.5,262.1 181.7,254.5 181.9,267.3 182.1,283.6 182.3,282.4 182.5,288.1 182.7,259.5 182.9,259.3 183.1,268.4 183.3,256.3 183.5,268.6 183.7,258.9 183.9,266.1 184.1,260.5 184.3,278.1 184.5,274.1 184.7,271.0 184.9,255.0 185.1,275.2 185.3,261.2 185.5,254.7 185.7,267.3 185.9,274.1 186.1,254.1 186.3,271.7 186.5,263.2 186.7,263.6 186.9,269.5 187.1,262.7 187.3,260.2 187.5,275.2 187.7,249.3 187.9,274.6 188.1,256.3 188.3,276.9 188.5,257.1 188.7,278.6 188.9,253.9 189.1,283.2 189.3,267.7 189.5,264.8 189.7,264.1 189.9,275.9 190.1,265.4 190.3,272.3 190.5,268.3 190.7,258.8 190.9,283.1 191.1,266.0 191.3,269.9 191.5,269.7 191.7,267.8 191.9,283.8 192.1,271.1 192.3,265.6 192.5,268.6 192.7,265.4 192.9,259.6 193.1,278.3 193.3,260.7 193.5,279.6 193.7,269.2 193.9,275.9 194.1,268.4 194.3,266.2 194.5,291.6 194.7,265.8 194.9,261.7 195.1,272.8 195.3,282.1 195.5,259.6 195.7,265.0 195.9,277.1 196.1,277.9 196.3,274.5 196.5,266.2 196.7,271.6 196.9,264.3 197.1,273.9 197.3,270.1 197.5,272.5 197.7,268.4 197.9,276.5 198.1,270.8 198.3,264.5 198.5,283.7 198.7,272.6 198.9,268.4 199.1,269.3 199.3,284.8 199.5,271.6 199.7,273.5 199.9,264.6 200.1,268.2 200.3,266.4 200.5,264.5 200.7,263.0 200.9,268.4 201.1,261.5 201.3,276.7 201.5,278.1 201.7,264.4 201.9,274.8 202.1,265.8 202.3,274.0 202.5,275.1 202.7,259.4 202.9,255.0 203.1,275.5 203.3,275.6 203.5,271.2 203.7,267.1 203.9,266.0 204.1,254.7 204.3,284.3 204.5,256.5 204.7,273.4 204.9,269.9 205.1,274.2 205.3,262.6 205.5,265.3 205.7,275.5 205.9,263.5 206.1,272.5 206.3,262.3 206.5,273.4 206.7,276.0 206.9,272.4 207.1,276.8 207.3,263.7 207.5,268.2 207.7,269.6 207.9,285.2 208.1,268.1 208.3,272.6 208.5,283.2 208.7,274.2 208.9,280.5 209.1,264.9 209.3,281.4 209.5,272.9 209.7,277.2 209.9,278.9 210.1,260.0 210.3,283.0 210.5,269.9 210.7,283.4 210.9,271.1 211.1,275.1 211.3,262.4 211.5,265.0 211.7,282.6 211.9,267.2 212.1,275.6 212.3,273.1 212.5,265.4 212.7,271.9 212.9,272.5 213.1,278.9 213.3,270.7 213.5,269.2 213.7,286.6 213.9,287.1 214.1,274.9 214.3,266.8 214.5,277.9 214.7,270.5 214.9,287.4 215.1,274.4 215.3,269.8 215.5,272.3 215.7,267.8 215.9,274.4 216.1,265.6 216.3,276.8 216.5,282.2 216.7,279.2 216.9,268.2 217.1,278.5 217.3,272.0 217.5,264.9 217.7,274.5 217.9,282.8 218.1,277.1 218.3,272.7 218.5,270.4 218.7,275.0 218.9,279.4 219.1,276.9 219.3,285.9 219.5,282.7 219.7,284.5 219.9,273.6 220.1,279.7 220.3,276.4 220.5,279.5 220.7,278.8 220.9,300.2 221.1,268.0 221.3,279.7 221.5,272.9 221.7,280.2 221.9,279.0 222.1,291.0 222.3,275.9 222.5,271.9 222.7,280.0 222.9,279.6 223.1,262.8 223.3,295.2 223.5,270.6 223.7,291.8 223.9,288.8 224.1,290.4 224.3,279.6 224.5,271.7 224.7,272.2 224.9,289.5 225.1,274.6 225.3,281.8 225.5,275.5 225.7,274.0 225.9,287.0 226.1,271.5 226.3,277.1 226.5,276.5 226.7,280.1 226.9,278.0 227.1,271.2 227.3,275.7 227.5,276.4 227.7,298.0 227.9,286.1 228.1,278.5 228.3,280.8 228.5,277.2 228.7,295.1 228.9,278.1 229.1,272.1 229.3,323.6 229.5,273.5 229.7,275.2 229.9,272.3 230.1,283.5 230.3,274.5 230.5,273.9 230.7,288.9 230.9,293.5 231.1,282.9 231.3,272.1 231.5,284.7 231.7,275.4 231.9,283.0 232.1,283.1 232.3,271.7 232.5,288.6 232.7,280.7 232.9,280.3 233.1,272.6 233.3,289.4 233.5,275.4 233.7,281.8 233.9,273.2 234.1,271.7 234.3,271.7 234.5,269.2 234.7,277.9 234.9,293.5 235.1,291.1 235.3,274.5 235.5,275.1 235.7,295.9 235.9,288.5 236.1,281.7 236.3,278.5 236.5,278.4 236.7,265.6 236.9,276.6 237.1,302.2 237.3,296.8 237.5,279.6 237.7,289.0 237.9,287.1 238.1,277.4 238.3,275.0 238.5,277.4 238.7,283.6 238.9,294.4 239.1,284.3 239.3,282.3 239.5,280.2 239.7,294.0 239.9,298.1 240.1,284.6 240.3,280.6 240.5,285.3 240.7,287.8 240.9,293.7 241.1,291.6 241.3,276.7 241.5,282.0 241.7,279.6 241.9,288.7 242.1,274.5 242.3,270.1 242.5,283.7 242.7,279.1 242.9,279.6 243.1,282.2 243.3,276.1 243.5,283.9 243.7,274.6 243.9,274.4 244.1,288.1 244.3,280.8 244.5,293.7 244.7,286.0 244.9,277.9 245.1,279.2 245.3,275.7 245.5,283.6 245.7,288.4 245.9,283.7 246.1,285.6 246.3,276.4 246.5,295.3 246.7,289.0 246.9,292.9 247.1,275.3 247.3,282.3 247.5,278.2 247.7,298.9 247.9,282.6 248.1,306.5 248.3,288.2 248.5,279.7 248.7,295.7 248.9,301.0 249.1,283.1 249.3,280.0 249.5,284.2 249.7,275.7 249.9,276.6 250.1,269.7 250.3,280.1 250.5,275.1 250.7,286.2 250.9,287.3 251.1,294.2 251.3,287.2 251.5,283.2 251.7,296.9 251.9,279.6 252.1,270.3 252.3,275.0 252.5,281.8 252.7,290.1 252.9,294.4 253.1,277.6 253.3,295.2 253.5,288.8 253.7,291.2 253.9,277.8 254.1,283.7 254.3,270.8 254.5,286.5 254.7,282.7 254.9,292.0 255.1,296.1 255.3,278.9 255.5,294.2 255.7,295.9 255.9,283.9 256.1,304.3 256.3,280.1 256.5,275.6 256.7,286.6 256.9,303.0 257.1,291.2 257.3,274.0 257.5,282.5 257.7,298.1 257.9,281.0 258.1,285.6 258.3,278.9 258.5,306.2 258.7,303.4 258.9,277.3 259.1,274.0 259.3,292.2 259.5,291.2 259.7,287.5 259.9,288.5 260.1,285.1 260.3,296.1 260.5,295.6 260.7,299.9 260.9,295.9 261.1,283.3 261.3,284.3 261.5,285.6 261.7,288.9 261.9,282.4 262.1,281.4 262.3,286.0 262.5,284.3 262.7,287.0 262.9,303.6 263.1,300.6 263.3,284.0 263.5,289.0 263.7,285.7 263.9,281.3 264.1,292.9 264.3,273.9 264.5,289.8 264.7,285.3 264.9,278.3 265.1,292.0 265.3,296.5 265.5,289.8 265.7,291.4 265.9,280.7 266.1,291.5 266.3,301.7 266.5,279.1 266.7,309.7 266.9,274.9 267.1,295.9 267.3,283.0 267.5,289.7 267.7,287.7 267.9,288.0 268.1,297.1 268.3,285.6 268.5,289.8 268.7,298.9 268.9,287.0 269.1,273.0 269.3,283.7 269.5,283.5 269.7,281.2 269.9,293.9 270.1,289.1 270.3,282.0 270.5,283.7 270.7,277.5 270.9,284.0 271.1,306.9 271.3,275.9 271.5,307.2 271.7,288.1 271.9,286.8 272.1,284.0 272.3,279.0 272.5,294.2 272.7,285.9 272.9,283.2 273.1,288.1 273.3,303.5 273.5,284.9 273.7,287.4 273.9,301.5 274.1,280.7 274.3,296.6 274.5,313.8 274.7,288.8 274.9,276.6 275.1,297.8 275.3,286.4 275.5,301.6 275.7,293.8 275.9,291.7 276.1,282.2 276.3,300.4 276.5,293.5 276.7,293.5 276.9,293.7 277.1,293.7 277.3,291.6 277.5,289.2 277.7,277.5 277.9,285.2 278.1,287.0 278.3,300.4 278.5,300.1 278.7,282.3 278.9,286.0 279.1,285.2 279.3,293.1 279.5,292.9 279.8,295.9 280.0,285.0 280.2,287.7 280.4,311.7 280.6,281.6 280.8,305.0 281.0,298.1 281.2,299.8 281.4,292.1 281.6,291.2 281.8,298.4 282.0,289.9 282.2,290.9 282.4,289.0 282.6,295.1 282.8,290.6 283.0,288.8 283.2,297.0 283.4,293.3 283.6,281.3 283.8,291.1 284.0,305.1 284.2,295.3 284.4,306.7 284.6,278.8 284.8,295.1 285.0,277.2 285.2,297.3 285.4,286.3 285.6,290.3 285.8,295.8 286.0,284.9 286.2,286.0 286.4,288.5 286.6,298.6 286.8,304.9 287.0,285.5 287.2,284.3 287.4,292.2 287.6,282.3 287.8,281.1 288.0,296.4 288.2,287.5 288.4,307.0 288.6,284.4 288.8,306.4 289.0,303.6 289.2,289.3 289.4,293.9 289.6,273.5 289.8,294.4 290.0,292.6 290.2,285.5 290.4,305.3 290.6,275.2 290.8,298.7 291.0,292.8 291.2,294.1 291.4,280.7 291.6,298.2 291.8,288.0 292.0,293.8 292.2,301.0 292.4,285.4 292.6,273.2 292.8,295.6 293.0,294.7 293.2,290.6 293.4,287.3 293.6,285.3 293.8,294.0 294.0,298.4 294.2,289.3 294.4,305.8 294.6,291.3 294.8,299.5 295.0,292.1 295.2,293.6 295.4,303.2 295.6,300.2 295.8,305.7 296.0,305.1 296.2,294.7 296.4,301.5 296.6,299.2 296.8,299.0 297.0,302.3 297.2,295.6 297.4,296.2 297.6,299.6 297.8,286.9 298.0,302.9 298.2,304.5 298.4,279.3 298.6,302.1 298.8,288.9 299.0,288.0 299.2,301.1 299.4,287.3 299.6,296.9 299.8,289.3 300.0,284.9 300.2,313.1 300.4,288.3 300.6,285.0 300.8,291.7 301.0,313.3 301.2,282.2 301.4,305.9 301.6,288.7 301.8,297.0 302.0,294.4 302.2,305.1 302.4,288.6 302.6,314.5 302.8,291.8 303.0,283.9 303.2,297.0 303.4,303.0 303.6,301.8 303.8,304.7 304.0,293.6 304.2,310.1 304.4,303.9 304.6,287.9 304.8,292.2 305.0,289.5 305.2,293.3 305.4,297.9 305.6,291.9 305.8,294.4 306.0,303.1 306.2,304.2 306.4,310.7 306.6,274.4 306.8,290.6 307.0,290.1 307.2,291.5 307.4,288.6 307.6,288.4 307.8,303.3 308.0,309.2 308.2,287.3 308.4,303.5 308.6,279.8 308.8,301.6 309.0,313.8 309.2,305.8 309.4,289.5 309.6,289.2 309.8,293.9 310.0,309.5 310.2,300.0 310.4,298.6 310.6,301.6 310.8,287.7 311.0,280.2 311.2,291.6 311.4,292.3 311.6,299.4 311.8,297.2 312.0,333.4 312.2,292.9 312.4,291.9 312.6,311.2 312.8,297.4 313.0,317.6 313.2,317.3 313.4,305.5 313.6,304.7 313.8,284.7 314.0,310.8 314.2,299.4 314.4,303.7 314.6,307.4 314.8,299.0 315.0,289.5 315.2,293.2 315.4,289.2 315.6,307.2 315.8,297.6 316.0,298.5 316.2,293.6 316.4,296.7 316.6,288.1 316.8,299.0 317.0,288.7 317.2,300.5 317.4,295.6 317.6,302.2 317.8,308.9 318.0,302.5 318.2,299.5 318.4,306.6 318.6,293.3 318.8,297.8 319.0,302.3 319.2,286.6 319.4,292.5 319.6,320.8 319.8,300.6 320.0,300.4 320.2,304.3 320.4,297.1 320.6,294.8 320.8,296.0 321.0,309.3 321.2,315.9 321.4,293.9 321.6,297.7 321.8,303.2 322.0,289.2 322.2,299.6 322.4,309.7 322.6,310.6 322.8,326.0 323.0,296.2 323.2,299.4 323.4,308.2 323.6,302.4 323.8,311.1 324.0,299.7 324.2,285.4 324.4,292.3 324.6,285.6 324.8,300.9 325.0,312.5 325.2,305.0 325.4,295.1 325.6,283.5 325.8,299.2 326.0,293.3 326.2,293.5 326.4,299.3 326.6,325.2 326.8,295.3 327.0,292.6 327.2,287.1 327.4,308.3 327.6,290.8 327.8,284.0 328.0,294.5 328.2,301.6 328.4,288.4 328.6,298.2 328.8,285.4 329.0,311.3 329.2,288.7 329.4,298.2 329.6,290.5 329.8,293.8 330.0,301.7 330.2,293.5 330.4,297.8 330.6,310.9 330.8,327.5 331.0,307.2 331.2,299.3 331.4,301.2 331.6,288.5 331.8,289.8 332.0,289.7 332.2,303.1 332.4,298.0 332.6,295.9 332.8,325.2 333.0,299.0 333.2,307.4 333.4,303.6 333.6,299.6 333.8,304.0 334.0,286.8 334.2,300.2 334.4,309.6 334.6,316.9 334.8,297.4 335.0,314.0 335.2,307.6 335.4,296.1 335.6,286.4 335.8,302.4 336.0,293.8 336.2,311.5 336.4,303.4 336.6,287.4 336.8,295.5 337.0,303.3 337.2,313.0 337.4,280.5 337.6,304.6 337.8,288.7 338.0,297.5 338.2,292.0 338.4,309.0 338.6,302.9 338.8,318.6 339.0,313.0 339.2,293.3 339.4,282.6 339.6,297.5 339.8,294.8 340.0,300.8 340.2,293.3 340.4,294.0 340.6,307.4 340.8,302.2 341.0,293.7 341.2,303.9 341.4,292.1 341.6,300.1 341.8,309.5 342.0,295.5 342.2,288.6 342.4,301.3 342.6,296.3 342.8,318.9 343.0,298.8 343.2,294.2 343.4,289.7 343.6,282.4 343.8,292.5 344.0,300.3 344.2,291.8 344.4,304.7 344.6,308.9 344.8,306.7 345.0,294.0 345.2,293.0 345.4,308.3 345.6,294.1 345.8,294.4 346.0,295.0 346.2,313.9 346.4,285.0 346.6,311.5 346.8,309.1 347.0,316.9 347.2,304.7 347.4,325.1 347.6,307.8 347.8,292.6 348.0,288.3 348.2,300.6 348.4,304.8 348.6,303.2 348.8,310.5 349.0,312.0 349.2,281.7 349.4,300.1 349.6,300.2 349.8,306.1 350.0,293.3 350.2,312.3 350.4,301.0 350.6,314.2 350.8,294.7 351.0,299.3 351.2,289.3 351.4,292.2 351.6,297.6 351.8,295.5 352.0,303.5 352.2,304.8 352.4,300.5 352.6,300.6 352.8,291.0 353.0,296.6 353.2,298.4 353.4,294.1 353.6,308.1 353.8,306.0 354.0,293.4 354.2,296.4 354.4,299.8 354.6,301.3 354.8,316.0 355.0,298.5 355.2,295.0 355.4,303.8 355.6,306.6 355.8,312.7 356.0,291.9 356.2,297.9 356.4,302.3 356.6,301.9 356.8,287.7 357.0,304.1 357.2,315.3 357.4,306.3 357.6,299.0 357.8,291.5 358.0,291.9 358.2,300.0 358.4,293.8 358.6,293.8 358.8,287.1 359.0,304.6 359.2,308.7 359.4,299.7 359.6,306.2 359.8,301.5 360.0,317.6 360.2,299.5 360.4,300.2 360.6,290.4 360.8,299.9 361.0,296.8 361.2,296.1 361.4,316.1 361.6,308.1 361.8,310.8 362.0,303.5 362.2,292.7 362.4,301.0 362.6,311.0 362.8,293.4 363.0,299.1 363.2,300.6 363.4,311.1 363.6,301.2 363.8,308.1 364.0,307.3 364.2,298.5 364.4,303.0 364.6,290.5 364.8,296.8 365.0,306.6 365.2,305.2 365.4,304.8 365.6,301.8 365.8,309.9 366.0,307.9 366.2,302.4 366.4,288.6 366.6,337.1 366.8,327.5 367.0,294.7 367.2,318.1 367.4,299.8 367.6,314.6 367.8,294.6 368.0,302.0 368.2,298.0 368.4,309.7 368.6,311.5 368.8,303.5 369.0,284.6 369.2,303.1 369.4,293.1 369.6,319.1 369.8,297.8 370.0,285.5 370.2,301.2 370.4,291.2 370.6,307.0 370.8,291.7 371.0,306.4 371.2,288.9 371.4,314.6 371.6,302.0 371.8,309.7 372.0,300.3 372.2,325.0 372.4,300.4 372.6,308.9 372.8,301.3 373.0,315.1 373.2,290.2 373.4,289.2 373.6,307.4 373.8,295.7 374.0,293.6 374.2,306.8 374.4,302.0 374.6,283.3 374.8,303.1 375.0,297.2 375.2,292.9 375.4,309.6 375.6,307.8 375.8,316.7 376.0,297.3 376.2,293.9 376.4,331.6 376.6,310.8 376.8,309.3 377.0,294.4 377.2,298.1 377.4,310.1 377.6,280.7 377.8,291.1 378.0,304.8 378.2,286.8 378.4,309.0 378.6,299.8 378.8,288.0 379.0,301.7 379.2,302.1 379.4,300.9 379.6,307.5 379.8,288.8 380.0,296.9 380.2,306.6 380.4,304.2 380.6,303.9 380.8,334.7 381.0,298.0 381.2,296.5 381.4,308.2 381.6,300.0 381.8,311.4 382.0,300.3 382.2,321.1 382.4,296.2 382.6,299.8 382.8,311.3 383.0,303.0 383.2,311.8 383.4,310.3 383.6,311.6 383.8,291.9 384.0,311.9 384.2,303.5 384.4,306.1 384.6,295.4 384.8,308.2 385.0,311.7 385.2,307.0 385.4,308.6 385.6,305.1 385.8,301.6 386.0,308.5 386.2,301.9 386.4,302.4 386.6,308.3 386.8,313.9 387.0,322.9 387.2,315.8 387.4,304.7 387.6,296.7 387.8,307.2 388.0,295.0 388.2,295.0 388.4,288.3 388.6,317.1 388.8,316.0 389.0,294.5 389.2,305.2 389.4,307.7 389.6,320.8 389.8,319.6 390.0,296.1 390.2,307.4 390.4,290.8 390.6,303.1 390.8,304.6 391.0,301.5 391.2,294.2 391.4,300.9 391.6,328.4 391.8,298.4 392.0,304.3 392.2,314.1 392.4,312.9 392.6,300.8 392.8,320.0 393.0,319.8 393.2,306.5 393.4,307.5 393.6,303.5 393.8,310.1 394.0,307.5 394.2,316.7 394.4,290.3 394.6,314.4 394.8,303.4 395.0,320.3 395.2,317.3 395.4,303.2 395.6,304.5 395.8,300.2 396.0,295.6 396.2,302.7 396.4,312.8 396.6,302.3 396.8,293.0 397.0,304.2 397.2,294.9 397.4,304.8 397.6,311.2 397.8,314.0 398.0,316.4 398.2,296.9 398.4,284.5 398.6,303.9 398.8,302.0 399.0,311.8 399.2,311.1 399.4,301.5 399.6,304.7 399.8,313.0 400.0,298.0 400.2,286.8 400.4,307.4 400.6,305.5 400.8,299.3 401.0,317.6 401.2,302.8 401.4,297.4 401.6,306.3 401.8,323.3 402.0,294.5 402.2,312.7 402.4,293.0 402.6,311.2 402.8,299.6 403.0,300.2 403.2,311.1 403.4,333.1 403.6,289.6 403.8,301.9 404.0,296.8 404.2,316.4 404.4,304.8 404.6,296.2 404.8,312.9 405.0,310.7 405.2,303.0 405.4,312.4 405.6,307.5 405.8,313.9 406.0,294.6 406.2,310.6 406.4,313.8 406.6,296.4 406.8,347.9 407.0,320.9 407.2,306.9 407.4,299.2 407.6,302.1 407.8,304.1 408.0,309.0 408.2,293.0 408.4,294.5 408.6,318.3 408.8,292.9 409.0,326.9 409.2,303.1 409.4,292.1 409.6,296.5 409.8,322.9 410.0,306.7 410.2,295.3 410.4,318.0 410.6,309.6 410.8,298.7 411.0,294.6 411.2,291.4 411.4,304.9 411.6,309.7 411.8,321.0 412.0,321.5 412.2,315.2 412.4,292.2 412.6,299.4 412.8,310.2 413.0,302.4 413.2,306.0 413.4,300.8 413.6,304.9 413.8,315.6 414.0,310.2 414.2,292.6 414.4,300.7 414.6,294.8 414.8,291.1 415.0,315.2 415.2,304.7 415.4,333.5 415.6,312.0 415.8,310.3 416.0,300.3 416.2,298.4 416.4,313.2 416.6,300.4 416.8,322.4 417.0,315.7 417.2,315.6 417.4,307.3 417.6,297.1 417.8,318.5 418.0,300.2 418.2,305.6 418.4,313.9 418.6,302.2 418.8,301.5 419.0,293.9 419.2,317.3 419.4,325.1 419.6,298.0 419.8,318.5 420.0,328.1 420.2,326.2 420.4,317.5 420.6,300.1 420.8,293.6 421.0,300.0 421.2,311.8 421.4,322.3 421.6,321.2 421.8,305.6 422.0,311.4 422.2,302.8 422.4,291.4 422.6,300.7 422.8,318.6 423.0,315.4 423.2,308.3 423.4,307.4 423.6,335.0 423.8,312.1 424.0,304.3 424.2,294.6 424.4,301.1 424.6,311.3 424.8,302.1 425.0,312.2 425.2,302.4 425.4,340.4 425.6,303.1 425.8,317.0 426.0,300.0 426.2,310.2 426.4,316.6 426.6,309.3 426.8,292.2 427.0,323.4 427.2,314.3 427.4,298.3 427.6,302.2 427.8,313.2 428.0,299.0 428.2,313.0 428.4,295.0 428.6,307.4 428.8,314.7 429.0,302.1 429.2,307.5 429.4,310.0 429.6,322.2 429.8,319.3 430.0,308.4 430.2,308.9 430.4,302.5 430.6,302.2 430.8,301.5 431.0,300.5 431.2,314.8 431.4,303.2 431.6,297.8 431.8,297.9 432.0,304.4 432.2,310.0 432.5,300.0 432.7,296.2 432.9,307.2 433.1,315.4 433.3,296.2 433.5,301.2 433.7,289.6 433.9,333.6 434.1,295.9 434.3,294.6 434.5,307.6 434.7,301.9 434.9,313.2 435.1,297.5 435.3,306.3 435.5,307.3 435.7,310.7 435.9,326.2 436.1,304.9 436.3,297.7 436.5,309.9 436.7,298.8 436.9,315.1 437.1,308.2 437.3,306.6 437.5,292.1 437.7,292.3 437.9,299.9 438.1,304.9 438.3,288.6 438.5,300.8 438.7,307.5 438.9,299.7 439.1,315.1 439.3,307.9 439.5,322.6 439.7,299.0 439.9,310.1 440.1,284.7 440.3,298.1 440.5,315.4 440.7,301.6 440.9,300.6 441.1,294.7 441.3,324.1 441.5,319.2 441.7,305.2 441.9,308.9 442.1,305.4 442.3,293.5 442.5,308.8 442.7,300.4 442.9,298.3 443.1,317.0 443.3,305.8 443.5,296.3 443.7,311.1 443.9,305.2 444.1,309.0 444.3,304.4 444.5,308.7 444.7,308.4 444.9,297.5 445.1,329.9 445.3,308.2 445.5,286.4 445.7,316.2 445.9,293.0 446.1,309.6 446.3,322.8 446.5,302.9 446.7,304.7 446.9,318.2 447.1,312.1 447.3,311.3 447.5,304.1 447.7,306.3 447.9,290.1 448.1,301.8 448.3,304.5 448.5,312.1 448.7,310.7 448.9,294.4 449.1,298.6 449.3,287.9 449.5,304.0 449.7,321.8 449.9,307.1 450.1,298.3 450.3,306.5 450.5,303.6 450.7,294.5 450.9,297.1 451.1,303.2 451.3,313.5 451.5,299.6 451.7,298.8 451.9,293.1 452.1,304.5 452.3,295.4 452.5,324.8 452.7,305.8 452.9,282.9 453.1,319.8 453.3,307.6 453.5,304.3 453.7,306.4 453.9,299.2 454.1,296.7 454.3,298.0 454.5,303.2 454.7,308.6 454.9,326.3 455.1,308.6 455.3,313.3 455.5,315.1 455.7,297.9 455.9,296.4 456.1,297.3 456.3,321.8 456.5,293.4 456.7,310.9 456.9,297.8 457.1,335.2 457.3,293.7 457.5,294.6 457.7,300.7 457.9,295.5 458.1,313.1 458.3,315.0 458.5,315.5 458.7,329.2 458.9,297.2 459.1,307.2 459.3,302.0 459.5,299.0 459.7,309.2 459.9,330.8 460.1,297.7 460.3,331.1 460.5,309.1 460.7,301.7 460.9,295.7 461.1,315.1 461.3,307.6 461.5,304.7 461.7,300.4 461.9,304.7 462.1,302.7 462.3,307.5 462.5,290.8 462.7,308.6 462.9,316.6 463.1,314.6 463.3,294.4 463.5,307.2 463.7,309.1 463.9,318.5 464.1,315.6 464.3,317.2 464.5,304.9 464.7,313.4 464.9,305.2 465.1,303.5 465.3,293.0 465.5,309.6 465.7,304.4 465.9,293.0 466.1,320.7 466.3,302.7 466.5,310.3 466.7,309.8 466.9,304.6 467.1,308.4 467.3,316.0 467.5,299.3 467.7,294.8 467.9,317.4 468.1,311.8 468.3,299.6 468.5,317.8 468.7,296.0 468.9,307.7 469.1,310.2 469.3,306.9 469.5,311.4 469.7,302.1 469.9,292.9 470.1,301.2 470.3,312.7 470.5,307.3 470.7,306.4 470.9,303.8 471.1,318.7 471.3,302.0 471.5,309.7 471.7,309.8 471.9,298.5 472.1,315.4 472.3,311.5 472.5,313.1 472.7,295.1 472.9,319.7 473.1,303.3 473.3,306.6 473.5,311.0 473.7,316.3 473.9,301.8 474.1,310.1 474.3,307.1 474.5,306.6 474.7,306.7 474.9,298.2 475.1,306.3 475.3,319.6 475.5,297.9 475.7,293.1 475.9,322.1 476.1,294.9 476.3,303.6 476.5,301.0 476.7,309.0 476.9,303.2 477.1,311.3 477.3,302.2 477.5,296.8 477.7,334.4 477.9,307.8 478.1,311.8 478.3,295.8 478.5,300.2 478.7,302.3 478.9,317.1 479.1,299.4 479.3,311.8 479.5,303.9 479.7,300.8 479.9,314.5 480.1,310.0 480.3,297.8 480.5,313.8 480.7,295.9 480.9,312.2 481.1,306.3 481.3,333.0 481.5,312.5 481.7,331.6 481.9,313.2 482.1,303.6 482.3,314.8 482.5,294.6 482.7,296.5 482.9,306.2 483.1,324.0 483.3,317.0 483.5,295.4 483.7,290.5 483.9,310.1 484.1,293.8 484.3,297.2 484.5,301.2 484.7,298.2 484.9,299.3 485.1,304.8 485.3,317.1 485.5,301.0 485.7,307.4 485.9,311.4 486.1,312.0 486.3,306.1 486.5,300.2 486.7,306.3 486.9,294.4 487.1,306.2 487.3,320.4 487.5,313.0 487.7,284.9 487.9,312.6 488.1,312.7 488.3,303.8 488.5,314.1 488.7,313.8 488.9,305.6 489.1,304.6 489.3,296.8 489.5,317.9 489.7,289.4 489.9,310.7 490.1,303.6 490.3,307.7 490.5,303.2 490.7,306.4 490.9,299.2 491.1,298.8 491.3,325.4 491.5,303.9 491.7,321.7 491.9,315.1 492.1,309.2 492.3,310.3 492.5,306.8 492.7,317.2 492.9,306.3 493.1,303.7 493.3,314.1 493.5,307.2 493.7,312.6 493.9,301.5 494.1,306.8 494.3,317.2 494.5,317.2 494.7,297.7 494.9,306.2 495.1,297.8 495.3,315.3 495.5,298.8 495.7,292.4 495.9,297.1 496.1,296.8 496.3,334.4 496.5,301.8 496.7,314.8 496.9,300.5 497.1,311.1 497.3,320.3 497.5,316.8 497.7,321.6 497.9,317.0 498.1,305.2 498.3,312.3 498.5,308.7 498.7,302.8 498.9,331.4 499.1,298.8 499.3,296.4 499.5,302.5 499.7,318.9 499.9,303.7 500.1,310.0 500.3,301.0 500.5,320.3 500.7,310.8 500.9,308.4 501.1,322.8 501.3,300.1 501.5,323.4 501.7,316.4 501.9,297.2 502.1,306.1 502.3,312.7 502.5,298.3 502.7,300.2 502.9,323.0 503.1,340.0 503.3,325.6 503.5,314.0 503.7,309.1 503.9,299.2 504.1,315.9 504.3,303.3 504.5,308.5 504.7,309.4 504.9,316.9 505.1,313.8 505.3,290.6 505.5,302.6 505.7,318.3 505.9,322.0 506.1,316.2 506.3,318.8 506.5,298.5 506.7,307.7 506.9,309.2 507.1,318.0 507.3,309.4 507.5,303.5 507.7,318.3 507.9,308.9 508.1,314.6 508.3,294.5 508.5,309.5 508.7,314.0" stroke="#d80c0c" />
<line x1="101.7" y1="58" x2="101.7" y2="340" stroke="#b89a8a" stroke-width="0.9"/>
</g></g>
<g stroke="#222" stroke-width="1.4" fill="none">
<rect x="50.6" y="9.3" width="458.1" height="329.6"/>
<line x1="47.6" y1="338.9" x2="50.6" y2="338.9"/>
<line x1="505.7" y1="338.9" x2="508.7" y2="338.9"/>
<line x1="47.6" y1="274.6" x2="50.6" y2="274.6"/>
<line x1="505.7" y1="274.6" x2="508.7" y2="274.6"/>
<line x1="45.1" y1="229.0" x2="50.6" y2="229.0"/>
<line x1="503.2" y1="229.0" x2="508.7" y2="229.0"/>
<line x1="47.6" y1="193.7" x2="50.6" y2="193.7"/>
<line x1="505.7" y1="193.7" x2="508.7" y2="193.7"/>
<line x1="47.6" y1="164.8" x2="50.6" y2="164.8"/>
<line x1="505.7" y1="164.8" x2="508.7" y2="164.8"/>
<line x1="47.6" y1="140.3" x2="50.6" y2="140.3"/>
<line x1="505.7" y1="140.3" x2="508.7" y2="140.3"/>
<line x1="45.1" y1="119.2" x2="50.6" y2="119.2"/>
<line x1="503.2" y1="119.2" x2="508.7" y2="119.2"/>
<line x1="47.6" y1="100.5" x2="50.6" y2="100.5"/>
<line x1="505.7" y1="100.5" x2="508.7" y2="100.5"/>
<line x1="47.6" y1="83.8" x2="50.6" y2="83.8"/>
<line x1="505.7" y1="83.8" x2="508.7" y2="83.8"/>
<line x1="47.6" y1="68.7" x2="50.6" y2="68.7"/>
<line x1="505.7" y1="68.7" x2="508.7" y2="68.7"/>
<line x1="45.1" y1="54.9" x2="50.6" y2="54.9"/>
<line x1="503.2" y1="54.9" x2="508.7" y2="54.9"/>
<line x1="47.6" y1="42.2" x2="50.6" y2="42.2"/>
<line x1="505.7" y1="42.2" x2="508.7" y2="42.2"/>
<line x1="47.6" y1="30.5" x2="50.6" y2="30.5"/>
<line x1="505.7" y1="30.5" x2="508.7" y2="30.5"/>
<line x1="47.6" y1="19.5" x2="50.6" y2="19.5"/>
<line x1="505.7" y1="19.5" x2="508.7" y2="19.5"/>
<line x1="45.1" y1="9.3" x2="50.6" y2="9.3"/>
<line x1="503.2" y1="9.3" x2="508.7" y2="9.3"/>
<line x1="50.6" y1="338.9" x2="50.6" y2="341.9"/>
<line x1="50.6" y1="9.3" x2="50.6" y2="12.3"/>
<line x1="101.5" y1="338.9" x2="101.5" y2="344.4"/>
<line x1="101.5" y1="9.3" x2="101.5" y2="14.8"/>
<line x1="152.4" y1="338.9" x2="152.4" y2="341.9"/>
<line x1="152.4" y1="9.3" x2="152.4" y2="12.3"/>
<line x1="203.3" y1="338.9" x2="203.3" y2="344.4"/>
<line x1="203.3" y1="9.3" x2="203.3" y2="14.8"/>
<line x1="254.2" y1="338.9" x2="254.2" y2="341.9"/>
<line x1="254.2" y1="9.3" x2="254.2" y2="12.3"/>
<line x1="305.1" y1="338.9" x2="305.1" y2="344.4"/>
<line x1="305.1" y1="9.3" x2="305.1" y2="14.8"/>
<line x1="356.0" y1="338.9" x2="356.0" y2="341.9"/>
<line x1="356.0" y1="9.3" x2="356.0" y2="12.3"/>
<line x1="406.9" y1="338.9" x2="406.9" y2="344.4"/>
<line x1="406.9" y1="9.3" x2="406.9" y2="14.8"/>
<line x1="457.8" y1="338.9" x2="457.8" y2="341.9"/>
<line x1="457.8" y1="9.3" x2="457.8" y2="12.3"/>
<line x1="508.7" y1="338.9" x2="508.7" y2="344.4"/>
<line x1="508.7" y1="9.3" x2="508.7" y2="14.8"/>
</g>
<text x="41.6" y="235.0" text-anchor="end">4</text><text x="41.6" y="125.2" text-anchor="end">8</text><text x="41.6" y="60.9" text-anchor="end">12</text><text x="41.6" y="15.3" text-anchor="end">16</text>
<text x="101.5" y="362.9" text-anchor="middle">0</text><text x="203.3" y="362.9" text-anchor="middle">20</text><text x="305.1" y="362.9" text-anchor="middle">40</text><text x="406.9" y="362.9" text-anchor="middle">60</text><text x="508.7" y="362.9" text-anchor="middle">80</text>
<text class="t" x="280.5" y="386.6" text-anchor="middle">Time (ns)</text>
<text class="yl" transform="translate(16.8,174.2) rotate(-90)" text-anchor="middle">PL intensity (arb. units)</text>
<text x="456" y="117">5.6V</text>
<text x="456" y="175">4.9V</text>
<text x="454" y="242.5">3.5V</text>
<text x="297" y="241.5">2.8V</text>
<text x="163.5" y="300">0V</text>
</svg>
</body></html>
